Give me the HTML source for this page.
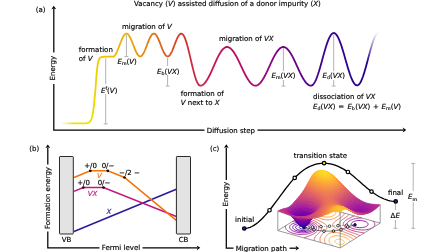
<!DOCTYPE html><html><head><meta charset="utf-8"><style>html,body{margin:0;padding:0;background:#fff}svg{display:block}text{font-family:"DejaVu Sans","Liberation Sans",sans-serif;font-size:7px;fill:#000;stroke:#000;stroke-width:0.15px}.i{font-style:italic}.sub{font-size:4.7px}.ax{stroke:#000;stroke-width:1.25;fill:none}.gb{stroke:#b2b2b2;stroke-width:1;fill:none}.ln{stroke-width:1.55;fill:none}</style></head><body>
<svg width="448" height="252" viewBox="0 0 448 252">
<rect width="448" height="252" fill="#fff"/>
<defs><linearGradient id="ga" gradientUnits="userSpaceOnUse" x1="60" y1="0" x2="380" y2="0"><stop offset="0" stop-color="#ece400"/><stop offset="0.09" stop-color="#ece200"/><stop offset="0.12" stop-color="#eecd00"/><stop offset="0.21" stop-color="#f0aa0a"/><stop offset="0.25" stop-color="#e8910c"/><stop offset="0.29" stop-color="#e17314"/><stop offset="0.34" stop-color="#dc551e"/><stop offset="0.38" stop-color="#d73728"/><stop offset="0.44" stop-color="#c8204a"/><stop offset="0.52" stop-color="#c30a5f"/><stop offset="0.61" stop-color="#a50a78"/><stop offset="0.7" stop-color="#780087"/><stop offset="0.78" stop-color="#50008c"/><stop offset="0.86" stop-color="#37008c"/><stop offset="0.93" stop-color="#280091"/><stop offset="1" stop-color="#280091"/></linearGradient>
<linearGradient id="fade" gradientUnits="userSpaceOnUse" x1="60" y1="0" x2="74" y2="0"><stop offset="0" stop-color="#fff" stop-opacity="1"/><stop offset="1" stop-color="#fff" stop-opacity="0"/></linearGradient>
<linearGradient id="fade2" gradientUnits="userSpaceOnUse" x1="0" y1="62" x2="0" y2="32"><stop offset="0" stop-color="#fff" stop-opacity="0"/><stop offset="1" stop-color="#fff" stop-opacity="1"/></linearGradient></defs>
<path d="M105.7 58.2 V123.9" class="gb"/>
<path d="M103.7 123.9 H107.7" class="gb"/>
<path d="M126.4 35 V56.6" class="gb"/>
<path d="M124.4 56.6 H128.4" class="gb"/>
<path d="M167.6 58 V86.1" class="gb"/>
<path d="M165.6 86.1 H169.6" class="gb"/>
<path d="M283.4 48 V86.1" class="gb"/>
<path d="M281.4 86.1 H285.4" class="gb"/>
<path d="M333.7 34.5 V86.1" class="gb"/>
<path d="M331.7 86.1 H335.7" class="gb"/>
<rect x="100" y="84" width="12" height="10" fill="#fff"/>
<rect x="160" y="66" width="16" height="9" fill="#fff"/>
<rect x="275" y="71" width="17" height="9" fill="#fff"/>
<rect x="326" y="71" width="16" height="9" fill="#fff"/>
<path d="M61 123.4 L61.34 123.4 L61.68 123.4 L62.01 123.4 L62.35 123.4 L62.69 123.4 L63.03 123.4 L63.37 123.4 L63.71 123.4 L64.04 123.4 L64.38 123.4 L64.72 123.4 L65.06 123.4 L65.4 123.4 L65.73 123.4 L66.07 123.4 L66.41 123.4 L66.75 123.4 L67.09 123.4 L67.42 123.4 L67.76 123.4 L68.1 123.4 L68.44 123.4 L68.78 123.4 L69.12 123.4 L69.45 123.4 L69.79 123.4 L70.13 123.4 L70.47 123.4 L70.81 123.4 L71.14 123.4 L71.48 123.4 L71.82 123.4 L72.16 123.4 L72.5 123.4 L72.83 123.4 L73.17 123.4 L73.51 123.4 L73.85 123.4 L74.19 123.4 L74.53 123.4 L74.86 123.4 L75.2 123.4 L75.54 123.4 L75.88 123.4 L76.22 123.4 L76.55 123.4 L76.89 123.4 L77.23 123.4 L77.57 123.4 L77.91 123.4 L78.24 123.4 L78.58 123.4 L78.92 123.4 L79.26 123.4 L79.6 123.4 L79.94 123.4 L80.27 123.4 L80.61 123.4 L80.95 123.4 L81.29 123.39 L81.63 123.39 L81.96 123.39 L82.3 123.39 L82.64 123.39 L82.98 123.38 L83.32 123.38 L83.65 123.37 L83.99 123.37 L84.33 123.36 L84.67 123.35 L85.01 123.33 L85.35 123.32 L85.68 123.3 L86.02 123.27 L86.36 123.24 L86.7 123.2 L87.04 123.15 L87.37 123.08 L87.71 123.01 L88.05 122.91 L88.39 122.78 L88.73 122.63 L89.06 122.44 L89.4 122.2 L89.74 121.9 L90.08 121.53 L90.42 121.08 L90.76 120.51 L91.09 119.82 L91.43 118.98 L91.77 117.95 L92.11 116.71 L92.45 115.23 L92.78 113.47 L93.12 111.41 L93.46 109.04 L93.8 106.33 L94.14 103.32 L94.47 100.02 L94.81 96.49 L95.15 92.81 L95.49 88.76 L95.83 83.92 L96.17 79.34 L96.5 75.17 L96.84 71.51 L97.18 68.4 L97.52 65.83 L97.86 63.75 L98.19 62.1 L98.53 60.81 L98.87 59.81 L99.21 59.05 L99.55 58.46 L99.88 58.02 L100.22 57.69 L100.56 57.44 L100.9 57.25 L101.24 57.11 L101.58 57.01 L101.91 56.93 L102.25 56.87 L102.59 56.83 L102.93 56.8 L103.27 56.77 L103.6 56.75 L103.94 56.74 L104.28 56.73 L104.62 56.72 L104.96 56.72 L105.29 56.71 L105.63 56.71 L105.97 56.71 L106.31 56.71 L106.65 56.7 L106.99 56.7 L107.32 56.7 L107.66 56.7 L108 56.7 L112.8 56.7 L113.39 56.59 L113.98 56.27 L114.57 55.74 L115.17 55.02 L115.76 54.11 L116.35 53.03 L116.94 51.81 L117.53 50.46 L118.12 49.02 L118.71 47.5 L119.3 45.94 L119.9 44.36 L120.49 42.8 L121.08 41.28 L121.67 39.84 L122.26 38.49 L122.85 37.27 L123.44 36.19 L124.03 35.28 L124.63 34.56 L125.22 34.03 L125.81 33.71 L126.4 33.6 L127 33.71 L127.6 34.02 L128.2 34.54 L128.8 35.26 L129.4 36.16 L130 37.22 L130.6 38.43 L131.2 39.76 L131.8 41.18 L132.4 42.68 L133 44.22 L133.6 45.78 L134.2 47.32 L134.8 48.82 L135.4 50.24 L136 51.57 L136.6 52.78 L137.2 53.84 L137.8 54.74 L138.4 55.46 L139 55.98 L139.6 56.29 L140.2 56.4 L140.79 56.29 L141.38 55.98 L141.97 55.46 L142.57 54.74 L143.16 53.84 L143.75 52.78 L144.34 51.57 L144.93 50.24 L145.52 48.82 L146.11 47.32 L146.7 45.78 L147.3 44.22 L147.89 42.68 L148.48 41.18 L149.07 39.76 L149.66 38.43 L150.25 37.22 L150.84 36.16 L151.43 35.26 L152.03 34.54 L152.62 34.02 L153.21 33.71 L153.8 33.6 L154.4 33.71 L155.01 34.02 L155.61 34.54 L156.22 35.26 L156.82 36.16 L157.43 37.22 L158.03 38.43 L158.63 39.76 L159.24 41.18 L159.84 42.68 L160.45 44.22 L161.05 45.78 L161.66 47.32 L162.26 48.82 L162.87 50.24 L163.47 51.57 L164.07 52.78 L164.68 53.84 L165.28 54.74 L165.89 55.46 L166.49 55.98 L167.1 56.29 L167.7 56.4 L168.29 56.29 L168.88 55.98 L169.47 55.46 L170.07 54.74 L170.66 53.84 L171.25 52.78 L171.84 51.57 L172.43 50.24 L173.02 48.82 L173.61 47.32 L174.2 45.78 L174.8 44.22 L175.39 42.68 L175.98 41.18 L176.57 39.76 L177.16 38.43 L177.75 37.22 L178.34 36.16 L178.93 35.26 L179.53 34.54 L180.12 34.02 L180.71 33.71 L181.3 33.6 L182.13 33.84 L182.95 34.57 L183.78 35.76 L184.6 37.39 L185.43 39.44 L186.26 41.87 L187.08 44.63 L187.91 47.67 L188.73 50.93 L189.56 54.35 L190.39 57.87 L191.21 61.43 L192.04 64.95 L192.87 68.37 L193.69 71.63 L194.52 74.67 L195.34 77.43 L196.17 79.86 L197 81.91 L197.82 83.54 L198.65 84.73 L199.47 85.46 L200.3 85.7 L201.46 85.52 L202.62 84.98 L203.78 84.1 L204.94 82.88 L206.1 81.36 L207.27 79.56 L208.43 77.51 L209.59 75.25 L210.75 72.83 L211.91 70.29 L213.07 67.67 L214.23 65.03 L215.39 62.41 L216.55 59.87 L217.71 57.45 L218.87 55.19 L220.03 53.14 L221.2 51.34 L222.36 49.82 L223.52 48.6 L224.68 47.72 L225.84 47.18 L227 47 L228.24 47.18 L229.48 47.72 L230.72 48.6 L231.96 49.82 L233.2 51.34 L234.43 53.14 L235.67 55.19 L236.91 57.45 L238.15 59.87 L239.39 62.41 L240.63 65.03 L241.87 67.67 L243.11 70.29 L244.35 72.83 L245.59 75.25 L246.83 77.51 L248.07 79.56 L249.3 81.36 L250.54 82.88 L251.78 84.1 L253.02 84.98 L254.26 85.52 L255.5 85.7 L256.71 85.52 L257.92 84.98 L259.13 84.1 L260.33 82.88 L261.54 81.36 L262.75 79.56 L263.96 77.51 L265.17 75.25 L266.38 72.83 L267.59 70.29 L268.8 67.67 L270 65.03 L271.21 62.41 L272.42 59.87 L273.63 57.45 L274.84 55.19 L276.05 53.14 L277.26 51.34 L278.47 49.82 L279.67 48.6 L280.88 47.72 L282.09 47.18 L283.3 47 L284.5 47.18 L285.71 47.72 L286.91 48.6 L288.12 49.82 L289.32 51.34 L290.53 53.14 L291.73 55.19 L292.93 57.45 L294.14 59.87 L295.34 62.41 L296.55 65.03 L297.75 67.67 L298.96 70.29 L300.16 72.83 L301.37 75.25 L302.57 77.51 L303.77 79.56 L304.98 81.36 L306.18 82.88 L307.39 84.1 L308.59 84.98 L309.8 85.52 L311 85.7 L311.99 85.45 L312.97 84.72 L313.96 83.52 L314.95 81.86 L315.93 79.79 L316.92 77.34 L317.91 74.55 L318.9 71.47 L319.88 68.17 L320.87 64.71 L321.86 61.15 L322.84 57.55 L323.83 53.99 L324.82 50.53 L325.8 47.23 L326.79 44.15 L327.78 41.36 L328.77 38.91 L329.75 36.84 L330.74 35.18 L331.73 33.98 L332.71 33.25 L333.7 33 L334.72 33.24 L335.73 33.97 L336.75 35.17 L337.77 36.81 L338.79 38.88 L339.8 41.32 L340.82 44.09 L341.84 47.15 L342.86 50.43 L343.87 53.87 L344.89 57.41 L345.91 60.99 L346.93 64.53 L347.94 67.97 L348.96 71.25 L349.98 74.31 L351 77.08 L352.01 79.52 L353.03 81.59 L354.05 83.23 L355.07 84.43 L356.08 85.16 L357.1 85.4 L358.05 85.15 L359 84.42 L359.96 83.2 L360.91 81.53 L361.86 79.45 L362.81 76.97 L363.77 74.16 L364.72 71.06 L365.67 67.74 L366.62 64.25 L367.57 60.66 L368.53 57.04 L369.48 53.45 L370.43 49.96 L371.38 46.64 L372.33 43.54 L373.29 40.73 L374.24 38.25 L375.19 36.17 L376.14 34.5 L377.1 33.28 L378.05 32.55 L379 32.3" fill="none" stroke="url(#ga)" stroke-width="1.8" stroke-linejoin="round"/>
<rect x="58" y="120" width="17" height="7" fill="url(#fade)"/>
<rect x="362" y="28" width="22" height="36" fill="url(#fade2)"/>
<path d="M53.8 52.5 V8.5" class="ax"/><path d="M53.8 5.7 l-2.4 3.6 l2.4 -0.9 l2.4 0.9z" fill="#000"/>
<path d="M53.8 84 V130 H204.5" class="ax"/>
<path d="M257.5 130 H403.5" class="ax"/><path d="M406.3 130 l-3.6 -2.4 l0.9 2.4 l-0.9 2.4z" fill="#000"/>
<text x="230.9" y="132.6" text-anchor="middle">Diffusion step</text>
<text transform="translate(55.4 68.2) rotate(-90)" text-anchor="middle">Energy</text>
<text x="35.8" y="12.3">(a)</text>
<text x="227.3" text-anchor="middle" y="6.3">Vacancy (<tspan class="i">V</tspan>) assisted diffusion of a donor impurity (<tspan class="i">X</tspan>)</text>
<text x="122" y="28.5">migration of <tspan class="i">V</tspan></text>
<text x="219" y="41.3">migration of <tspan class="i">VX</tspan></text>
<text x="78.8" y="51.8">formation</text><text x="78.8" y="61">of <tspan class="i">V</tspan></text>
<text x="180.7" y="96.3">formation of</text><text x="180.7" y="105.2"><tspan class="i">V</tspan> next to <tspan class="i">X</tspan></text>
<text x="313" y="98.5">dissociation of <tspan class="i">VX</tspan></text>
<text x="313" y="108.5"><tspan class="i">E</tspan><tspan class="sub" dy="1.5">d</tspan><tspan dy="-1.5">(</tspan><tspan class="i">VX</tspan>)<tspan dx="0.5"> =</tspan><tspan dx="1.1"> </tspan><tspan class="i">E</tspan><tspan class="sub" dy="1.5">b</tspan><tspan dy="-1.5" dx="0.4">(</tspan><tspan class="i">VX</tspan>)<tspan dx="0.4"> +</tspan><tspan dx="0.5"> </tspan><tspan class="i">E</tspan><tspan class="sub" dy="1.5">m</tspan><tspan dy="-1.5" dx="0.3">(</tspan><tspan class="i">V</tspan>)</text>
<text x="117.5" y="63.5"><tspan class="i">E</tspan><tspan class="sub" dy="1.5">m</tspan><tspan dy="-1.5">(</tspan><tspan class="i">V</tspan>)</text>
<text x="157" y="73.5"><tspan class="i">E</tspan><tspan class="sub" dy="1.5">b</tspan><tspan dy="-1.5">(</tspan><tspan class="i">VX</tspan>)</text>
<text x="271.5" y="77.6"><tspan class="i">E</tspan><tspan class="sub" dy="1.5">m</tspan><tspan dy="-1.5">(</tspan><tspan class="i">VX</tspan>)</text>
<text x="322.5" y="77.6"><tspan class="i">E</tspan><tspan class="sub" dy="1.5">d</tspan><tspan dy="-1.5">(</tspan><tspan class="i">VX</tspan>)</text>
<text x="101" y="92.5"><tspan class="i">E</tspan><tspan class="sub" dy="-2.6">f</tspan><tspan dy="2.6">(</tspan><tspan class="i">V</tspan>)</text>
<text x="29.3" y="151.3">(b)</text>
<path d="M47.8 147.5 V164.5" class="ax"/><path d="M47.8 144.5 l-2.4 3.6 l2.4 -0.9 l2.4 0.9z" fill="#000"/>
<path d="M47.8 231.5 V247.8 H99.5" class="ax"/>
<path d="M142.5 247.8 H197.5" class="ax"/><path d="M200.3 247.8 l-3.6 -2.4 l0.9 2.4 l-0.9 2.4z" fill="#000"/>
<text x="121" y="250.4" text-anchor="middle">Fermi level</text>
<text transform="translate(49.6 198) rotate(-90)" text-anchor="middle">Formation energy</text>
<path d="M74 231.5 L176.3 189.3" stroke="#2c1a9a" class="ln"/>
<path d="M74 191.4 L83.3 187.5 H103.5 L176.3 216.5" stroke="#c0187f" class="ln"/>
<path d="M74 177.5 L90.3 170.8 H107.8 L124.5 177.5 L176.3 220.3" stroke="#f47206" class="ln"/>
<circle cx="90.3" cy="170.8" r="1.35" fill="#1a0a0a"/>
<circle cx="107.8" cy="170.8" r="1.35" fill="#1a0a0a"/>
<circle cx="124.5" cy="177.5" r="1.35" fill="#1a0a0a"/>
<circle cx="83.3" cy="187.5" r="1.35" fill="#1a0a0a"/>
<circle cx="103.5" cy="187.5" r="1.35" fill="#1a0a0a"/>
<rect x="59.5" y="156.5" width="13.8" height="77.5" rx="0.6" fill="#e3e3e3" stroke="#2a2a2a" stroke-width="1"/>
<rect x="176.4" y="156.5" width="14.1" height="77.5" rx="0.6" fill="#e3e3e3" stroke="#2a2a2a" stroke-width="1"/>
<text x="66.6" y="241.8" text-anchor="middle">VB</text><text x="183.6" y="242" text-anchor="middle">CB</text>
<g style="font-size:5.4px"><text x="90.5" y="167.7" text-anchor="middle">+/0</text><text x="108" y="167.7" text-anchor="middle">0/−</text><text x="129.5" y="174.5" text-anchor="middle">−/2 −</text>
<text x="83.5" y="185" text-anchor="middle">+/0</text><text x="104" y="185" text-anchor="middle">0/−</text></g>
<text x="97" y="178" class="i" style="fill:#f47206;stroke:#f47206">V</text>
<text x="87.8" y="195.5" class="i" style="fill:#c0187f;stroke:#c0187f">VX</text>
<text x="106.5" y="214" class="i" style="fill:#2c1a9a;stroke:#2c1a9a">X</text>
<text x="210" y="151.3">(c)</text>
<path d="M226.3 147.5 V180" class="ax"/><path d="M226.3 144.3 l-2.4 3.6 l2.4 -0.9 l2.4 0.9z" fill="#000"/>
<path d="M226.3 209 V248.2 H233.5" class="ax"/>
<path d="M289.5 248.2 H296.5" class="ax"/><path d="M299.2 248.2 l-3.6 -2.4 l0.9 2.4 l-0.9 2.4z" fill="#000"/>
<text x="261.3" y="250.8" text-anchor="middle">Migration path</text>
<text transform="translate(228.1 194.2) rotate(-90)" text-anchor="middle">Energy</text>
<g stroke="#808080" stroke-width="0.8" fill="none">
<path d="M277.8 230.6 L317.8 205.8 L380.2 223.1"/>
</g>
<g fill="none" stroke-width="0.95">
<path d="M300.53 228.64 L299.95 228.37 L299.69 228.23 L299.16 227.62 L299.13 227.54 L299.24 226.97 L299.71 226.51 L300.54 226.14 L301.77 225.88 L302 225.86 L303.49 225.87 L304.34 225.99 L304.69 226.06 L305.26 226.25 L305.66 226.39 L306.36 226.89 L306.6 227.22 L306.66 227.64 L306.62 227.82 L306.18 228.3 L305.42 228.69 L304.61 228.91 L304.27 228.97 L302.89 229.04 L302.2 228.99 L301.58 228.92 L300.53 228.64" stroke="#2f0596"/>
<path d="M298.63 229.82 L298.39 229.73 L297.7 229.46 L296.89 229.03 L296.26 228.54 L296.22 228.51 L295.76 227.86 L295.73 227.8 L295.64 227.17 L295.69 226.97 L295.82 226.62 L296.2 226.13 L296.76 225.69 L297.5 225.3 L298.43 224.95 L299.3 224.74 L299.58 224.68 L301.04 224.48 L301.23 224.47 L302.78 224.44 L303.11 224.46 L304.13 224.54 L305.34 224.72 L306.43 224.98 L307.4 225.31 L308.25 225.72 L308.7 226.01 L308.97 226.2 L309.52 226.8 L309.55 226.84 L309.78 227.5 L309.78 227.57 L309.68 228.07 L309.39 228.59 L308.91 229.04 L308.9 229.05 L308.28 229.43 L308.23 229.46 L307.36 229.82 L306.3 230.13 L305.37 230.3 L304.97 230.36 L303.61 230.46 L303.2 230.46 L302.14 230.44 L300.84 230.31 L299.88 230.14 L299.67 230.1 L298.63 229.82" stroke="#5302a3"/>
<path d="M295.21 230.07 L295.11 230.01 L294.42 229.63 L293.74 229.11 L293.63 229.01 L293.19 228.52 L293.01 228.24 L292.82 227.82 L292.75 227.57 L292.74 226.97 L292.75 226.93 L292.91 226.42 L293.24 225.91 L293.7 225.44 L293.97 225.24 L294.29 225 L294.86 224.69 L295.01 224.6 L295.86 224.24 L296.86 223.92 L298.03 223.65 L298.05 223.64 L299.42 223.43 L299.98 223.38 L301.14 223.31 L301.61 223.3 L303.06 223.34 L303.5 223.37 L304.38 223.45 L305.6 223.63 L306.73 223.86 L307.77 224.15 L308.74 224.48 L309.62 224.87 L310.31 225.26 L310.41 225.31 L311.09 225.83 L311.43 226.17 L311.64 226.41 L311.93 226.9 L312.01 227.12 L312.1 227.55 L312.08 228.01 L312.06 228.13 L311.83 228.67 L311.46 229.17 L310.96 229.62 L310.73 229.78 L310.33 230.05 L310.13 230.15 L309.57 230.44 L308.68 230.79 L307.63 231.1 L306.8 231.28 L306.41 231.35 L304.95 231.55 L304.85 231.56 L303.22 231.64 L303.12 231.64 L301.76 231.61 L300.45 231.5 L300.44 231.49 L299.22 231.32 L298.09 231.09 L297.04 230.8 L296.08 230.46 L295.21 230.07" stroke="#7401a8"/>
<path d="M292.61 230.75 L291.86 230.31 L291.84 230.3 L291.13 229.8 L290.68 229.39 L290.53 229.24 L290.05 228.61 L290.04 228.61 L289.72 227.92 L289.71 227.88 L289.6 227.29 L289.61 227.01 L289.64 226.71 L289.83 226.16 L290.03 225.82 L290.13 225.64 L290.53 225.16 L291.04 224.7 L291.65 224.27 L292.36 223.87 L293.17 223.5 L294.09 223.15 L294.54 223.02 L295.13 222.84 L296.31 222.57 L296.94 222.47 L297.67 222.35 L298.82 222.23 L299.27 222.2 L300.46 222.15 L301.23 222.14 L301.95 222.16 L303.33 222.24 L303.96 222.3 L304.61 222.37 L305.82 222.56 L306.96 222.79 L308.03 223.05 L309.04 223.36 L309.99 223.71 L310.88 224.09 L311.4 224.36 L311.69 224.52 L312.44 224.99 L312.94 225.39 L313.09 225.52 L313.64 226.11 L313.71 226.2 L314.05 226.79 L314.1 226.91 L314.26 227.55 L314.26 227.59 L314.24 228.14 L314.1 228.62 L314.08 228.69 L313.79 229.21 L313.39 229.7 L312.9 230.16 L312.3 230.59 L311.61 231 L310.83 231.38 L309.94 231.73 L308.93 232.05 L308.3 232.22 L307.8 232.34 L306.51 232.58 L306.13 232.63 L305 232.76 L304.33 232.81 L303.2 232.86 L302.74 232.87 L301.29 232.83 L300.84 232.8 L299.94 232.73 L298.69 232.58 L297.51 232.38 L296.4 232.13 L295.36 231.85 L294.37 231.52 L293.46 231.16 L292.61 230.75" stroke="#9410a2"/>
<path d="M354.65 226.81 L354.34 226.7 L353.72 226.46 L352.89 226.03 L352.18 225.54 L352.1 225.48 L351.63 224.95 L351.48 224.71 L351.31 224.22 L351.28 224.06 L351.37 223.48 L351.53 223.14 L351.64 222.96 L352.1 222.49 L352.69 222.05 L353.43 221.66 L354.3 221.3 L354.72 221.17 L355.34 220.99 L356.56 220.73 L357.05 220.66 L358.06 220.55 L358.81 220.5 L360.01 220.49 L360.32 220.5 L361.65 220.6 L362.87 220.78 L363.97 221.03 L364.96 221.35 L365.86 221.73 L366.64 222.17 L366.99 222.43 L367.31 222.7 L367.77 223.24 L367.81 223.31 L368.05 223.92 L368.07 224.09 L368.05 224.52 L367.86 225.06 L367.74 225.23 L367.49 225.56 L366.96 226.01 L366.29 226.42 L365.47 226.79 L364.91 226.98 L364.48 227.12 L363.29 227.38 L362.59 227.49 L361.82 227.57 L360.86 227.63 L359.9 227.64 L359.36 227.62 L358.02 227.52 L356.79 227.35 L356.4 227.27 L355.67 227.11 L354.65 226.81" stroke="#9410a2"/>
<path d="M292.45 221.52 L292.48 221.51 L293.64 221.23 L294.7 221.05 L294.98 221.01 L296.49 220.83 L296.58 220.82 L298.25 220.72 L298.26 220.72 L299.78 220.71 L300.43 220.72 L301.2 220.76 L302.54 220.86 L303.44 220.96 L303.81 221.01 L305.03 221.19 L306.19 221.4 L307.3 221.64 L308.36 221.92 L309.38 222.22 L310.36 222.54 L311.29 222.9 L312.17 223.29 L312.56 223.49 L313 223.71 L313.77 224.16 L314.39 224.59 L314.48 224.66 L315.12 225.19 L315.38 225.47 L315.66 225.79 L315.97 226.23 L316.1 226.45 L316.3 226.92 L316.38 227.21 L316.45 227.56 L316.45 228.1 L316.45 228.15 L316.33 228.72 L316.09 229.25 L316.09 229.25 L315.78 229.76 L315.38 230.25 L314.9 230.72 L314.34 231.16 L313.72 231.58 L313.02 231.99 L312.26 232.38 L311.42 232.74 L310.5 233.09 L309.5 233.41 L309.31 233.46 L308.4 233.7 L307.18 233.96 L306.92 234.01 L305.82 234.18 L304.96 234.29 L304.27 234.35 L303.24 234.42 L302.45 234.44 L301.67 234.46 L300.24 234.42 L300.2 234.42 L298.87 234.33 L297.59 234.19 L296.76 234.06 L296.38 234.01 L295.22 233.8 L294.12 233.55 L293.07 233.26 L292.07 232.95 L291.13 232.6 L290.48 232.32 L290.24 232.22 L289.38 231.82 L288.59 231.37 L288.14 231.08 L287.86 230.89 L287.19 230.38 L286.95 230.15 L286.6 229.81 L286.21 229.34 L286.1 229.19 L285.75 228.62 L285.7 228.5 L285.49 227.95 L285.44 227.73 L285.37 227.32 L285.4 226.82 L285.4 226.73 L285.51 226.16 L285.73 225.68" stroke="#ae2892"/>
<path d="M372.75 221.03 L372.86 221.12 L373.5 221.65 L373.75 221.91 L374.05 222.25 L374.34 222.67 L374.48 222.91 L374.68 223.37 L374.77 223.67 L374.84 224.01 L374.84 224.55 L374.84 224.61 L374.73 225.17 L374.5 225.7 L374.5 225.71 L374.18 226.22 L373.77 226.7 L373.26 227.16 L372.66 227.59 L371.98 228 L371.21 228.38 L370.33 228.74 L369.34 229.06 L368.89 229.18 L368.23 229.35 L366.97 229.6 L366.63 229.65 L365.53 229.8 L364.78 229.86 L363.83 229.93 L363.14 229.95 L361.76 229.95 L361.63 229.95 L360.23 229.88 L358.99 229.78 L358.9 229.77 L357.65 229.61 L356.46 229.42 L355.32 229.2 L354.23 228.94 L353.2 228.64 L352.21 228.32 L351.29 227.96 L350.42 227.57 L349.77 227.22 L349.61 227.14 L348.87 226.66 L348.33 226.23 L348.22 226.13 L347.67 225.54 L347.59 225.42 L347.27 224.86 L347.21 224.72 L347.07 224.08 L347.07 224.05 L347.11 223.5 L347.27 222.99 L347.29 222.95 L347.6 222.44 L348.01 221.95 L348.51 221.49 L349.09 221.06 L349.76 220.64 L350.5 220.25 L351.32 219.88 L352.2 219.53 L353.17 219.19 L353.6 219.06 L354.22 218.89 L355.37 218.61 L356.08 218.46 L356.64 218.36 L358.06 218.16 L358.07 218.16 L359.72 218.02 L359.81 218.01 L361.37 217.98 L361.77 217.99" stroke="#ae2892"/>
<path d="M298.06 218.04 L299.21 218.26 L300.35 218.48 L301.48 218.72 L302.6 218.96 L303.06 219.06 L303.7 219.21 L304.79 219.46 L305.86 219.73 L306.92 220.01 L307.95 220.31 L308.96 220.61 L309.94 220.94 L310.33 221.07 L310.9 221.28 L311.84 221.63 L312.74 222 L313.6 222.4 L314.39 222.8 L314.43 222.82 L315.23 223.26 L315.97 223.73 L316.19 223.9 L316.66 224.24 L317.28 224.78 L317.31 224.8 L317.84 225.37 L318.02 225.6 L318.31 226.01 L318.48 226.33 L318.66 226.73 L318.75 227 L318.86 227.54 L318.87 227.63 L318.87 228.23 L318.82 228.49 L318.77 228.8 L318.58 229.34 L318.39 229.7 L318.31 229.87 L317.98 230.37 L317.58 230.86 L317.12 231.33 L316.81 231.61 L316.61 231.79 L316.07 232.24 L315.47 232.67 L314.84 233.09 L314.16 233.5 L313.45 233.9 L312.71 234.3 L311.93 234.68 L311.62 234.83 L311.13 235.05 L310.3 235.42 L309.44 235.78 L308.57 236.14 L307.67 236.49 L307.02 236.75 L306.77 236.84 L305.85 237.18 L304.94 237.53 L304.05 237.88" stroke="#c5407e"/>
<path d="M364.21 233.01 L364.13 233 L363.02 232.82 L361.83 232.62 L360.66 232.42 L359.5 232.2 L358.36 231.97 L358 231.9 L357.24 231.74 L356.14 231.49 L355.05 231.23 L354 230.95 L352.96 230.66 L351.95 230.35 L350.97 230.02 L350.12 229.71 L350.02 229.68 L349.11 229.31 L348.23 228.93 L347.39 228.51 L346.82 228.2 L346.59 228.07 L345.85 227.6 L345.27 227.17 L345.16 227.09 L344.55 226.54 L344.34 226.32 L344.02 225.94 L343.76 225.56 L343.6 225.27 L343.43 224.87 L343.33 224.5 L343.28 224.23 L343.28 223.63 L343.29 223.59 L343.41 223.07 L343.64 222.53 L343.73 222.38 L343.96 222.02 L344.36 221.54 L344.83 221.07 L345.36 220.62 L345.95 220.18 L346.58 219.76 L347.25 219.35 L347.96 218.95 L348.7 218.55 L349.47 218.17 L350.26 217.79 L351.07 217.42 L351.89 217.05 L352.73 216.68 L353.4 216.38 L353.57 216.32 L354.43 215.95" stroke="#c5407e"/>
<path d="M359.97 235.64 L359.12 235.24 L358.89 235.14 L358.23 234.85 L357.33 234.48 L356.39 234.13 L355.45 233.78 L354.49 233.44 L353.52 233.11 L352.64 232.81 L352.55 232.78 L351.59 232.44 L350.62 232.11 L349.67 231.77 L348.72 231.42 L347.79 231.06 L346.88 230.69 L346.34 230.46 L345.99 230.31 L345.12 229.92 L344.28 229.51 L343.48 229.07 L343.47 229.07 L342.7 228.62 L341.98 228.14 L341.8 228 L341.29 227.63 L340.7 227.1 L340.67 227.08 L340.12 226.49 L339.97 226.3 L339.65 225.84 L339.5 225.57 L339.31 225.13 L339.23 224.9 L339.13 224.3 L339.12 224.27 L339.14 223.68 L339.22 223.31 L339.27 223.12 L339.5 222.58 L339.81 222.07 L339.9 221.96 L340.19 221.58 L340.63 221.1 L341.13 220.64 L341.67 220.19 L342.24 219.75 L342.84 219.32 L343.46 218.9 L344.1 218.47 L344.74 218.05 L345.38 217.63 L345.41 217.61 L346.01 217.21 L346.62 216.78 L347.21 216.35 L347.76 215.9 L348.26 215.44 L348.71 214.97 L349.08 214.47" stroke="#d9586a"/>
<path d="M302.82 215.09 L303.5 215.59 L303.5 215.6 L304.22 216.09 L304.97 216.55 L305.12 216.64 L305.76 217 L306.57 217.43 L307.42 217.84 L307.63 217.93 L308.28 218.23 L309.16 218.62 L310.05 219 L310.95 219.38 L311.4 219.58 L311.84 219.76 L312.73 220.14 L313.61 220.53 L314.47 220.93 L314.96 221.16 L315.32 221.33 L316.15 221.75 L316.96 222.19 L317.36 222.43 L317.73 222.64 L318.47 223.11 L318.96 223.47 L319.17 223.62 L319.82 224.15 L320.05 224.37 L320.41 224.71 L320.81 225.18 L320.92 225.32 L321.31 225.91 L321.35 225.99 L321.64 226.6 L321.68 226.73 L321.81 227.25 L321.85 227.55 L321.87 227.86 L321.82 228.45 L321.81 228.51 L321.71 229.02 L321.51 229.56 L321.46 229.66 L321.27 230.09 L320.96 230.6 L320.6 231.1 L320.57 231.14 L320.23 231.6 L319.81 232.08 L319.36 232.55 L318.89 233.02 L318.59 233.3 L318.41 233.48 L317.92 233.95 L317.43 234.41 L316.95 234.87 L316.47 235.34 L316.02 235.81 L315.99 235.85 L315.61 236.3 L315.24 236.79 L314.91 237.3 L314.8 237.52 L314.65 237.83 L314.45 238.37 L314.37 238.72 L314.32 238.93 L314.26 239.51 L314.26 239.72 L314.26 240.11 L314.32 240.62 L314.33 240.73" stroke="#d9586a"/>
<path d="M356.64 237.71 L356.17 237.37 L355.94 237.21 L355.19 236.74 L354.41 236.29 L354.39 236.28 L353.6 235.86 L352.75 235.45 L351.88 235.06 L351.44 234.86 L350.99 234.68 L350.09 234.3 L349.17 233.94 L348.24 233.58 L347.31 233.23 L346.37 232.88 L346.22 232.82 L345.43 232.53 L344.49 232.17 L343.56 231.82 L342.64 231.46 L341.73 231.09 L340.9 230.75 L340.83 230.72 L339.93 230.34 L339.06 229.94 L338.21 229.54 L337.61 229.24 L337.38 229.12 L336.57 228.69 L335.8 228.24 L335.5 228.05 L335.05 227.76 L334.36 227.26 L334.12 227.07 L333.72 226.72 L333.3 226.25 L333.2 226.11 L332.89 225.54 L332.85 225.4 L332.76 224.9 L332.82 224.48 L332.85 224.33 L333.06 223.79 L333.37 223.28 L333.47 223.15 L333.75 222.78 L334.19 222.31 L334.68 221.84 L335.21 221.39 L335.78 220.95 L336.38 220.52 L337 220.1 L337.64 219.67 L338.28 219.26 L338.94 218.84 L339.59 218.42 L339.61 218.41 L340.23 218 L340.86 217.58 L341.46 217.14 L342.03 216.71 L342.57 216.25 L343.05 215.79 L343.47 215.31 L343.76 214.9 L343.82 214.81 L344.08 214.28 L344.24 213.73 L344.24 213.67 L344.27 213.14" stroke="#e97158"/>
<path d="M306.17 213.01 L306.65 213.48 L306.76 213.58 L307.37 214.13 L307.62 214.34 L308.01 214.67 L308.69 215.18 L308.82 215.27 L309.39 215.68 L310.12 216.16 L310.34 216.29 L310.88 216.62 L311.65 217.08 L312.32 217.44 L312.45 217.51 L313.27 217.94 L314.1 218.36 L314.9 218.75 L314.94 218.77 L315.79 219.18 L316.64 219.58 L317.5 219.98 L317.94 220.19 L318.35 220.39 L319.2 220.79 L320.05 221.2 L320.8 221.59 L320.87 221.62 L321.7 222.04 L322.5 222.48 L323.11 222.82 L323.29 222.93 L324.05 223.39 L324.77 223.87 L324.79 223.89 L325.46 224.38 L325.96 224.81 L326.08 224.93 L326.59 225.55 L326.62 225.59 L326.93 226.26 L326.94 226.28 L327.05 226.91 L327.03 227.14 L326.99 227.49 L326.82 228.04 L326.74 228.25 L326.6 228.58 L326.34 229.1 L326.01 229.61 L325.98 229.65 L325.68 230.12 L325.32 230.62 L324.93 231.11 L324.71 231.38 L324.53 231.59 L324.13 232.08 L323.71 232.56 L323.29 233.04 L323.01 233.36 L322.87 233.53 L322.47 234.01 L322.07 234.5 L321.69 234.99 L321.54 235.21 L321.34 235.49 L321.02 236 L320.73 236.52 L320.65 236.69 L320.49 237.05 L320.28 237.59 L320.19 237.91 L320.13 238.15 L320.02 238.72 L319.99 238.97 L319.96 239.3 L319.96 239.9 L319.97 239.92 L320.02 240.51 L320.06 240.79 L320.13 241.14 L320.25 241.6 L320.31 241.79 L320.52 242.37 L320.56 242.45" stroke="#e97158"/>
<path d="M353.62 239.58 L353.05 239 L352.88 238.85 L352.41 238.46 L351.72 237.96 L351.65 237.92 L350.98 237.48 L350.2 237.04 L349.69 236.77 L349.38 236.61 L348.52 236.21 L347.64 235.82 L346.73 235.45 L345.8 235.1 L345.78 235.09 L344.84 234.76 L343.87 234.43 L342.87 234.11 L341.85 233.81 L340.82 233.52 L339.76 233.24 L338.67 232.98 L337.55 232.75 L336.95 232.64 L336.36 232.55 L335.09 232.41 L333.73 232.35 L333.67 232.35 L332.09 232.49 L331.87 232.53 L330.93 232.77 L330 233.11 L329.21 233.49 L328.52 233.9 L327.91 234.32 L327.35 234.77 L326.85 235.23 L326.39 235.7 L325.98 236.18 L325.98 236.19 L325.62 236.68 L325.31 237.19 L325.06 237.69 L325.05 237.72 L324.83 238.26 L324.67 238.81 L324.66 238.87 L324.57 239.38 L324.53 239.88 L324.53 239.97 L324.55 240.57 L324.58 240.79 L324.65 241.2 L324.76 241.61 L324.83 241.84 L325.03 242.37 L325.09 242.52 L325.39 243.09 L325.46 243.22 L325.82 243.75 L325.96 243.95" stroke="#f58c46"/>
<path d="M309.01 211.25 L309.46 211.86 L309.48 211.89 L310.01 212.49 L310.17 212.66 L310.59 213.07 L311.09 213.51 L311.22 213.62 L311.88 214.14 L312.3 214.44 L312.57 214.64 L313.3 215.12 L313.9 215.49 L314.06 215.58 L314.85 216.03 L315.66 216.46 L316.2 216.72 L316.5 216.87 L317.36 217.27 L318.25 217.65 L319.16 218.02 L320.1 218.37 L320.63 218.55 L321.07 218.7 L322.08 219.01 L323.13 219.29 L324.16 219.53 L324.23 219.54 L325.42 219.74 L326.74 219.85 L327.51 219.86 L328.28 219.83 L329.21 219.73 L330.21 219.57 L330.53 219.5 L331.64 219.21 L332.66 218.89 L333 218.77 L333.59 218.55 L334.45 218.19 L335.27 217.82 L336.04 217.44 L336.76 217.04 L337.42 216.62 L338.03 216.19 L338.58 215.75 L339.05 215.28 L339.44 214.79 L339.45 214.77 L339.73 214.27 L339.91 213.73 L339.94 213.54 L339.97 213.14 L339.89 212.63 L339.87 212.52 L339.61 211.87 L339.59 211.84" stroke="#f58c46"/>
<path d="M350.25 241.67 L349.98 241.04 L349.92 240.94 L349.48 240.3 L349.46 240.29 L348.9 239.71 L348.61 239.47 L348.25 239.18 L347.53 238.69 L347.16 238.46 L346.76 238.24 L345.92 237.82 L345.04 237.43 L344.11 237.08 L343.13 236.75 L342.78 236.65 L342.1 236.46 L341.94 236.42 L341.01 236.2 L339.86 235.98 L338.63 235.81 L337.29 235.71 L337.2 235.7 L335.75 235.73 L335.26 235.76 L333.89 235.98 L333.8 236 L332.84 236.29 L331.98 236.65 L331.26 237.05 L330.66 237.48 L330.17 237.94 L329.76 238.43 L329.67 238.56 L329.44 238.94 L329.21 239.47 L329.11 239.85 L329.06 240.03 L329.01 240.61 L329.02 240.83 L329.06 241.22 L329.16 241.68 L329.22 241.86 L329.45 242.43 L329.51 242.54 L329.86 243.11 L329.97 243.27 L330.35 243.74 L330.65 244.06 L330.92 244.32 L331.55 244.86 L331.64 244.93 L332.25 245.37 L332.99 245.84 L333.23 245.97" stroke="#fdab33"/>
<path d="M312.39 209.16 L312.41 209.69 L312.49 210.03 L312.58 210.33 L312.78 210.78 L312.91 211.02 L313.2 211.45 L313.44 211.77 L313.71 212.07 L314.23 212.59 L314.29 212.64 L314.94 213.17 L315.4 213.51 L315.64 213.67 L316.38 214.14 L317.17 214.59 L317.23 214.62 L318.01 215 L318.89 215.39 L319.81 215.75 L320.79 216.08 L321.81 216.38 L322.9 216.64 L324.06 216.85 L325.32 217 L326 217.05 L326.71 217.07 L328.11 217.03 L328.3 217.02 L329.62 216.85 L330.27 216.73 L330.86 216.6 L331.9 216.29 L332.82 215.94 L333.6 215.56 L334.27 215.15 L334.83 214.71 L335.26 214.23 L335.57 213.72 L335.68 213.38 L335.74 213.17 L335.73 212.57 L335.7 212.43 L335.52 211.91 L335.4 211.69 L335.05 211.18 L334.93 211.04 L334.36 210.46 L334.25 210.36" stroke="#fdab33"/>
<path d="M335.98 243.14 L336.66 243.57 L337.52 243.96 L338.54 244.26 L339.76 244.44 L340.71 244.45 L341.33 244.4 L342.12 244.25 L343.05 243.91 L343.71 243.49 L344.16 243.02 L344.42 242.49 L344.42 242.49 L344.38 241.88 L344.3 241.63 L344.04 241.19 L343.85 240.97 L343.21 240.43 L342.99 240.3 L342.42 239.99 L341.49 239.64 L340.42 239.37 L339.18 239.2 L339.01 239.2 L337.55 239.28 L337.3 239.32 L336.29 239.64 L335.6 240.05 L335.15 240.52 L334.98 240.87 L334.92 241.05 L334.92 241.65 L334.97 241.81 L335.22 242.33 L335.35 242.51 L335.91 243.09 L335.98 243.14" stroke="#fdcb26"/>
<path d="M319.93 212.97 L320.7 213.34 L321.63 213.69 L322.64 214 L323.76 214.24 L325 214.4 L325.11 214.41 L326.47 214.42 L327.15 214.37 L328.39 214.17 L328.48 214.14 L329.41 213.8 L330.08 213.39 L330.51 212.91 L330.54 212.83 L330.67 212.36 L330.6 211.86 L330.55 211.73 L330.19 211.18 L330.01 210.98 L329.59 210.62 L328.89 210.12 L328.7 210.02 L328.07 209.69 L327.19 209.31 L326.23 208.97 L325.19 208.68 L324.07 208.45 L322.84 208.28 L322.26 208.23 L321.41 208.23 L320.34 208.3 L319.52 208.47 L319.14 208.57 L318.35 208.94 L317.83 209.4 L317.73 209.58 L317.56 209.92 L317.54 210.51 L317.57 210.61 L317.81 211.19 L317.91 211.33 L318.44 211.94 L318.47 211.97 L319.11 212.46 L319.85 212.93 L319.93 212.97" stroke="#fdcb26"/>
</g>
<g stroke="#808080" stroke-width="0.8" fill="none">
<path d="M277.8 230.6 L340.2 247.9 L380.2 223.1"/>
<path d="M277.8 230.6 V211.05 M340.2 247.9 V212.32 M380.2 223.1 V204.84"/>
</g>
<path d="M303.9 227.5 L312.4 227.1 L320.9 226.6 L329.5 226.2 L338 225.7 L346.5 225.3 L355 224.8" fill="none" stroke="#444" stroke-width="0.5" stroke-dasharray="1.2 0.8"/>
<path d="M303.9 227.5 L314 229.8 L324 231.2 L333.5 231 L341 229.8 L347.7 226.9 L355 224.8" fill="none" stroke="#222" stroke-width="0.6"/>
<circle cx="312.4" cy="227.1" r="1.3" fill="#fff" stroke="#111" stroke-width="0.75"/>
<circle cx="320.9" cy="226.6" r="1.3" fill="#fff" stroke="#111" stroke-width="0.75"/>
<circle cx="329.5" cy="226.2" r="1.3" fill="#fff" stroke="#111" stroke-width="0.75"/>
<circle cx="338" cy="225.7" r="1.3" fill="#fff" stroke="#111" stroke-width="0.75"/>
<circle cx="346.5" cy="225.3" r="1.3" fill="#fff" stroke="#111" stroke-width="0.75"/>
<circle cx="303.9" cy="227.5" r="1.3" fill="#2a0a9a" stroke="#000" stroke-width="0.75"/>
<circle cx="314" cy="229.8" r="1.3" fill="#fff" stroke="#000" stroke-width="0.75"/>
<circle cx="324" cy="231.2" r="1.3" fill="#fff" stroke="#000" stroke-width="0.75"/>
<circle cx="333.5" cy="231" r="1.3" fill="#f0e020" stroke="#000" stroke-width="0.75"/>
<circle cx="341" cy="229.8" r="1.3" fill="#fff" stroke="#000" stroke-width="0.75"/>
<circle cx="347.7" cy="226.9" r="1.3" fill="#fff" stroke="#000" stroke-width="0.75"/>
<circle cx="355" cy="224.8" r="1.3" fill="#2a0a9a" stroke="#000" stroke-width="0.75"/>
<g stroke-width="0.7" stroke-linejoin="round">
<path d="M316.69 171.63 L318.42 171.18 L319.53 171.2 L317.8 171.47 Z" fill="#fdb42f" stroke="#fdb42f"/>
<path d="M315.58 172.07 L317.31 171.47 L318.42 171.18 L316.69 171.63 Z" fill="#feb82c" stroke="#feb82c"/>
<path d="M318.42 171.18 L320.16 170.88 L321.27 171.07 L319.53 171.2 Z" fill="#febb2b" stroke="#febb2b"/>
<path d="M314.47 172.84 L316.2 172.12 L317.31 171.47 L315.58 172.07 Z" fill="#feba2c" stroke="#feba2c"/>
<path d="M317.31 171.47 L319.04 171.02 L320.16 170.88 L318.42 171.18 Z" fill="#fec029" stroke="#fec029"/>
<path d="M320.16 170.88 L321.89 170.76 L323 171.11 L321.27 171.07 Z" fill="#fec029" stroke="#fec029"/>
<path d="M313.36 173.94 L315.09 173.14 L316.2 172.12 L314.47 172.84 Z" fill="#feb82c" stroke="#feb82c"/>
<path d="M316.2 172.12 L317.93 171.55 L319.04 171.02 L317.31 171.47 Z" fill="#fdc328" stroke="#fdc328"/>
<path d="M319.04 171.02 L320.78 170.76 L321.89 170.76 L320.16 170.88 Z" fill="#fdc827" stroke="#fdc827"/>
<path d="M321.89 170.76 L323.62 170.85 L324.73 171.35 L323 171.11 Z" fill="#fdc527" stroke="#fdc527"/>
<path d="M323.62 170.85 L325.36 171.18 L326.47 171.79 L324.73 171.35 Z" fill="#fdc627" stroke="#fdc627"/>
<path d="M312.24 175.35 L313.98 174.52 L315.09 173.14 L313.36 173.94 Z" fill="#fdb22f" stroke="#fdb22f"/>
<path d="M315.09 173.14 L316.82 172.48 L317.93 171.55 L316.2 172.12 Z" fill="#fdc328" stroke="#fdc328"/>
<path d="M317.93 171.55 L319.67 171.16 L320.78 170.76 L319.04 171.02 Z" fill="#fccd25" stroke="#fccd25"/>
<path d="M320.78 170.76 L322.51 170.72 L323.62 170.85 L321.89 170.76 Z" fill="#fcce25" stroke="#fcce25"/>
<path d="M311.13 177.03 L312.87 176.2 L313.98 174.52 L312.24 175.35 Z" fill="#fdab33" stroke="#fdab33"/>
<path d="M313.98 174.52 L315.71 173.8 L316.82 172.48 L315.09 173.14 Z" fill="#febe2a" stroke="#febe2a"/>
<path d="M316.82 172.48 L318.56 172 L319.67 171.16 L317.93 171.55 Z" fill="#fccd25" stroke="#fccd25"/>
<path d="M319.67 171.16 L321.4 171.01 L322.51 170.72 L320.78 170.76 Z" fill="#fbd324" stroke="#fbd324"/>
<path d="M322.51 170.72 L324.24 170.93 L325.36 171.18 L323.62 170.85 Z" fill="#fcd225" stroke="#fcd225"/>
<path d="M325.36 171.18 L327.09 171.76 L328.2 172.45 L326.47 171.79 Z" fill="#fdc627" stroke="#fdc627"/>
<path d="M321.4 171.01 L323.13 171.11 L324.24 170.93 L322.51 170.72 Z" fill="#fad824" stroke="#fad824"/>
<path d="M324.24 170.93 L325.98 171.42 L327.09 171.76 L325.36 171.18 Z" fill="#fcd225" stroke="#fcd225"/>
<path d="M327.09 171.76 L328.82 172.58 L329.93 173.33 L328.2 172.45 Z" fill="#fdc328" stroke="#fdc328"/>
<path d="M310.02 178.91 L311.76 178.12 L312.87 176.2 L311.13 177.03 Z" fill="#fba139" stroke="#fba139"/>
<path d="M312.87 176.2 L314.6 175.47 L315.71 173.8 L313.98 174.52 Z" fill="#feb72d" stroke="#feb72d"/>
<path d="M315.71 173.8 L317.44 173.26 L318.56 172 L316.82 172.48 Z" fill="#fdc827" stroke="#fdc827"/>
<path d="M318.56 172 L320.29 171.75 L321.4 171.01 L319.67 171.16 Z" fill="#fbd524" stroke="#fbd524"/>
<path d="M325.98 171.42 L327.71 172.17 L328.82 172.58 L327.09 171.76 Z" fill="#fcd025" stroke="#fcd025"/>
<path d="M328.82 172.58 L330.56 173.64 L331.67 174.42 L329.93 173.33 Z" fill="#febe2a" stroke="#febe2a"/>
<path d="M308.91 180.93 L310.64 180.2 L311.76 178.12 L310.02 178.91 Z" fill="#f9973f" stroke="#f9973f"/>
<path d="M311.76 178.12 L313.49 177.41 L314.6 175.47 L312.87 176.2 Z" fill="#fdac33" stroke="#fdac33"/>
<path d="M314.6 175.47 L316.33 174.9 L317.44 173.26 L315.71 173.8 Z" fill="#fdc229" stroke="#fdc229"/>
<path d="M317.44 173.26 L319.18 172.94 L320.29 171.75 L318.56 172 Z" fill="#fcd225" stroke="#fcd225"/>
<path d="M320.29 171.75 L322.02 171.76 L323.13 171.11 L321.4 171.01 Z" fill="#fada24" stroke="#fada24"/>
<path d="M323.13 171.11 L324.87 171.5 L325.98 171.42 L324.24 170.93 Z" fill="#fada24" stroke="#fada24"/>
<path d="M307.8 183 L309.53 182.37 L310.64 180.2 L308.91 180.93 Z" fill="#f58b47" stroke="#f58b47"/>
<path d="M319.18 172.94 L320.91 172.86 L322.02 171.76 L320.29 171.75 Z" fill="#fad824" stroke="#fad824"/>
<path d="M322.02 171.76 L323.76 172.05 L324.87 171.5 L323.13 171.11 Z" fill="#f9dd25" stroke="#f9dd25"/>
<path d="M324.87 171.5 L326.6 172.18 L327.71 172.17 L325.98 171.42 Z" fill="#fad824" stroke="#fad824"/>
<path d="M327.71 172.17 L329.44 173.2 L330.56 173.64 L328.82 172.58 Z" fill="#fdcb26" stroke="#fdcb26"/>
<path d="M330.56 173.64 L332.29 174.94 L333.4 175.7 L331.67 174.42 Z" fill="#feb82c" stroke="#feb82c"/>
<path d="M310.64 180.2 L312.38 179.55 L313.49 177.41 L311.76 178.12 Z" fill="#fba139" stroke="#fba139"/>
<path d="M313.49 177.41 L315.22 176.84 L316.33 174.9 L314.6 175.47 Z" fill="#feb72d" stroke="#feb72d"/>
<path d="M316.33 174.9 L318.07 174.52 L319.18 172.94 L317.44 173.26 Z" fill="#fdca26" stroke="#fdca26"/>
<path d="M306.69 185.06 L308.42 184.54 L309.53 182.37 L307.8 183 Z" fill="#f07f4f" stroke="#f07f4f"/>
<path d="M309.53 182.37 L311.27 181.78 L312.38 179.55 L310.64 180.2 Z" fill="#f89441" stroke="#f89441"/>
<path d="M323.76 172.05 L325.49 172.65 L326.6 172.18 L324.87 171.5 Z" fill="#f9dd25" stroke="#f9dd25"/>
<path d="M326.6 172.18 L328.33 173.15 L329.44 173.2 L327.71 172.17 Z" fill="#fbd524" stroke="#fbd524"/>
<path d="M329.44 173.2 L331.18 174.48 L332.29 174.94 L330.56 173.64 Z" fill="#fdc527" stroke="#fdc527"/>
<path d="M332.29 174.94 L334.02 176.43 L335.13 177.15 L333.4 175.7 Z" fill="#fdb130" stroke="#fdb130"/>
<path d="M312.38 179.55 L314.11 178.99 L315.22 176.84 L313.49 177.41 Z" fill="#fdab33" stroke="#fdab33"/>
<path d="M315.22 176.84 L316.96 176.44 L318.07 174.52 L316.33 174.9 Z" fill="#fec029" stroke="#fec029"/>
<path d="M318.07 174.52 L319.8 174.38 L320.91 172.86 L319.18 172.94 Z" fill="#fcd225" stroke="#fcd225"/>
<path d="M320.91 172.86 L322.64 173.07 L323.76 172.05 L322.02 171.76 Z" fill="#f9dc24" stroke="#f9dc24"/>
<path d="M305.58 187.06 L307.31 186.65 L308.42 184.54 L306.69 185.06 Z" fill="#eb7556" stroke="#eb7556"/>
<path d="M308.42 184.54 L310.16 184.03 L311.27 181.78 L309.53 182.37 Z" fill="#f48849" stroke="#f48849"/>
<path d="M311.27 181.78 L313 181.27 L314.11 178.99 L312.38 179.55 Z" fill="#fa9c3c" stroke="#fa9c3c"/>
<path d="M316.96 176.44 L318.69 176.25 L319.8 174.38 L318.07 174.52 Z" fill="#fdc627" stroke="#fdc627"/>
<path d="M319.8 174.38 L321.53 174.51 L322.64 173.07 L320.91 172.86 Z" fill="#fbd524" stroke="#fbd524"/>
<path d="M322.64 173.07 L324.38 173.58 L325.49 172.65 L323.76 172.05 Z" fill="#f9dc24" stroke="#f9dc24"/>
<path d="M325.49 172.65 L327.22 173.55 L328.33 173.15 L326.6 172.18 Z" fill="#fada24" stroke="#fada24"/>
<path d="M328.33 173.15 L330.07 174.4 L331.18 174.48 L329.44 173.2 Z" fill="#fcce25" stroke="#fcce25"/>
<path d="M331.18 174.48 L332.91 175.98 L334.02 176.43 L332.29 174.94 Z" fill="#febd2a" stroke="#febd2a"/>
<path d="M334.02 176.43 L335.76 178.08 L336.87 178.73 L335.13 177.15 Z" fill="#fca636" stroke="#fca636"/>
<path d="M314.11 178.99 L315.84 178.59 L316.96 176.44 L315.22 176.84 Z" fill="#fdb22f" stroke="#fdb22f"/>
<path d="M335.76 178.08 L337.49 179.87 L338.6 180.42 L336.87 178.73 Z" fill="#fa9c3c" stroke="#fa9c3c"/>
<path d="M304.47 188.94 L306.2 188.65 L307.31 186.65 L305.58 187.06 Z" fill="#e56b5d" stroke="#e56b5d"/>
<path d="M307.31 186.65 L309.04 186.24 L310.16 184.03 L308.42 184.54 Z" fill="#ef7c51" stroke="#ef7c51"/>
<path d="M310.16 184.03 L311.89 183.59 L313 181.27 L311.27 181.78 Z" fill="#f79044" stroke="#f79044"/>
<path d="M313 181.27 L314.73 180.88 L315.84 178.59 L314.11 178.99 Z" fill="#fca537" stroke="#fca537"/>
<path d="M321.53 174.51 L323.27 174.92 L324.38 173.58 L322.64 173.07 Z" fill="#fbd724" stroke="#fbd724"/>
<path d="M324.38 173.58 L326.11 174.38 L327.22 173.55 L325.49 172.65 Z" fill="#fada24" stroke="#fada24"/>
<path d="M327.22 173.55 L328.96 174.73 L330.07 174.4 L328.33 173.15 Z" fill="#fbd324" stroke="#fbd324"/>
<path d="M330.07 174.4 L331.8 175.89 L332.91 175.98 L331.18 174.48 Z" fill="#fdc527" stroke="#fdc527"/>
<path d="M332.91 175.98 L334.64 177.68 L335.76 178.08 L334.02 176.43 Z" fill="#fdb22f" stroke="#fdb22f"/>
<path d="M315.84 178.59 L317.58 178.37 L318.69 176.25 L316.96 176.44 Z" fill="#feba2c" stroke="#feba2c"/>
<path d="M318.69 176.25 L320.42 176.3 L321.53 174.51 L319.8 174.38 Z" fill="#fdcb26" stroke="#fdcb26"/>
<path d="M303.36 190.7 L305.09 190.53 L306.2 188.65 L304.47 188.94 Z" fill="#e06363" stroke="#e06363"/>
<path d="M306.2 188.65 L307.93 188.35 L309.04 186.24 L307.31 186.65 Z" fill="#e97158" stroke="#e97158"/>
<path d="M309.04 186.24 L310.78 185.86 L311.89 183.59 L310.16 184.03 Z" fill="#f1834c" stroke="#f1834c"/>
<path d="M311.89 183.59 L313.62 183.23 L314.73 180.88 L313 181.27 Z" fill="#f9973f" stroke="#f9973f"/>
<path d="M314.73 180.88 L316.47 180.65 L317.58 178.37 L315.84 178.59 Z" fill="#fdac33" stroke="#fdac33"/>
<path d="M317.58 178.37 L319.31 178.36 L320.42 176.3 L318.69 176.25 Z" fill="#fec029" stroke="#fec029"/>
<path d="M320.42 176.3 L322.16 176.63 L323.27 174.92 L321.53 174.51 Z" fill="#fcce25" stroke="#fcce25"/>
<path d="M323.27 174.92 L325 175.63 L326.11 174.38 L324.38 173.58 Z" fill="#fbd724" stroke="#fbd724"/>
<path d="M326.11 174.38 L327.84 175.48 L328.96 174.73 L327.22 173.55 Z" fill="#fbd524" stroke="#fbd524"/>
<path d="M328.96 174.73 L330.69 176.17 L331.8 175.89 L330.07 174.4 Z" fill="#fdcb26" stroke="#fdcb26"/>
<path d="M331.8 175.89 L333.53 177.59 L334.64 177.68 L332.91 175.98 Z" fill="#febb2b" stroke="#febb2b"/>
<path d="M334.64 177.68 L336.38 179.54 L337.49 179.87 L335.76 178.08 Z" fill="#fca636" stroke="#fca636"/>
<path d="M337.49 179.87 L339.22 181.75 L340.33 182.19 L338.6 180.42 Z" fill="#f79143" stroke="#f79143"/>
<path d="M313.62 183.23 L315.36 182.99 L316.47 180.65 L314.73 180.88 Z" fill="#fa9e3b" stroke="#fa9e3b"/>
<path d="M316.47 180.65 L318.2 180.59 L319.31 178.36 L317.58 178.37 Z" fill="#fdb22f" stroke="#fdb22f"/>
<path d="M333.53 177.59 L335.27 179.47 L336.38 179.54 L334.64 177.68 Z" fill="#fdaf31" stroke="#fdaf31"/>
<path d="M336.38 179.54 L338.11 181.5 L339.22 181.75 L337.49 179.87 Z" fill="#fa9b3d" stroke="#fa9b3d"/>
<path d="M339.22 181.75 L340.96 183.69 L342.07 183.99 L340.33 182.19 Z" fill="#f3874a" stroke="#f3874a"/>
<path d="M302.24 192.33 L303.98 192.28 L305.09 190.53 L303.36 190.7 Z" fill="#da5b69" stroke="#da5b69"/>
<path d="M305.09 190.53 L306.82 190.33 L307.93 188.35 L306.2 188.65 Z" fill="#e3685f" stroke="#e3685f"/>
<path d="M307.93 188.35 L309.67 188.06 L310.78 185.86 L309.04 186.24 Z" fill="#ec7754" stroke="#ec7754"/>
<path d="M310.78 185.86 L312.51 185.55 L313.62 183.23 L311.89 183.59 Z" fill="#f48948" stroke="#f48948"/>
<path d="M319.31 178.36 L321.04 178.6 L322.16 176.63 L320.42 176.3 Z" fill="#fdc328" stroke="#fdc328"/>
<path d="M322.16 176.63 L323.89 177.23 L325 175.63 L323.27 174.92 Z" fill="#fcce25" stroke="#fcce25"/>
<path d="M325 175.63 L326.73 176.63 L327.84 175.48 L326.11 174.38 Z" fill="#fcd225" stroke="#fcd225"/>
<path d="M327.84 175.48 L329.58 176.85 L330.69 176.17 L328.96 174.73 Z" fill="#fccd25" stroke="#fccd25"/>
<path d="M330.69 176.17 L332.42 177.85 L333.53 177.59 L331.8 175.89 Z" fill="#fec029" stroke="#fec029"/>
<path d="M318.2 180.59 L319.93 180.75 L321.04 178.6 L319.31 178.36 Z" fill="#fdb52e" stroke="#fdb52e"/>
<path d="M340.96 183.69 L342.69 185.65 L343.8 185.81 L342.07 183.99 Z" fill="#ee7b51" stroke="#ee7b51"/>
<path d="M301.13 193.84 L302.87 193.91 L303.98 192.28 L302.24 192.33 Z" fill="#d5546e" stroke="#d5546e"/>
<path d="M303.98 192.28 L305.71 192.2 L306.82 190.33 L305.09 190.53 Z" fill="#de5f65" stroke="#de5f65"/>
<path d="M306.82 190.33 L308.56 190.14 L309.67 188.06 L307.93 188.35 Z" fill="#e66c5c" stroke="#e66c5c"/>
<path d="M309.67 188.06 L311.4 187.8 L312.51 185.55 L310.78 185.86 Z" fill="#ef7e50" stroke="#ef7e50"/>
<path d="M312.51 185.55 L314.24 185.33 L315.36 182.99 L313.62 183.23 Z" fill="#f79044" stroke="#f79044"/>
<path d="M315.36 182.99 L317.09 182.9 L318.2 180.59 L316.47 180.65 Z" fill="#fca338" stroke="#fca338"/>
<path d="M321.04 178.6 L322.78 179.09 L323.89 177.23 L322.16 176.63 Z" fill="#fdc328" stroke="#fdc328"/>
<path d="M323.89 177.23 L325.62 178.1 L326.73 176.63 L325 175.63 Z" fill="#fdcb26" stroke="#fdcb26"/>
<path d="M326.73 176.63 L328.47 177.89 L329.58 176.85 L327.84 175.48 Z" fill="#fdcb26" stroke="#fdcb26"/>
<path d="M329.58 176.85 L331.31 178.46 L332.42 177.85 L330.69 176.17 Z" fill="#fdc328" stroke="#fdc328"/>
<path d="M332.42 177.85 L334.16 179.72 L335.27 179.47 L333.53 177.59 Z" fill="#fdb42f" stroke="#fdb42f"/>
<path d="M335.27 179.47 L337 181.49 L338.11 181.5 L336.38 179.54 Z" fill="#fba238" stroke="#fba238"/>
<path d="M338.11 181.5 L339.84 183.54 L340.96 183.69 L339.22 181.75 Z" fill="#f68f44" stroke="#f68f44"/>
<path d="M300.02 195.26 L301.76 195.47 L302.87 193.91 L301.13 193.84 Z" fill="#d14e72" stroke="#d14e72"/>
<path d="M311.4 187.8 L313.13 187.61 L314.24 185.33 L312.51 185.55 Z" fill="#f1834c" stroke="#f1834c"/>
<path d="M314.24 185.33 L315.98 185.22 L317.09 182.9 L315.36 182.99 Z" fill="#f89540" stroke="#f89540"/>
<path d="M317.09 182.9 L318.82 182.99 L319.93 180.75 L318.2 180.59 Z" fill="#fca835" stroke="#fca835"/>
<path d="M319.93 180.75 L321.67 181.13 L322.78 179.09 L321.04 178.6 Z" fill="#feb72d" stroke="#feb72d"/>
<path d="M331.31 178.46 L333.04 180.28 L334.16 179.72 L332.42 177.85 Z" fill="#feb72d" stroke="#feb72d"/>
<path d="M334.16 179.72 L335.89 181.74 L337 181.49 L335.27 179.47 Z" fill="#fca636" stroke="#fca636"/>
<path d="M337 181.49 L338.73 183.59 L339.84 183.54 L338.11 181.5 Z" fill="#f89441" stroke="#f89441"/>
<path d="M339.84 183.54 L341.58 185.61 L342.69 185.65 L340.96 183.69 Z" fill="#f1814d" stroke="#f1814d"/>
<path d="M342.69 185.65 L344.42 187.6 L345.53 187.61 L343.8 185.81 Z" fill="#e97158" stroke="#e97158"/>
<path d="M302.87 193.91 L304.6 193.97 L305.71 192.2 L303.98 192.28 Z" fill="#d8576b" stroke="#d8576b"/>
<path d="M305.71 192.2 L307.44 192.11 L308.56 190.14 L306.82 190.33 Z" fill="#e16462" stroke="#e16462"/>
<path d="M308.56 190.14 L310.29 189.96 L311.4 187.8 L309.67 188.06 Z" fill="#e97257" stroke="#e97257"/>
<path d="M322.78 179.09 L324.51 179.83 L325.62 178.1 L323.89 177.23 Z" fill="#fdc229" stroke="#fdc229"/>
<path d="M325.62 178.1 L327.36 179.24 L328.47 177.89 L326.73 176.63 Z" fill="#fdc527" stroke="#fdc527"/>
<path d="M328.47 177.89 L330.2 179.4 L331.31 178.46 L329.58 176.85 Z" fill="#fdc229" stroke="#fdc229"/>
<path d="M298.91 196.61 L300.64 196.98 L301.76 195.47 L300.02 195.26 Z" fill="#cc4977" stroke="#cc4977"/>
<path d="M301.76 195.47 L303.49 195.68 L304.6 193.97 L302.87 193.91 Z" fill="#d35171" stroke="#d35171"/>
<path d="M315.98 185.22 L317.71 185.24 L318.82 182.99 L317.09 182.9 Z" fill="#f99a3e" stroke="#f99a3e"/>
<path d="M318.82 182.99 L320.56 183.26 L321.67 181.13 L319.93 180.75 Z" fill="#fca934" stroke="#fca934"/>
<path d="M321.67 181.13 L323.4 181.74 L324.51 179.83 L322.78 179.09 Z" fill="#feb72d" stroke="#feb72d"/>
<path d="M338.73 183.59 L340.47 185.75 L341.58 185.61 L339.84 183.54 Z" fill="#f48849" stroke="#f48849"/>
<path d="M341.58 185.61 L343.31 187.69 L344.42 187.6 L342.69 185.65 Z" fill="#eb7655" stroke="#eb7655"/>
<path d="M344.42 187.6 L346.16 189.52 L347.27 189.37 L345.53 187.61 Z" fill="#e26660" stroke="#e26660"/>
<path d="M304.6 193.97 L306.33 194.01 L307.44 192.11 L305.71 192.2 Z" fill="#da5b69" stroke="#da5b69"/>
<path d="M307.44 192.11 L309.18 192.03 L310.29 189.96 L308.56 190.14 Z" fill="#e3685f" stroke="#e3685f"/>
<path d="M310.29 189.96 L312.02 189.81 L313.13 187.61 L311.4 187.8 Z" fill="#ec7754" stroke="#ec7754"/>
<path d="M313.13 187.61 L314.87 187.49 L315.98 185.22 L314.24 185.33 Z" fill="#f48849" stroke="#f48849"/>
<path d="M324.51 179.83 L326.24 180.83 L327.36 179.24 L325.62 178.1 Z" fill="#febd2a" stroke="#febd2a"/>
<path d="M327.36 179.24 L329.09 180.62 L330.2 179.4 L328.47 177.89 Z" fill="#febd2a" stroke="#febd2a"/>
<path d="M330.2 179.4 L331.93 181.13 L333.04 180.28 L331.31 178.46 Z" fill="#feb72d" stroke="#feb72d"/>
<path d="M333.04 180.28 L334.78 182.26 L335.89 181.74 L334.16 179.72 Z" fill="#fca934" stroke="#fca934"/>
<path d="M335.89 181.74 L337.62 183.87 L338.73 183.59 L337 181.49 Z" fill="#f99a3e" stroke="#f99a3e"/>
<path d="M297.8 197.93 L299.53 198.48 L300.64 196.98 L298.91 196.61 Z" fill="#c9447a" stroke="#c9447a"/>
<path d="M300.64 196.98 L302.38 197.37 L303.49 195.68 L301.76 195.47 Z" fill="#ce4b75" stroke="#ce4b75"/>
<path d="M303.49 195.68 L305.22 195.88 L306.33 194.01 L304.6 193.97 Z" fill="#d5536f" stroke="#d5536f"/>
<path d="M314.87 187.49 L316.6 187.48 L317.71 185.24 L315.98 185.22 Z" fill="#f58c46" stroke="#f58c46"/>
<path d="M317.71 185.24 L319.44 185.43 L320.56 183.26 L318.82 182.99 Z" fill="#fa9c3c" stroke="#fa9c3c"/>
<path d="M320.56 183.26 L322.29 183.74 L323.4 181.74 L321.67 181.13 Z" fill="#fca934" stroke="#fca934"/>
<path d="M323.4 181.74 L325.13 182.58 L326.24 180.83 L324.51 179.83 Z" fill="#fdb42f" stroke="#fdb42f"/>
<path d="M337.62 183.87 L339.36 186.06 L340.47 185.75 L338.73 183.59 Z" fill="#f58c46" stroke="#f58c46"/>
<path d="M340.47 185.75 L342.2 187.92 L343.31 187.69 L341.58 185.61 Z" fill="#ee7b51" stroke="#ee7b51"/>
<path d="M343.31 187.69 L345.04 189.75 L346.16 189.52 L344.42 187.6 Z" fill="#e56b5d" stroke="#e56b5d"/>
<path d="M346.16 189.52 L347.89 191.39 L349 191.08 L347.27 189.37 Z" fill="#dc5d67" stroke="#dc5d67"/>
<path d="M306.33 194.01 L308.07 194.04 L309.18 192.03 L307.44 192.11 Z" fill="#dd5e66" stroke="#dd5e66"/>
<path d="M309.18 192.03 L310.91 191.95 L312.02 189.81 L310.29 189.96 Z" fill="#e66c5c" stroke="#e66c5c"/>
<path d="M312.02 189.81 L313.76 189.71 L314.87 187.49 L313.13 187.61 Z" fill="#ef7c51" stroke="#ef7c51"/>
<path d="M329.09 180.62 L330.82 182.22 L331.93 181.13 L330.2 179.4 Z" fill="#fdb42f" stroke="#fdb42f"/>
<path d="M331.93 181.13 L333.67 183.03 L334.78 182.26 L333.04 180.28 Z" fill="#fca934" stroke="#fca934"/>
<path d="M334.78 182.26 L336.51 184.36 L337.62 183.87 L335.89 181.74 Z" fill="#fa9c3c" stroke="#fa9c3c"/>
<path d="M326.24 180.83 L327.98 182.06 L329.09 180.62 L327.36 179.24 Z" fill="#feb72d" stroke="#feb72d"/>
<path d="M305.22 195.88 L306.96 196.07 L308.07 194.04 L306.33 194.01 Z" fill="#d7566c" stroke="#d7566c"/>
<path d="M296.69 199.24 L298.42 200.01 L299.53 198.48 L297.8 197.93 Z" fill="#c5407e" stroke="#c5407e"/>
<path d="M299.53 198.48 L301.27 199.1 L302.38 197.37 L300.64 196.98 Z" fill="#c9447a" stroke="#c9447a"/>
<path d="M302.38 197.37 L304.11 197.77 L305.22 195.88 L303.49 195.68 Z" fill="#cf4c74" stroke="#cf4c74"/>
<path d="M313.76 189.71 L315.49 189.67 L316.6 187.48 L314.87 187.49 Z" fill="#f0804e" stroke="#f0804e"/>
<path d="M316.6 187.48 L318.33 187.58 L319.44 185.43 L317.71 185.24 Z" fill="#f79044" stroke="#f79044"/>
<path d="M319.44 185.43 L321.18 185.78 L322.29 183.74 L320.56 183.26 Z" fill="#fa9e3b" stroke="#fa9e3b"/>
<path d="M322.29 183.74 L324.02 184.43 L325.13 182.58 L323.4 181.74 Z" fill="#fca835" stroke="#fca835"/>
<path d="M325.13 182.58 L326.87 183.65 L327.98 182.06 L326.24 180.83 Z" fill="#fdae32" stroke="#fdae32"/>
<path d="M336.51 184.36 L338.24 186.55 L339.36 186.06 L337.62 183.87 Z" fill="#f68d45" stroke="#f68d45"/>
<path d="M339.36 186.06 L341.09 188.28 L342.2 187.92 L340.47 185.75 Z" fill="#ef7e50" stroke="#ef7e50"/>
<path d="M342.2 187.92 L343.93 190.07 L345.04 189.75 L343.31 187.69 Z" fill="#e76f5a" stroke="#e76f5a"/>
<path d="M345.04 189.75 L346.78 191.76 L347.89 191.39 L346.16 189.52 Z" fill="#de6164" stroke="#de6164"/>
<path d="M347.89 191.39 L349.62 193.19 L350.73 192.73 L349 191.08 Z" fill="#d5546e" stroke="#d5546e"/>
<path d="M308.07 194.04 L309.8 194.07 L310.91 191.95 L309.18 192.03 Z" fill="#df6263" stroke="#df6263"/>
<path d="M310.91 191.95 L312.64 191.89 L313.76 189.71 L312.02 189.81 Z" fill="#e87059" stroke="#e87059"/>
<path d="M327.98 182.06 L329.71 183.5 L330.82 182.22 L329.09 180.62 Z" fill="#fdae32" stroke="#fdae32"/>
<path d="M330.82 182.22 L332.56 184 L333.67 183.03 L331.93 181.13 Z" fill="#fca835" stroke="#fca835"/>
<path d="M333.67 183.03 L335.4 185.06 L336.51 184.36 L334.78 182.26 Z" fill="#fa9c3c" stroke="#fa9c3c"/>
<path d="M304.11 197.77 L305.84 198.17 L306.96 196.07 L305.22 195.88 Z" fill="#d04d73" stroke="#d04d73"/>
<path d="M306.96 196.07 L308.69 196.24 L309.8 194.07 L308.07 194.04 Z" fill="#d9586a" stroke="#d9586a"/>
<path d="M326.87 183.65 L328.6 184.91 L329.71 183.5 L327.98 182.06 Z" fill="#fca835" stroke="#fca835"/>
<path d="M295.58 200.55 L297.31 201.56 L298.42 200.01 L296.69 199.24 Z" fill="#c03a83" stroke="#c03a83"/>
<path d="M298.42 200.01 L300.16 200.89 L301.27 199.1 L299.53 198.48 Z" fill="#c33d80" stroke="#c33d80"/>
<path d="M301.27 199.1 L303 199.75 L304.11 197.77 L302.38 197.37 Z" fill="#c9447a" stroke="#c9447a"/>
<path d="M312.64 191.89 L314.38 191.85 L315.49 189.67 L313.76 189.71 Z" fill="#eb7556" stroke="#eb7556"/>
<path d="M315.49 189.67 L317.22 189.72 L318.33 187.58 L316.6 187.48 Z" fill="#f2844b" stroke="#f2844b"/>
<path d="M318.33 187.58 L320.07 187.82 L321.18 185.78 L319.44 185.43 Z" fill="#f79143" stroke="#f79143"/>
<path d="M321.18 185.78 L322.91 186.31 L324.02 184.43 L322.29 183.74 Z" fill="#fa9e3b" stroke="#fa9e3b"/>
<path d="M324.02 184.43 L325.76 185.32 L326.87 183.65 L325.13 182.58 Z" fill="#fca537" stroke="#fca537"/>
<path d="M335.4 185.06 L337.13 187.2 L338.24 186.55 L336.51 184.36 Z" fill="#f68f44" stroke="#f68f44"/>
<path d="M338.24 186.55 L339.98 188.78 L341.09 188.28 L339.36 186.06 Z" fill="#f0804e" stroke="#f0804e"/>
<path d="M341.09 188.28 L342.82 190.51 L343.93 190.07 L342.2 187.92 Z" fill="#e97158" stroke="#e97158"/>
<path d="M343.93 190.07 L345.67 192.2 L346.78 191.76 L345.04 189.75 Z" fill="#e06363" stroke="#e06363"/>
<path d="M346.78 191.76 L348.51 193.7 L349.62 193.19 L347.89 191.39 Z" fill="#d7566c" stroke="#d7566c"/>
<path d="M349.62 193.19 L351.36 194.91 L352.47 194.3 L350.73 192.73 Z" fill="#cf4c74" stroke="#cf4c74"/>
<path d="M309.8 194.07 L311.53 194.08 L312.64 191.89 L310.91 191.95 Z" fill="#e26660" stroke="#e26660"/>
<path d="M329.71 183.5 L331.44 185.13 L332.56 184 L330.82 182.22 Z" fill="#fca338" stroke="#fca338"/>
<path d="M332.56 184 L334.29 185.93 L335.4 185.06 L333.67 183.03 Z" fill="#fa9b3d" stroke="#fa9b3d"/>
<path d="M303 199.75 L304.73 200.42 L305.84 198.17 L304.11 197.77 Z" fill="#c8437b" stroke="#c8437b"/>
<path d="M305.84 198.17 L307.58 198.54 L308.69 196.24 L306.96 196.07 Z" fill="#d14e72" stroke="#d14e72"/>
<path d="M308.69 196.24 L310.42 196.37 L311.53 194.08 L309.8 194.07 Z" fill="#da5b69" stroke="#da5b69"/>
<path d="M325.76 185.32 L327.49 186.4 L328.6 184.91 L326.87 183.65 Z" fill="#fb9f3a" stroke="#fb9f3a"/>
<path d="M328.6 184.91 L330.33 186.37 L331.44 185.13 L329.71 183.5 Z" fill="#fb9f3a" stroke="#fb9f3a"/>
<path d="M294.47 201.85 L296.2 203.12 L297.31 201.56 L295.58 200.55 Z" fill="#bc3587" stroke="#bc3587"/>
<path d="M297.31 201.56 L299.04 202.74 L300.16 200.89 L298.42 200.01 Z" fill="#bd3786" stroke="#bd3786"/>
<path d="M300.16 200.89 L301.89 201.85 L303 199.75 L301.27 199.1 Z" fill="#c13b82" stroke="#c13b82"/>
<path d="M311.53 194.08 L313.27 194.08 L314.38 191.85 L312.64 191.89 Z" fill="#e56a5d" stroke="#e56a5d"/>
<path d="M314.38 191.85 L316.11 191.86 L317.22 189.72 L315.49 189.67 Z" fill="#ed7953" stroke="#ed7953"/>
<path d="M317.22 189.72 L318.96 189.86 L320.07 187.82 L318.33 187.58 Z" fill="#f3874a" stroke="#f3874a"/>
<path d="M320.07 187.82 L321.8 188.21 L322.91 186.31 L321.18 185.78 Z" fill="#f79342" stroke="#f79342"/>
<path d="M322.91 186.31 L324.64 187.03 L325.76 185.32 L324.02 184.43 Z" fill="#fa9b3d" stroke="#fa9b3d"/>
<path d="M334.29 185.93 L336.02 187.97 L337.13 187.2 L335.4 185.06 Z" fill="#f68f44" stroke="#f68f44"/>
<path d="M337.13 187.2 L338.87 189.39 L339.98 188.78 L338.24 186.55 Z" fill="#f1814d" stroke="#f1814d"/>
<path d="M339.98 188.78 L341.71 191.03 L342.82 190.51 L341.09 188.28 Z" fill="#e97257" stroke="#e97257"/>
<path d="M342.82 190.51 L344.56 192.7 L345.67 192.2 L343.93 190.07 Z" fill="#e16462" stroke="#e16462"/>
<path d="M345.67 192.2 L347.4 194.26 L348.51 193.7 L346.78 191.76 Z" fill="#d8576b" stroke="#d8576b"/>
<path d="M348.51 193.7 L350.24 195.56 L351.36 194.91 L349.62 193.19 Z" fill="#d04d73" stroke="#d04d73"/>
<path d="M351.36 194.91 L353.09 196.54 L354.2 195.78 L352.47 194.3 Z" fill="#c9447a" stroke="#c9447a"/>
<path d="M331.44 185.13 L333.18 186.92 L334.29 185.93 L332.56 184 Z" fill="#f9983e" stroke="#f9983e"/>
<path d="M310.42 196.37 L312.16 196.43 L313.27 194.08 L311.53 194.08 Z" fill="#dd5e66" stroke="#dd5e66"/>
<path d="M353.09 196.54 L354.82 198.07 L355.93 197.17 L354.2 195.78 Z" fill="#c33d80" stroke="#c33d80"/>
<path d="M301.89 201.85 L303.62 202.84 L304.73 200.42 L303 199.75 Z" fill="#bf3984" stroke="#bf3984"/>
<path d="M304.73 200.42 L306.47 201.04 L307.58 198.54 L305.84 198.17 Z" fill="#c8437b" stroke="#c8437b"/>
<path d="M307.58 198.54 L309.31 198.83 L310.42 196.37 L308.69 196.24 Z" fill="#d35171" stroke="#d35171"/>
<path d="M324.64 187.03 L326.38 187.92 L327.49 186.4 L325.76 185.32 Z" fill="#f9983e" stroke="#f9983e"/>
<path d="M327.49 186.4 L329.22 187.66 L330.33 186.37 L328.6 184.91 Z" fill="#f99a3e" stroke="#f99a3e"/>
<path d="M330.33 186.37 L332.07 187.98 L333.18 186.92 L331.44 185.13 Z" fill="#f89540" stroke="#f89540"/>
<path d="M293.36 203.12 L295.09 204.65 L296.2 203.12 L294.47 201.85 Z" fill="#b6308b" stroke="#b6308b"/>
<path d="M296.2 203.12 L297.93 204.63 L299.04 202.74 L297.31 201.56 Z" fill="#b6308b" stroke="#b6308b"/>
<path d="M299.04 202.74 L300.78 204.06 L301.89 201.85 L300.16 200.89 Z" fill="#ba3388" stroke="#ba3388"/>
<path d="M313.27 194.08 L315 194.07 L316.11 191.86 L314.38 191.85 Z" fill="#e76e5b" stroke="#e76e5b"/>
<path d="M316.11 191.86 L317.84 191.92 L318.96 189.86 L317.22 189.72 Z" fill="#ee7b51" stroke="#ee7b51"/>
<path d="M318.96 189.86 L320.69 190.11 L321.8 188.21 L320.07 187.82 Z" fill="#f48849" stroke="#f48849"/>
<path d="M321.8 188.21 L323.53 188.75 L324.64 187.03 L322.91 186.31 Z" fill="#f79342" stroke="#f79342"/>
<path d="M333.18 186.92 L334.91 188.83 L336.02 187.97 L334.29 185.93 Z" fill="#f68d45" stroke="#f68d45"/>
<path d="M336.02 187.97 L337.76 190.09 L338.87 189.39 L337.13 187.2 Z" fill="#f1814d" stroke="#f1814d"/>
<path d="M338.87 189.39 L340.6 191.62 L341.71 191.03 L339.98 188.78 Z" fill="#ea7457" stroke="#ea7457"/>
<path d="M341.71 191.03 L343.44 193.27 L344.56 192.7 L342.82 190.51 Z" fill="#e26660" stroke="#e26660"/>
<path d="M344.56 192.7 L346.29 194.85 L347.4 194.26 L345.67 192.2 Z" fill="#d9586a" stroke="#d9586a"/>
<path d="M347.4 194.26 L349.13 196.24 L350.24 195.56 L348.51 193.7 Z" fill="#d04d73" stroke="#d04d73"/>
<path d="M350.24 195.56 L351.98 197.33 L353.09 196.54 L351.36 194.91 Z" fill="#c9447a" stroke="#c9447a"/>
<path d="M309.31 198.83 L311.04 199.01 L312.16 196.43 L310.42 196.37 Z" fill="#d45270" stroke="#d45270"/>
<path d="M312.16 196.43 L313.89 196.44 L315 194.07 L313.27 194.08 Z" fill="#df6263" stroke="#df6263"/>
<path d="M332.07 187.98 L333.8 189.74 L334.91 188.83 L333.18 186.92 Z" fill="#f58b47" stroke="#f58b47"/>
<path d="M351.98 197.33 L353.71 198.99 L354.82 198.07 L353.09 196.54 Z" fill="#c23c81" stroke="#c23c81"/>
<path d="M354.82 198.07 L356.56 199.47 L357.67 198.44 L355.93 197.17 Z" fill="#bd3786" stroke="#bd3786"/>
<path d="M292.24 204.31 L293.98 206.08 L295.09 204.65 L293.36 203.12 Z" fill="#b22b8f" stroke="#b22b8f"/>
<path d="M300.78 204.06 L302.51 205.44 L303.62 202.84 L301.89 201.85 Z" fill="#b42e8d" stroke="#b42e8d"/>
<path d="M303.62 202.84 L305.36 203.79 L306.47 201.04 L304.73 200.42 Z" fill="#bd3786" stroke="#bd3786"/>
<path d="M306.47 201.04 L308.2 201.56 L309.31 198.83 L307.58 198.54 Z" fill="#c8437b" stroke="#c8437b"/>
<path d="M323.53 188.75 L325.27 189.45 L326.38 187.92 L324.64 187.03 Z" fill="#f79044" stroke="#f79044"/>
<path d="M326.38 187.92 L328.11 188.98 L329.22 187.66 L327.49 186.4 Z" fill="#f79342" stroke="#f79342"/>
<path d="M329.22 187.66 L330.96 189.09 L332.07 187.98 L330.33 186.37 Z" fill="#f79143" stroke="#f79143"/>
<path d="M295.09 204.65 L296.82 206.49 L297.93 204.63 L296.2 203.12 Z" fill="#b02991" stroke="#b02991"/>
<path d="M297.93 204.63 L299.67 206.34 L300.78 204.06 L299.04 202.74 Z" fill="#b02991" stroke="#b02991"/>
<path d="M315 194.07 L316.73 194.06 L317.84 191.92 L316.11 191.86 Z" fill="#e87059" stroke="#e87059"/>
<path d="M317.84 191.92 L319.58 192.05 L320.69 190.11 L318.96 189.86 Z" fill="#ef7e50" stroke="#ef7e50"/>
<path d="M320.69 190.11 L322.42 190.48 L323.53 188.75 L321.8 188.21 Z" fill="#f48948" stroke="#f48948"/>
<path d="M334.91 188.83 L336.64 190.84 L337.76 190.09 L336.02 187.97 Z" fill="#f0804e" stroke="#f0804e"/>
<path d="M337.76 190.09 L339.49 192.26 L340.6 191.62 L338.87 189.39 Z" fill="#ea7457" stroke="#ea7457"/>
<path d="M340.6 191.62 L342.33 193.86 L343.44 193.27 L341.71 191.03 Z" fill="#e26660" stroke="#e26660"/>
<path d="M343.44 193.27 L345.18 195.47 L346.29 194.85 L344.56 192.7 Z" fill="#da5a6a" stroke="#da5a6a"/>
<path d="M346.29 194.85 L348.02 196.93 L349.13 196.24 L347.4 194.26 Z" fill="#d14e72" stroke="#d14e72"/>
<path d="M349.13 196.24 L350.87 198.13 L351.98 197.33 L350.24 195.56 Z" fill="#c9447a" stroke="#c9447a"/>
<path d="M308.2 201.56 L309.93 201.9 L311.04 199.01 L309.31 198.83 Z" fill="#c9447a" stroke="#c9447a"/>
<path d="M311.04 199.01 L312.78 199.06 L313.89 196.44 L312.16 196.43 Z" fill="#d6556d" stroke="#d6556d"/>
<path d="M313.89 196.44 L315.62 196.38 L316.73 194.06 L315 194.07 Z" fill="#e26561" stroke="#e26561"/>
<path d="M330.96 189.09 L332.69 190.67 L333.8 189.74 L332.07 187.98 Z" fill="#f48849" stroke="#f48849"/>
<path d="M333.8 189.74 L335.53 191.6 L336.64 190.84 L334.91 188.83 Z" fill="#f07f4f" stroke="#f07f4f"/>
<path d="M350.87 198.13 L352.6 199.9 L353.71 198.99 L351.98 197.33 Z" fill="#c13b82" stroke="#c13b82"/>
<path d="M353.71 198.99 L355.44 200.51 L356.56 199.47 L354.82 198.07 Z" fill="#bc3587" stroke="#bc3587"/>
<path d="M356.56 199.47 L358.29 200.74 L359.4 199.61 L357.67 198.44 Z" fill="#b7318a" stroke="#b7318a"/>
<path d="M291.13 205.39 L292.87 207.34 L293.98 206.08 L292.24 204.31 Z" fill="#ae2892" stroke="#ae2892"/>
<path d="M293.98 206.08 L295.71 208.22 L296.82 206.49 L295.09 204.65 Z" fill="#a82296" stroke="#a82296"/>
<path d="M299.67 206.34 L301.4 208.15 L302.51 205.44 L300.78 204.06 Z" fill="#a82296" stroke="#a82296"/>
<path d="M302.51 205.44 L304.24 206.77 L305.36 203.79 L303.62 202.84 Z" fill="#b02991" stroke="#b02991"/>
<path d="M305.36 203.79 L307.09 204.59 L308.2 201.56 L306.47 201.04 Z" fill="#bc3587" stroke="#bc3587"/>
<path d="M322.42 190.48 L324.16 191 L325.27 189.45 L323.53 188.75 Z" fill="#f48849" stroke="#f48849"/>
<path d="M325.27 189.45 L327 190.31 L328.11 188.98 L326.38 187.92 Z" fill="#f68d45" stroke="#f68d45"/>
<path d="M328.11 188.98 L329.84 190.21 L330.96 189.09 L329.22 187.66 Z" fill="#f68d45" stroke="#f68d45"/>
<path d="M296.82 206.49 L298.56 208.59 L299.67 206.34 L297.93 204.63 Z" fill="#a62098" stroke="#a62098"/>
<path d="M316.73 194.06 L318.47 194.08 L319.58 192.05 L317.84 191.92 Z" fill="#ea7457" stroke="#ea7457"/>
<path d="M319.58 192.05 L321.31 192.26 L322.42 190.48 L320.69 190.11 Z" fill="#f0804e" stroke="#f0804e"/>
<path d="M336.64 190.84 L338.38 192.92 L339.49 192.26 L337.76 190.09 Z" fill="#ea7457" stroke="#ea7457"/>
<path d="M339.49 192.26 L341.22 194.46 L342.33 193.86 L340.6 191.62 Z" fill="#e3685f" stroke="#e3685f"/>
<path d="M342.33 193.86 L344.07 196.07 L345.18 195.47 L343.44 193.27 Z" fill="#da5b69" stroke="#da5b69"/>
<path d="M345.18 195.47 L346.91 197.61 L348.02 196.93 L346.29 194.85 Z" fill="#d14e72" stroke="#d14e72"/>
<path d="M348.02 196.93 L349.76 198.92 L350.87 198.13 L349.13 196.24 Z" fill="#c8437b" stroke="#c8437b"/>
<path d="M295.71 208.22 L297.44 210.68 L298.56 208.59 L296.82 206.49 Z" fill="#9c179e" stroke="#9c179e"/>
<path d="M307.09 204.59 L308.82 205.14 L309.93 201.9 L308.2 201.56 Z" fill="#bb3488" stroke="#bb3488"/>
<path d="M309.93 201.9 L311.67 202.02 L312.78 199.06 L311.04 199.01 Z" fill="#cb4679" stroke="#cb4679"/>
<path d="M312.78 199.06 L314.51 198.97 L315.62 196.38 L313.89 196.44 Z" fill="#d9586a" stroke="#d9586a"/>
<path d="M315.62 196.38 L317.36 196.29 L318.47 194.08 L316.73 194.06 Z" fill="#e4695e" stroke="#e4695e"/>
<path d="M329.84 190.21 L331.58 191.59 L332.69 190.67 L330.96 189.09 Z" fill="#f3854b" stroke="#f3854b"/>
<path d="M332.69 190.67 L334.42 192.36 L335.53 191.6 L333.8 189.74 Z" fill="#ef7e50" stroke="#ef7e50"/>
<path d="M335.53 191.6 L337.27 193.56 L338.38 192.92 L336.64 190.84 Z" fill="#ea7457" stroke="#ea7457"/>
<path d="M349.76 198.92 L351.49 200.78 L352.6 199.9 L350.87 198.13 Z" fill="#c03a83" stroke="#c03a83"/>
<path d="M352.6 199.9 L354.33 201.54 L355.44 200.51 L353.71 198.99 Z" fill="#ba3388" stroke="#ba3388"/>
<path d="M355.44 200.51 L357.18 201.89 L358.29 200.74 L356.56 199.47 Z" fill="#b52f8c" stroke="#b52f8c"/>
<path d="M358.29 200.74 L360.02 201.87 L361.13 200.64 L359.4 199.61 Z" fill="#b32c8e" stroke="#b32c8e"/>
<path d="M290.02 206.31 L291.76 208.37 L292.87 207.34 L291.13 205.39 Z" fill="#ab2494" stroke="#ab2494"/>
<path d="M292.87 207.34 L294.6 209.72 L295.71 208.22 L293.98 206.08 Z" fill="#a21d9a" stroke="#a21d9a"/>
<path d="M298.56 208.59 L300.29 210.83 L301.4 208.15 L299.67 206.34 Z" fill="#9a169f" stroke="#9a169f"/>
<path d="M301.4 208.15 L303.13 209.9 L304.24 206.77 L302.51 205.44 Z" fill="#a01a9c" stroke="#a01a9c"/>
<path d="M304.24 206.77 L305.98 207.91 L307.09 204.59 L305.36 203.79 Z" fill="#ac2694" stroke="#ac2694"/>
<path d="M321.31 192.26 L323.04 192.59 L324.16 191 L322.42 190.48 Z" fill="#f1814d" stroke="#f1814d"/>
<path d="M324.16 191 L325.89 191.66 L327 190.31 L325.27 189.45 Z" fill="#f3874a" stroke="#f3874a"/>
<path d="M327 190.31 L328.73 191.34 L329.84 190.21 L328.11 188.98 Z" fill="#f48849" stroke="#f48849"/>
<path d="M318.47 194.08 L320.2 194.14 L321.31 192.26 L319.58 192.05 Z" fill="#eb7655" stroke="#eb7655"/>
<path d="M338.38 192.92 L340.11 195.04 L341.22 194.46 L339.49 192.26 Z" fill="#e3685f" stroke="#e3685f"/>
<path d="M341.22 194.46 L342.96 196.65 L344.07 196.07 L342.33 193.86 Z" fill="#da5b69" stroke="#da5b69"/>
<path d="M344.07 196.07 L345.8 198.24 L346.91 197.61 L345.18 195.47 Z" fill="#d14e72" stroke="#d14e72"/>
<path d="M346.91 197.61 L348.64 199.66 L349.76 198.92 L348.02 196.93 Z" fill="#c8437b" stroke="#c8437b"/>
<path d="M288.91 207.05 L290.64 209.13 L291.76 208.37 L290.02 206.31 Z" fill="#aa2395" stroke="#aa2395"/>
<path d="M294.6 209.72 L296.33 212.45 L297.44 210.68 L295.71 208.22 Z" fill="#920fa3" stroke="#920fa3"/>
<path d="M297.44 210.68 L299.18 213.3 L300.29 210.83 L298.56 208.59 Z" fill="#8b0aa5" stroke="#8b0aa5"/>
<path d="M305.98 207.91 L307.71 208.71 L308.82 205.14 L307.09 204.59 Z" fill="#aa2395" stroke="#aa2395"/>
<path d="M308.82 205.14 L310.56 205.37 L311.67 202.02 L309.93 201.9 Z" fill="#bd3786" stroke="#bd3786"/>
<path d="M311.67 202.02 L313.4 201.91 L314.51 198.97 L312.78 199.06 Z" fill="#cd4a76" stroke="#cd4a76"/>
<path d="M314.51 198.97 L316.24 198.76 L317.36 196.29 L315.62 196.38 Z" fill="#dc5d67" stroke="#dc5d67"/>
<path d="M317.36 196.29 L319.09 196.18 L320.2 194.14 L318.47 194.08 Z" fill="#e66c5c" stroke="#e66c5c"/>
<path d="M328.73 191.34 L330.47 192.51 L331.58 191.59 L329.84 190.21 Z" fill="#f1834c" stroke="#f1834c"/>
<path d="M331.58 191.59 L333.31 193.11 L334.42 192.36 L332.69 190.67 Z" fill="#ef7e50" stroke="#ef7e50"/>
<path d="M334.42 192.36 L336.16 194.16 L337.27 193.56 L335.53 191.6 Z" fill="#ea7457" stroke="#ea7457"/>
<path d="M337.27 193.56 L339 195.57 L340.11 195.04 L338.38 192.92 Z" fill="#e4695e" stroke="#e4695e"/>
<path d="M348.64 199.66 L350.38 201.6 L351.49 200.78 L349.76 198.92 Z" fill="#bf3984" stroke="#bf3984"/>
<path d="M351.49 200.78 L353.22 202.51 L354.33 201.54 L352.6 199.9 Z" fill="#b7318a" stroke="#b7318a"/>
<path d="M354.33 201.54 L356.07 203.01 L357.18 201.89 L355.44 200.51 Z" fill="#b32c8e" stroke="#b32c8e"/>
<path d="M357.18 201.89 L358.91 203.1 L360.02 201.87 L358.29 200.74 Z" fill="#b02991" stroke="#b02991"/>
<path d="M360.02 201.87 L361.76 202.84 L362.87 201.54 L361.13 200.64 Z" fill="#b02991" stroke="#b02991"/>
<path d="M291.76 208.37 L293.49 210.88 L294.6 209.72 L292.87 207.34 Z" fill="#9e199d" stroke="#9e199d"/>
<path d="M300.29 210.83 L302.02 213.01 L303.13 209.9 L301.4 208.15 Z" fill="#8d0ba5" stroke="#8d0ba5"/>
<path d="M303.13 209.9 L304.87 211.41 L305.98 207.91 L304.24 206.77 Z" fill="#9814a0" stroke="#9814a0"/>
<path d="M320.2 194.14 L321.93 194.27 L323.04 192.59 L321.31 192.26 Z" fill="#ed7953" stroke="#ed7953"/>
<path d="M323.04 192.59 L324.78 193.04 L325.89 191.66 L324.16 191 Z" fill="#f0804e" stroke="#f0804e"/>
<path d="M325.89 191.66 L327.62 192.47 L328.73 191.34 L327 190.31 Z" fill="#f2844b" stroke="#f2844b"/>
<path d="M340.11 195.04 L341.84 197.17 L342.96 196.65 L341.22 194.46 Z" fill="#db5c68" stroke="#db5c68"/>
<path d="M342.96 196.65 L344.69 198.81 L345.8 198.24 L344.07 196.07 Z" fill="#d24f71" stroke="#d24f71"/>
<path d="M345.8 198.24 L347.53 200.33 L348.64 199.66 L346.91 197.61 Z" fill="#c8437b" stroke="#c8437b"/>
<path d="M319.09 196.18 L320.82 196.12 L321.93 194.27 L320.2 194.14 Z" fill="#e87059" stroke="#e87059"/>
<path d="M287.8 207.62 L289.53 209.63 L290.64 209.13 L288.91 207.05 Z" fill="#ab2494" stroke="#ab2494"/>
<path d="M290.64 209.13 L292.38 211.67 L293.49 210.88 L291.76 208.37 Z" fill="#9c179e" stroke="#9c179e"/>
<path d="M296.33 212.45 L298.07 215.37 L299.18 213.3 L297.44 210.68 Z" fill="#8004a8" stroke="#8004a8"/>
<path d="M299.18 213.3 L300.91 215.87 L302.02 213.01 L300.29 210.83 Z" fill="#7b02a8" stroke="#7b02a8"/>
<path d="M307.71 208.71 L309.44 209.08 L310.56 205.37 L308.82 205.14 Z" fill="#aa2395" stroke="#aa2395"/>
<path d="M310.56 205.37 L312.29 205.25 L313.4 201.91 L311.67 202.02 Z" fill="#bf3984" stroke="#bf3984"/>
<path d="M313.4 201.91 L315.13 201.58 L316.24 198.76 L314.51 198.97 Z" fill="#d14e72" stroke="#d14e72"/>
<path d="M316.24 198.76 L317.98 198.48 L319.09 196.18 L317.36 196.29 Z" fill="#df6263" stroke="#df6263"/>
<path d="M327.62 192.47 L329.36 193.44 L330.47 192.51 L328.73 191.34 Z" fill="#f0804e" stroke="#f0804e"/>
<path d="M330.47 192.51 L332.2 193.83 L333.31 193.11 L331.58 191.59 Z" fill="#ef7c51" stroke="#ef7c51"/>
<path d="M333.31 193.11 L335.04 194.74 L336.16 194.16 L334.42 192.36 Z" fill="#ea7457" stroke="#ea7457"/>
<path d="M336.16 194.16 L337.89 196.04 L339 195.57 L337.27 193.56 Z" fill="#e4695e" stroke="#e4695e"/>
<path d="M339 195.57 L340.73 197.61 L341.84 197.17 L340.11 195.04 Z" fill="#dc5d67" stroke="#dc5d67"/>
<path d="M347.53 200.33 L349.27 202.31 L350.38 201.6 L348.64 199.66 Z" fill="#bf3984" stroke="#bf3984"/>
<path d="M350.38 201.6 L352.11 203.39 L353.22 202.51 L351.49 200.78 Z" fill="#b6308b" stroke="#b6308b"/>
<path d="M353.22 202.51 L354.96 204.07 L356.07 203.01 L354.33 201.54 Z" fill="#b02991" stroke="#b02991"/>
<path d="M356.07 203.01 L357.8 204.3 L358.91 203.1 L357.18 201.89 Z" fill="#ac2694" stroke="#ac2694"/>
<path d="M358.91 203.1 L360.64 204.14 L361.76 202.84 L360.02 201.87 Z" fill="#ac2694" stroke="#ac2694"/>
<path d="M361.76 202.84 L363.49 203.64 L364.6 202.3 L362.87 201.54 Z" fill="#ad2793" stroke="#ad2793"/>
<path d="M293.49 210.88 L295.22 213.77 L296.33 212.45 L294.6 209.72 Z" fill="#8d0ba5" stroke="#8d0ba5"/>
<path d="M304.87 211.41 L306.6 212.5 L307.71 208.71 L305.98 207.91 Z" fill="#920fa3" stroke="#920fa3"/>
<path d="M302.02 213.01 L303.76 214.9 L304.87 211.41 L303.13 209.9 Z" fill="#8104a7" stroke="#8104a7"/>
<path d="M321.93 194.27 L323.67 194.52 L324.78 193.04 L323.04 192.59 Z" fill="#ed7a52" stroke="#ed7a52"/>
<path d="M324.78 193.04 L326.51 193.64 L327.62 192.47 L325.89 191.66 Z" fill="#f0804e" stroke="#f0804e"/>
<path d="M341.84 197.17 L343.58 199.28 L344.69 198.81 L342.96 196.65 Z" fill="#d35171" stroke="#d35171"/>
<path d="M344.69 198.81 L346.42 200.9 L347.53 200.33 L345.8 198.24 Z" fill="#c9447a" stroke="#c9447a"/>
<path d="M317.98 198.48 L319.71 198.19 L320.82 196.12 L319.09 196.18 Z" fill="#e26660" stroke="#e26660"/>
<path d="M320.82 196.12 L322.56 196.13 L323.67 194.52 L321.93 194.27 Z" fill="#e97257" stroke="#e97257"/>
<path d="M292.38 211.67 L294.11 214.59 L295.22 213.77 L293.49 210.88 Z" fill="#8a09a5" stroke="#8a09a5"/>
<path d="M286.69 208.03 L288.42 209.9 L289.53 209.63 L287.8 207.62 Z" fill="#ac2694" stroke="#ac2694"/>
<path d="M289.53 209.63 L291.27 212.07 L292.38 211.67 L290.64 209.13 Z" fill="#9d189d" stroke="#9d189d"/>
<path d="M295.22 213.77 L296.96 216.88 L298.07 215.37 L296.33 212.45 Z" fill="#7701a8" stroke="#7701a8"/>
<path d="M298.07 215.37 L299.8 218.25 L300.91 215.87 L299.18 213.3 Z" fill="#6a00a8" stroke="#6a00a8"/>
<path d="M300.91 215.87 L302.64 218.12 L303.76 214.9 L302.02 213.01 Z" fill="#6a00a8" stroke="#6a00a8"/>
<path d="M306.6 212.5 L308.33 213.01 L309.44 209.08 L307.71 208.71 Z" fill="#910ea3" stroke="#910ea3"/>
<path d="M309.44 209.08 L311.18 208.95 L312.29 205.25 L310.56 205.37 Z" fill="#ac2694" stroke="#ac2694"/>
<path d="M312.29 205.25 L314.02 204.79 L315.13 201.58 L313.4 201.91 Z" fill="#c43e7f" stroke="#c43e7f"/>
<path d="M315.13 201.58 L316.87 201.1 L317.98 198.48 L316.24 198.76 Z" fill="#d5546e" stroke="#d5546e"/>
<path d="M326.51 193.64 L328.24 194.39 L329.36 193.44 L327.62 192.47 Z" fill="#ef7e50" stroke="#ef7e50"/>
<path d="M329.36 193.44 L331.09 194.55 L332.2 193.83 L330.47 192.51 Z" fill="#ee7b51" stroke="#ee7b51"/>
<path d="M332.2 193.83 L333.93 195.28 L335.04 194.74 L333.31 193.11 Z" fill="#eb7556" stroke="#eb7556"/>
<path d="M335.04 194.74 L336.78 196.46 L337.89 196.04 L336.16 194.16 Z" fill="#e56b5d" stroke="#e56b5d"/>
<path d="M337.89 196.04 L339.62 197.97 L340.73 197.61 L339 195.57 Z" fill="#dd5e66" stroke="#dd5e66"/>
<path d="M340.73 197.61 L342.47 199.66 L343.58 199.28 L341.84 197.17 Z" fill="#d45270" stroke="#d45270"/>
<path d="M346.42 200.9 L348.16 202.9 L349.27 202.31 L347.53 200.33 Z" fill="#bf3984" stroke="#bf3984"/>
<path d="M349.27 202.31 L351 204.15 L352.11 203.39 L350.38 201.6 Z" fill="#b52f8c" stroke="#b52f8c"/>
<path d="M352.11 203.39 L353.84 205.02 L354.96 204.07 L353.22 202.51 Z" fill="#ae2892" stroke="#ae2892"/>
<path d="M354.96 204.07 L356.69 205.43 L357.8 204.3 L356.07 203.01 Z" fill="#aa2395" stroke="#aa2395"/>
<path d="M357.8 204.3 L359.53 205.4 L360.64 204.14 L358.91 203.1 Z" fill="#a72197" stroke="#a72197"/>
<path d="M360.64 204.14 L362.38 204.99 L363.49 203.64 L361.76 202.84 Z" fill="#a82296" stroke="#a82296"/>
<path d="M363.49 203.64 L365.22 204.29 L366.33 202.92 L364.6 202.3 Z" fill="#ab2494" stroke="#ab2494"/>
<path d="M303.76 214.9 L305.49 216.28 L306.6 212.5 L304.87 211.41 Z" fill="#7801a8" stroke="#7801a8"/>
<path d="M323.67 194.52 L325.4 194.89 L326.51 193.64 L324.78 193.04 Z" fill="#ee7b51" stroke="#ee7b51"/>
<path d="M343.58 199.28 L345.31 201.35 L346.42 200.9 L344.69 198.81 Z" fill="#ca457a" stroke="#ca457a"/>
<path d="M365.22 204.29 L366.96 204.78 L368.07 203.42 L366.33 202.92 Z" fill="#ab2494" stroke="#ab2494"/>
<path d="M294.11 214.59 L295.84 217.73 L296.96 216.88 L295.22 213.77 Z" fill="#7201a8" stroke="#7201a8"/>
<path d="M316.87 201.1 L318.6 200.55 L319.71 198.19 L317.98 198.48 Z" fill="#da5b69" stroke="#da5b69"/>
<path d="M319.71 198.19 L321.44 197.94 L322.56 196.13 L320.82 196.12 Z" fill="#e56a5d" stroke="#e56a5d"/>
<path d="M322.56 196.13 L324.29 196.26 L325.4 194.89 L323.67 194.52 Z" fill="#eb7556" stroke="#eb7556"/>
<path d="M291.27 212.07 L293 214.89 L294.11 214.59 L292.38 211.67 Z" fill="#8a09a5" stroke="#8a09a5"/>
<path d="M302.64 218.12 L304.38 219.76 L305.49 216.28 L303.76 214.9 Z" fill="#5e01a6" stroke="#5e01a6"/>
<path d="M285.58 208.34 L287.31 210.01 L288.42 209.9 L286.69 208.03 Z" fill="#b02991" stroke="#b02991"/>
<path d="M288.42 209.9 L290.16 212.15 L291.27 212.07 L289.53 209.63 Z" fill="#a01a9c" stroke="#a01a9c"/>
<path d="M296.96 216.88 L298.69 219.95 L299.8 218.25 L298.07 215.37 Z" fill="#6001a6" stroke="#6001a6"/>
<path d="M299.8 218.25 L301.53 220.77 L302.64 218.12 L300.91 215.87 Z" fill="#5601a4" stroke="#5601a4"/>
<path d="M305.49 216.28 L307.22 216.95 L308.33 213.01 L306.6 212.5 Z" fill="#7501a8" stroke="#7501a8"/>
<path d="M308.33 213.01 L310.07 212.88 L311.18 208.95 L309.44 209.08 Z" fill="#9410a2" stroke="#9410a2"/>
<path d="M311.18 208.95 L312.91 208.35 L314.02 204.79 L312.29 205.25 Z" fill="#b22b8f" stroke="#b22b8f"/>
<path d="M314.02 204.79 L315.76 204.08 L316.87 201.1 L315.13 201.58 Z" fill="#ca457a" stroke="#ca457a"/>
<path d="M325.4 194.89 L327.13 195.41 L328.24 194.39 L326.51 193.64 Z" fill="#ed7a52" stroke="#ed7a52"/>
<path d="M328.24 194.39 L329.98 195.3 L331.09 194.55 L329.36 193.44 Z" fill="#ed7a52" stroke="#ed7a52"/>
<path d="M331.09 194.55 L332.82 195.81 L333.93 195.28 L332.2 193.83 Z" fill="#eb7556" stroke="#eb7556"/>
<path d="M333.93 195.28 L335.67 196.83 L336.78 196.46 L335.04 194.74 Z" fill="#e66c5c" stroke="#e66c5c"/>
<path d="M336.78 196.46 L338.51 198.26 L339.62 197.97 L337.89 196.04 Z" fill="#de6164" stroke="#de6164"/>
<path d="M339.62 197.97 L341.36 199.92 L342.47 199.66 L340.73 197.61 Z" fill="#d5546e" stroke="#d5546e"/>
<path d="M342.47 199.66 L344.2 201.67 L345.31 201.35 L343.58 199.28 Z" fill="#cc4778" stroke="#cc4778"/>
<path d="M345.31 201.35 L347.04 203.34 L348.16 202.9 L346.42 200.9 Z" fill="#c03a83" stroke="#c03a83"/>
<path d="M348.16 202.9 L349.89 204.76 L351 204.15 L349.27 202.31 Z" fill="#b6308b" stroke="#b6308b"/>
<path d="M351 204.15 L352.73 205.82 L353.84 205.02 L352.11 203.39 Z" fill="#ad2793" stroke="#ad2793"/>
<path d="M353.84 205.02 L355.58 206.44 L356.69 205.43 L354.96 204.07 Z" fill="#a72197" stroke="#a72197"/>
<path d="M356.69 205.43 L358.42 206.59 L359.53 205.4 L357.8 204.3 Z" fill="#a31e9a" stroke="#a31e9a"/>
<path d="M359.53 205.4 L361.27 206.3 L362.38 204.99 L360.64 204.14 Z" fill="#a31e9a" stroke="#a31e9a"/>
<path d="M362.38 204.99 L364.11 205.66 L365.22 204.29 L363.49 203.64 Z" fill="#a62098" stroke="#a62098"/>
<path d="M324.29 196.26 L326.02 196.54 L327.13 195.41 L325.4 194.89 Z" fill="#eb7655" stroke="#eb7655"/>
<path d="M344.2 201.67 L345.93 203.62 L347.04 203.34 L345.31 201.35 Z" fill="#c23c81" stroke="#c23c81"/>
<path d="M364.11 205.66 L365.84 206.14 L366.96 204.78 L365.22 204.29 Z" fill="#a62098" stroke="#a62098"/>
<path d="M366.96 204.78 L368.69 205.13 L369.8 203.79 L368.07 203.42 Z" fill="#ab2494" stroke="#ab2494"/>
<path d="M293 214.89 L294.73 217.91 L295.84 217.73 L294.11 214.59 Z" fill="#7401a8" stroke="#7401a8"/>
<path d="M295.84 217.73 L297.58 220.83 L298.69 219.95 L296.96 216.88 Z" fill="#5901a5" stroke="#5901a5"/>
<path d="M304.38 219.76 L306.11 220.58 L307.22 216.95 L305.49 216.28 Z" fill="#5801a4" stroke="#5801a4"/>
<path d="M315.76 204.08 L317.49 203.22 L318.6 200.55 L316.87 201.1 Z" fill="#d04d73" stroke="#d04d73"/>
<path d="M318.6 200.55 L320.33 200 L321.44 197.94 L319.71 198.19 Z" fill="#de6164" stroke="#de6164"/>
<path d="M321.44 197.94 L323.18 197.8 L324.29 196.26 L322.56 196.13 Z" fill="#e76f5a" stroke="#e76f5a"/>
<path d="M284.47 208.6 L286.2 210.04 L287.31 210.01 L285.58 208.34 Z" fill="#b32c8e" stroke="#b32c8e"/>
<path d="M290.16 212.15 L291.89 214.74 L293 214.89 L291.27 212.07 Z" fill="#8f0da4" stroke="#8f0da4"/>
<path d="M301.53 220.77 L303.27 222.63 L304.38 219.76 L302.64 218.12 Z" fill="#48039f" stroke="#48039f"/>
<path d="M287.31 210.01 L289.04 212.01 L290.16 212.15 L288.42 209.9 Z" fill="#a51f99" stroke="#a51f99"/>
<path d="M298.69 219.95 L300.42 222.64 L301.53 220.77 L299.8 218.25 Z" fill="#48039f" stroke="#48039f"/>
<path d="M307.22 216.95 L308.96 216.83 L310.07 212.88 L308.33 213.01 Z" fill="#7701a8" stroke="#7701a8"/>
<path d="M310.07 212.88 L311.8 212.14 L312.91 208.35 L311.18 208.95 Z" fill="#9a169f" stroke="#9a169f"/>
<path d="M312.91 208.35 L314.64 207.38 L315.76 204.08 L314.02 204.79 Z" fill="#ba3388" stroke="#ba3388"/>
<path d="M327.13 195.41 L328.87 196.09 L329.98 195.3 L328.24 194.39 Z" fill="#ed7953" stroke="#ed7953"/>
<path d="M329.98 195.3 L331.71 196.35 L332.82 195.81 L331.09 194.55 Z" fill="#eb7556" stroke="#eb7556"/>
<path d="M332.82 195.81 L334.56 197.18 L335.67 196.83 L333.93 195.28 Z" fill="#e76e5b" stroke="#e76e5b"/>
<path d="M335.67 196.83 L337.4 198.48 L338.51 198.26 L336.78 196.46 Z" fill="#e16462" stroke="#e16462"/>
<path d="M338.51 198.26 L340.24 200.09 L341.36 199.92 L339.62 197.97 Z" fill="#d8576b" stroke="#d8576b"/>
<path d="M341.36 199.92 L343.09 201.86 L344.2 201.67 L342.47 199.66 Z" fill="#cd4a76" stroke="#cd4a76"/>
<path d="M347.04 203.34 L348.78 205.2 L349.89 204.76 L348.16 202.9 Z" fill="#b7318a" stroke="#b7318a"/>
<path d="M349.89 204.76 L351.62 206.46 L352.73 205.82 L351 204.15 Z" fill="#ad2793" stroke="#ad2793"/>
<path d="M352.73 205.82 L354.47 207.29 L355.58 206.44 L353.84 205.02 Z" fill="#a51f99" stroke="#a51f99"/>
<path d="M355.58 206.44 L357.31 207.64 L358.42 206.59 L356.69 205.43 Z" fill="#a11b9b" stroke="#a11b9b"/>
<path d="M358.42 206.59 L360.16 207.52 L361.27 206.3 L359.53 205.4 Z" fill="#a01a9c" stroke="#a01a9c"/>
<path d="M361.27 206.3 L363 206.98 L364.11 205.66 L362.38 204.99 Z" fill="#a11b9b" stroke="#a11b9b"/>
<path d="M323.18 197.8 L324.91 197.81 L326.02 196.54 L324.29 196.26 Z" fill="#e97158" stroke="#e97158"/>
<path d="M326.02 196.54 L327.76 196.98 L328.87 196.09 L327.13 195.41 Z" fill="#eb7655" stroke="#eb7655"/>
<path d="M343.09 201.86 L344.82 203.75 L345.93 203.62 L344.2 201.67 Z" fill="#c5407e" stroke="#c5407e"/>
<path d="M345.93 203.62 L347.67 205.46 L348.78 205.2 L347.04 203.34 Z" fill="#ba3388" stroke="#ba3388"/>
<path d="M363 206.98 L364.73 207.47 L365.84 206.14 L364.11 205.66 Z" fill="#a11b9b" stroke="#a11b9b"/>
<path d="M365.84 206.14 L367.58 206.47 L368.69 205.13 L366.96 204.78 Z" fill="#a62098" stroke="#a62098"/>
<path d="M368.69 205.13 L370.42 205.37 L371.53 204.07 L369.8 203.79 Z" fill="#ac2694" stroke="#ac2694"/>
<path d="M283.36 208.86 L285.09 210.08 L286.2 210.04 L284.47 208.6 Z" fill="#b6308b" stroke="#b6308b"/>
<path d="M286.2 210.04 L287.93 211.76 L289.04 212.01 L287.31 210.01 Z" fill="#aa2395" stroke="#aa2395"/>
<path d="M291.89 214.74 L293.62 217.53 L294.73 217.91 L293 214.89 Z" fill="#7a02a8" stroke="#7a02a8"/>
<path d="M294.73 217.91 L296.47 220.9 L297.58 220.83 L295.84 217.73 Z" fill="#5b01a5" stroke="#5b01a5"/>
<path d="M297.58 220.83 L299.31 223.56 L300.42 222.64 L298.69 219.95 Z" fill="#43039e" stroke="#43039e"/>
<path d="M303.27 222.63 L305 223.58 L306.11 220.58 L304.38 219.76 Z" fill="#3f049c" stroke="#3f049c"/>
<path d="M306.11 220.58 L307.84 220.47 L308.96 216.83 L307.22 216.95 Z" fill="#5901a5" stroke="#5901a5"/>
<path d="M314.64 207.38 L316.38 206.19 L317.49 203.22 L315.76 204.08 Z" fill="#c33d80" stroke="#c33d80"/>
<path d="M317.49 203.22 L319.22 202.34 L320.33 200 L318.6 200.55 Z" fill="#d6556d" stroke="#d6556d"/>
<path d="M320.33 200 L322.07 199.55 L323.18 197.8 L321.44 197.94 Z" fill="#e26660" stroke="#e26660"/>
<path d="M289.04 212.01 L290.78 214.3 L291.89 214.74 L290.16 212.15 Z" fill="#9613a1" stroke="#9613a1"/>
<path d="M300.42 222.64 L302.16 224.63 L303.27 222.63 L301.53 220.77 Z" fill="#370499" stroke="#370499"/>
<path d="M308.96 216.83 L310.69 215.94 L311.8 212.14 L310.07 212.88 Z" fill="#8004a8" stroke="#8004a8"/>
<path d="M311.8 212.14 L313.53 210.9 L314.64 207.38 L312.91 208.35 Z" fill="#a62098" stroke="#a62098"/>
<path d="M328.87 196.09 L330.6 196.93 L331.71 196.35 L329.98 195.3 Z" fill="#eb7556" stroke="#eb7556"/>
<path d="M331.71 196.35 L333.44 197.53 L334.56 197.18 L332.82 195.81 Z" fill="#e87059" stroke="#e87059"/>
<path d="M334.56 197.18 L336.29 198.66 L337.4 198.48 L335.67 196.83 Z" fill="#e26660" stroke="#e26660"/>
<path d="M337.4 198.48 L339.13 200.18 L340.24 200.09 L338.51 198.26 Z" fill="#da5b69" stroke="#da5b69"/>
<path d="M340.24 200.09 L341.98 201.93 L343.09 201.86 L341.36 199.92 Z" fill="#d04d73" stroke="#d04d73"/>
<path d="M348.78 205.2 L350.51 206.9 L351.62 206.46 L349.89 204.76 Z" fill="#ae2892" stroke="#ae2892"/>
<path d="M351.62 206.46 L353.36 207.95 L354.47 207.29 L352.73 205.82 Z" fill="#a51f99" stroke="#a51f99"/>
<path d="M354.47 207.29 L356.2 208.53 L357.31 207.64 L355.58 206.44 Z" fill="#9e199d" stroke="#9e199d"/>
<path d="M357.31 207.64 L359.04 208.6 L360.16 207.52 L358.42 206.59 Z" fill="#9c179e" stroke="#9c179e"/>
<path d="M360.16 207.52 L361.89 208.22 L363 206.98 L361.27 206.3 Z" fill="#9d189d" stroke="#9d189d"/>
<path d="M322.07 199.55 L323.8 199.26 L324.91 197.81 L323.18 197.8 Z" fill="#e56b5d" stroke="#e56b5d"/>
<path d="M324.91 197.81 L326.64 198 L327.76 196.98 L326.02 196.54 Z" fill="#ea7457" stroke="#ea7457"/>
<path d="M327.76 196.98 L329.49 197.6 L330.6 196.93 L328.87 196.09 Z" fill="#eb7556" stroke="#eb7556"/>
<path d="M341.98 201.93 L343.71 203.73 L344.82 203.75 L343.09 201.86 Z" fill="#c9447a" stroke="#c9447a"/>
<path d="M344.82 203.75 L346.56 205.54 L347.67 205.46 L345.93 203.62 Z" fill="#bd3786" stroke="#bd3786"/>
<path d="M347.67 205.46 L349.4 207.15 L350.51 206.9 L348.78 205.2 Z" fill="#b12a90" stroke="#b12a90"/>
<path d="M361.89 208.22 L363.62 208.71 L364.73 207.47 L363 206.98 Z" fill="#9c179e" stroke="#9c179e"/>
<path d="M364.73 207.47 L366.47 207.78 L367.58 206.47 L365.84 206.14 Z" fill="#a11b9b" stroke="#a11b9b"/>
<path d="M367.58 206.47 L369.31 206.67 L370.42 205.37 L368.69 205.13 Z" fill="#a72197" stroke="#a72197"/>
<path d="M370.42 205.37 L372.16 205.52 L373.27 204.28 L371.53 204.07 Z" fill="#ae2892" stroke="#ae2892"/>
<path d="M299.31 223.56 L301.04 225.6 L302.16 224.63 L300.42 222.64 Z" fill="#2e0595" stroke="#2e0595"/>
<path d="M285.09 210.08 L286.82 211.51 L287.93 211.76 L286.2 210.04 Z" fill="#b02991" stroke="#b02991"/>
<path d="M282.24 209.16 L283.98 210.18 L285.09 210.08 L283.36 208.86 Z" fill="#ba3388" stroke="#ba3388"/>
<path d="M287.93 211.76 L289.67 213.7 L290.78 214.3 L289.04 212.01 Z" fill="#9e199d" stroke="#9e199d"/>
<path d="M293.62 217.53 L295.36 220.28 L296.47 220.9 L294.73 217.91 Z" fill="#6400a7" stroke="#6400a7"/>
<path d="M296.47 220.9 L298.2 223.54 L299.31 223.56 L297.58 220.83 Z" fill="#44039e" stroke="#44039e"/>
<path d="M302.16 224.63 L303.89 225.66 L305 223.58 L303.27 222.63 Z" fill="#2c0594" stroke="#2c0594"/>
<path d="M305 223.58 L306.73 223.49 L307.84 220.47 L306.11 220.58 Z" fill="#3f049c" stroke="#3f049c"/>
<path d="M307.84 220.47 L309.58 219.47 L310.69 215.94 L308.96 216.83 Z" fill="#6300a7" stroke="#6300a7"/>
<path d="M313.53 210.9 L315.27 209.35 L316.38 206.19 L314.64 207.38 Z" fill="#b22b8f" stroke="#b22b8f"/>
<path d="M316.38 206.19 L318.11 204.92 L319.22 202.34 L317.49 203.22 Z" fill="#cc4778" stroke="#cc4778"/>
<path d="M319.22 202.34 L320.96 201.54 L322.07 199.55 L320.33 200 Z" fill="#dc5d67" stroke="#dc5d67"/>
<path d="M290.78 214.3 L292.51 216.75 L293.62 217.53 L291.89 214.74 Z" fill="#8405a7" stroke="#8405a7"/>
<path d="M310.69 215.94 L312.42 214.44 L313.53 210.9 L311.8 212.14 Z" fill="#8d0ba5" stroke="#8d0ba5"/>
<path d="M330.6 196.93 L332.33 197.92 L333.44 197.53 L331.71 196.35 Z" fill="#e97158" stroke="#e97158"/>
<path d="M333.44 197.53 L335.18 198.83 L336.29 198.66 L334.56 197.18 Z" fill="#e56a5d" stroke="#e56a5d"/>
<path d="M336.29 198.66 L338.02 200.21 L339.13 200.18 L337.4 198.48 Z" fill="#dd5e66" stroke="#dd5e66"/>
<path d="M339.13 200.18 L340.87 201.9 L341.98 201.93 L340.24 200.09 Z" fill="#d45270" stroke="#d45270"/>
<path d="M350.51 206.9 L352.24 208.41 L353.36 207.95 L351.62 206.46 Z" fill="#a62098" stroke="#a62098"/>
<path d="M353.36 207.95 L355.09 209.22 L356.2 208.53 L354.47 207.29 Z" fill="#9e199d" stroke="#9e199d"/>
<path d="M356.2 208.53 L357.93 209.52 L359.04 208.6 L357.31 207.64 Z" fill="#99159f" stroke="#99159f"/>
<path d="M359.04 208.6 L360.78 209.33 L361.89 208.22 L360.16 207.52 Z" fill="#99159f" stroke="#99159f"/>
<path d="M301.04 225.6 L302.78 226.67 L303.89 225.66 L302.16 224.63 Z" fill="#220690" stroke="#220690"/>
<path d="M320.96 201.54 L322.69 200.91 L323.8 199.26 L322.07 199.55 Z" fill="#e16462" stroke="#e16462"/>
<path d="M323.8 199.26 L325.53 199.17 L326.64 198 L324.91 197.81 Z" fill="#e87059" stroke="#e87059"/>
<path d="M326.64 198 L328.38 198.37 L329.49 197.6 L327.76 196.98 Z" fill="#ea7457" stroke="#ea7457"/>
<path d="M329.49 197.6 L331.22 198.37 L332.33 197.92 L330.6 196.93 Z" fill="#e97257" stroke="#e97257"/>
<path d="M340.87 201.9 L342.6 203.61 L343.71 203.73 L341.98 201.93 Z" fill="#cc4977" stroke="#cc4977"/>
<path d="M343.71 203.73 L345.44 205.46 L346.56 205.54 L344.82 203.75 Z" fill="#c13b82" stroke="#c13b82"/>
<path d="M346.56 205.54 L348.29 207.2 L349.4 207.15 L347.67 205.46 Z" fill="#b42e8d" stroke="#b42e8d"/>
<path d="M349.4 207.15 L351.13 208.65 L352.24 208.41 L350.51 206.9 Z" fill="#a82296" stroke="#a82296"/>
<path d="M360.78 209.33 L362.51 209.82 L363.62 208.71 L361.89 208.22 Z" fill="#9814a0" stroke="#9814a0"/>
<path d="M363.62 208.71 L365.36 209 L366.47 207.78 L364.73 207.47 Z" fill="#9d189d" stroke="#9d189d"/>
<path d="M366.47 207.78 L368.2 207.93 L369.31 206.67 L367.58 206.47 Z" fill="#a31e9a" stroke="#a31e9a"/>
<path d="M369.31 206.67 L371.04 206.77 L372.16 205.52 L370.42 205.37 Z" fill="#aa2395" stroke="#aa2395"/>
<path d="M372.16 205.52 L373.89 205.61 L375 204.44 L373.27 204.28 Z" fill="#b12a90" stroke="#b12a90"/>
<path d="M286.82 211.51 L288.56 213.11 L289.67 213.7 L287.93 211.76 Z" fill="#a72197" stroke="#a72197"/>
<path d="M298.2 223.54 L299.93 225.53 L301.04 225.6 L299.31 223.56 Z" fill="#2f0596" stroke="#2f0596"/>
<path d="M281.13 209.53 L282.87 210.38 L283.98 210.18 L282.24 209.16 Z" fill="#bd3786" stroke="#bd3786"/>
<path d="M283.98 210.18 L285.71 211.35 L286.82 211.51 L285.09 210.08 Z" fill="#b52f8c" stroke="#b52f8c"/>
<path d="M289.67 213.7 L291.4 215.78 L292.51 216.75 L290.78 214.3 Z" fill="#910ea3" stroke="#910ea3"/>
<path d="M292.51 216.75 L294.24 219.18 L295.36 220.28 L293.62 217.53 Z" fill="#7100a8" stroke="#7100a8"/>
<path d="M295.36 220.28 L297.09 222.72 L298.2 223.54 L296.47 220.9 Z" fill="#4e02a2" stroke="#4e02a2"/>
<path d="M303.89 225.66 L305.62 225.61 L306.73 223.49 L305 223.58 Z" fill="#2c0594" stroke="#2c0594"/>
<path d="M306.73 223.49 L308.47 222.41 L309.58 219.47 L307.84 220.47 Z" fill="#4b03a1" stroke="#4b03a1"/>
<path d="M309.58 219.47 L311.31 217.73 L312.42 214.44 L310.69 215.94 Z" fill="#7401a8" stroke="#7401a8"/>
<path d="M312.42 214.44 L314.16 212.53 L315.27 209.35 L313.53 210.9 Z" fill="#9e199d" stroke="#9e199d"/>
<path d="M315.27 209.35 L317 207.68 L318.11 204.92 L316.38 206.19 Z" fill="#bf3984" stroke="#bf3984"/>
<path d="M318.11 204.92 L319.84 203.74 L320.96 201.54 L319.22 202.34 Z" fill="#d45270" stroke="#d45270"/>
<path d="M332.33 197.92 L334.07 199.04 L335.18 198.83 L333.44 197.53 Z" fill="#e66c5c" stroke="#e66c5c"/>
<path d="M335.18 198.83 L336.91 200.23 L338.02 200.21 L336.29 198.66 Z" fill="#e06363" stroke="#e06363"/>
<path d="M338.02 200.21 L339.76 201.8 L340.87 201.9 L339.13 200.18 Z" fill="#d7566c" stroke="#d7566c"/>
<path d="M352.24 208.41 L353.98 209.69 L355.09 209.22 L353.36 207.95 Z" fill="#9e199d" stroke="#9e199d"/>
<path d="M355.09 209.22 L356.82 210.23 L357.93 209.52 L356.2 208.53 Z" fill="#99159f" stroke="#99159f"/>
<path d="M357.93 209.52 L359.67 210.26 L360.78 209.33 L359.04 208.6 Z" fill="#9613a1" stroke="#9613a1"/>
<path d="M299.93 225.53 L301.67 226.6 L302.78 226.67 L301.04 225.6 Z" fill="#240691" stroke="#240691"/>
<path d="M302.78 226.67 L304.51 226.66 L305.62 225.61 L303.89 225.66 Z" fill="#20068f" stroke="#20068f"/>
<path d="M311.31 217.73 L313.04 215.52 L314.16 212.53 L312.42 214.44 Z" fill="#8808a6" stroke="#8808a6"/>
<path d="M319.84 203.74 L321.58 202.75 L322.69 200.91 L320.96 201.54 Z" fill="#db5c68" stroke="#db5c68"/>
<path d="M322.69 200.91 L324.42 200.51 L325.53 199.17 L323.8 199.26 Z" fill="#e56a5d" stroke="#e56a5d"/>
<path d="M325.53 199.17 L327.27 199.29 L328.38 198.37 L326.64 198 Z" fill="#e97257" stroke="#e97257"/>
<path d="M328.38 198.37 L330.11 198.93 L331.22 198.37 L329.49 197.6 Z" fill="#ea7457" stroke="#ea7457"/>
<path d="M331.22 198.37 L332.96 199.3 L334.07 199.04 L332.33 197.92 Z" fill="#e76f5a" stroke="#e76f5a"/>
<path d="M339.76 201.8 L341.49 203.4 L342.6 203.61 L340.87 201.9 Z" fill="#d14e72" stroke="#d14e72"/>
<path d="M342.6 203.61 L344.33 205.26 L345.44 205.46 L343.71 203.73 Z" fill="#c6417d" stroke="#c6417d"/>
<path d="M345.44 205.46 L347.18 207.08 L348.29 207.2 L346.56 205.54 Z" fill="#b83289" stroke="#b83289"/>
<path d="M348.29 207.2 L350.02 208.69 L351.13 208.65 L349.4 207.15 Z" fill="#ac2694" stroke="#ac2694"/>
<path d="M351.13 208.65 L352.87 209.94 L353.98 209.69 L352.24 208.41 Z" fill="#a11b9b" stroke="#a11b9b"/>
<path d="M359.67 210.26 L361.4 210.76 L362.51 209.82 L360.78 209.33 Z" fill="#9511a1" stroke="#9511a1"/>
<path d="M362.51 209.82 L364.24 210.1 L365.36 209 L363.62 208.71 Z" fill="#99159f" stroke="#99159f"/>
<path d="M365.36 209 L367.09 209.12 L368.2 207.93 L366.47 207.78 Z" fill="#9e199d" stroke="#9e199d"/>
<path d="M368.2 207.93 L369.93 207.98 L371.04 206.77 L369.31 206.67 Z" fill="#a62098" stroke="#a62098"/>
<path d="M371.04 206.77 L372.78 206.79 L373.89 205.61 L372.16 205.52 Z" fill="#ad2793" stroke="#ad2793"/>
<path d="M373.89 205.61 L375.62 205.68 L376.73 204.57 L375 204.44 Z" fill="#b32c8e" stroke="#b32c8e"/>
<path d="M288.56 213.11 L290.29 214.82 L291.4 215.78 L289.67 213.7 Z" fill="#9d189d" stroke="#9d189d"/>
<path d="M280.02 209.97 L281.76 210.69 L282.87 210.38 L281.13 209.53 Z" fill="#bf3984" stroke="#bf3984"/>
<path d="M282.87 210.38 L284.6 211.34 L285.71 211.35 L283.98 210.18 Z" fill="#ba3388" stroke="#ba3388"/>
<path d="M285.71 211.35 L287.44 212.65 L288.56 213.11 L286.82 211.51 Z" fill="#ae2892" stroke="#ae2892"/>
<path d="M291.4 215.78 L293.13 217.84 L294.24 219.18 L292.51 216.75 Z" fill="#8104a7" stroke="#8104a7"/>
<path d="M297.09 222.72 L298.82 224.57 L299.93 225.53 L298.2 223.54 Z" fill="#3e049c" stroke="#3e049c"/>
<path d="M294.24 219.18 L295.98 221.34 L297.09 222.72 L295.36 220.28 Z" fill="#5e01a6" stroke="#5e01a6"/>
<path d="M305.62 225.61 L307.36 224.51 L308.47 222.41 L306.73 223.49 Z" fill="#370499" stroke="#370499"/>
<path d="M308.47 222.41 L310.2 220.51 L311.31 217.73 L309.58 219.47 Z" fill="#5c01a6" stroke="#5c01a6"/>
<path d="M314.16 212.53 L315.89 210.47 L317 207.68 L315.27 209.35 Z" fill="#b02991" stroke="#b02991"/>
<path d="M317 207.68 L318.73 206.09 L319.84 203.74 L318.11 204.92 Z" fill="#ca457a" stroke="#ca457a"/>
<path d="M334.07 199.04 L335.8 200.26 L336.91 200.23 L335.18 198.83 Z" fill="#e26660" stroke="#e26660"/>
<path d="M336.91 200.23 L338.64 201.68 L339.76 201.8 L338.02 200.21 Z" fill="#db5c68" stroke="#db5c68"/>
<path d="M353.98 209.69 L355.71 210.72 L356.82 210.23 L355.09 209.22 Z" fill="#99159f" stroke="#99159f"/>
<path d="M356.82 210.23 L358.56 210.99 L359.67 210.26 L357.93 209.52 Z" fill="#9511a1" stroke="#9511a1"/>
<path d="M290.29 214.82 L292.02 216.52 L293.13 217.84 L291.4 215.78 Z" fill="#910ea3" stroke="#910ea3"/>
<path d="M298.82 224.57 L300.56 225.6 L301.67 226.6 L299.93 225.53 Z" fill="#310597" stroke="#310597"/>
<path d="M301.67 226.6 L303.4 226.65 L304.51 226.66 L302.78 226.67 Z" fill="#240691" stroke="#240691"/>
<path d="M304.51 226.66 L306.24 225.6 L307.36 224.51 L305.62 225.61 Z" fill="#2e0595" stroke="#2e0595"/>
<path d="M310.2 220.51 L311.93 218.07 L313.04 215.52 L311.31 217.73 Z" fill="#7501a8" stroke="#7501a8"/>
<path d="M313.04 215.52 L314.78 213.11 L315.89 210.47 L314.16 212.53 Z" fill="#9e199d" stroke="#9e199d"/>
<path d="M318.73 206.09 L320.47 204.72 L321.58 202.75 L319.84 203.74 Z" fill="#d45270" stroke="#d45270"/>
<path d="M321.58 202.75 L323.31 202.01 L324.42 200.51 L322.69 200.91 Z" fill="#e16462" stroke="#e16462"/>
<path d="M324.42 200.51 L326.16 200.35 L327.27 199.29 L325.53 199.17 Z" fill="#e76f5a" stroke="#e76f5a"/>
<path d="M327.27 199.29 L329 199.61 L330.11 198.93 L328.38 198.37 Z" fill="#e97257" stroke="#e97257"/>
<path d="M330.11 198.93 L331.84 199.66 L332.96 199.3 L331.22 198.37 Z" fill="#e97158" stroke="#e97158"/>
<path d="M332.96 199.3 L334.69 200.35 L335.8 200.26 L334.07 199.04 Z" fill="#e56b5d" stroke="#e56b5d"/>
<path d="M338.64 201.68 L340.38 203.16 L341.49 203.4 L339.76 201.8 Z" fill="#d5546e" stroke="#d5546e"/>
<path d="M341.49 203.4 L343.22 204.97 L344.33 205.26 L342.6 203.61 Z" fill="#cb4679" stroke="#cb4679"/>
<path d="M344.33 205.26 L346.07 206.83 L347.18 207.08 L345.44 205.46 Z" fill="#be3885" stroke="#be3885"/>
<path d="M347.18 207.08 L348.91 208.55 L350.02 208.69 L348.29 207.2 Z" fill="#b22b8f" stroke="#b22b8f"/>
<path d="M350.02 208.69 L351.76 209.98 L352.87 209.94 L351.13 208.65 Z" fill="#a62098" stroke="#a62098"/>
<path d="M352.87 209.94 L354.6 210.99 L355.71 210.72 L353.98 209.69 Z" fill="#9c179e" stroke="#9c179e"/>
<path d="M358.56 210.99 L360.29 211.5 L361.4 210.76 L359.67 210.26 Z" fill="#9410a2" stroke="#9410a2"/>
<path d="M361.4 210.76 L363.13 211.04 L364.24 210.1 L362.51 209.82 Z" fill="#9613a1" stroke="#9613a1"/>
<path d="M364.24 210.1 L365.98 210.2 L367.09 209.12 L365.36 209 Z" fill="#9c179e" stroke="#9c179e"/>
<path d="M367.09 209.12 L368.82 209.12 L369.93 207.98 L368.2 207.93 Z" fill="#a21d9a" stroke="#a21d9a"/>
<path d="M369.93 207.98 L371.67 207.94 L372.78 206.79 L371.04 206.77 Z" fill="#aa2395" stroke="#aa2395"/>
<path d="M372.78 206.79 L374.51 206.79 L375.62 205.68 L373.89 205.61 Z" fill="#b02991" stroke="#b02991"/>
<path d="M375.62 205.68 L377.36 205.74 L378.47 204.7 L376.73 204.57 Z" fill="#b52f8c" stroke="#b52f8c"/>
<path d="M278.91 210.48 L280.64 211.11 L281.76 210.69 L280.02 209.97 Z" fill="#c13b82" stroke="#c13b82"/>
<path d="M281.76 210.69 L283.49 211.48 L284.6 211.34 L282.87 210.38 Z" fill="#bd3786" stroke="#bd3786"/>
<path d="M284.6 211.34 L286.33 212.38 L287.44 212.65 L285.71 211.35 Z" fill="#b52f8c" stroke="#b52f8c"/>
<path d="M287.44 212.65 L289.18 214.02 L290.29 214.82 L288.56 213.11 Z" fill="#a72197" stroke="#a72197"/>
<path d="M293.13 217.84 L294.87 219.69 L295.98 221.34 L294.24 219.18 Z" fill="#7201a8" stroke="#7201a8"/>
<path d="M295.98 221.34 L297.71 223 L298.82 224.57 L297.09 222.72 Z" fill="#5002a2" stroke="#5002a2"/>
<path d="M307.36 224.51 L309.09 222.54 L310.2 220.51 L308.47 222.41 Z" fill="#4b03a1" stroke="#4b03a1"/>
<path d="M315.89 210.47 L317.62 208.48 L318.73 206.09 L317 207.68 Z" fill="#bf3984" stroke="#bf3984"/>
<path d="M335.8 200.26 L337.53 201.57 L338.64 201.68 L336.91 200.23 Z" fill="#de6164" stroke="#de6164"/>
<path d="M355.71 210.72 L357.44 211.5 L358.56 210.99 L356.82 210.23 Z" fill="#9613a1" stroke="#9613a1"/>
<path d="M277.8 211.05 L279.53 211.62 L280.64 211.11 L278.91 210.48 Z" fill="#c23c81" stroke="#c23c81"/>
<path d="M280.64 211.11 L282.38 211.78 L283.49 211.48 L281.76 210.69 Z" fill="#bf3984" stroke="#bf3984"/>
<path d="M283.49 211.48 L285.22 212.33 L286.33 212.38 L284.6 211.34 Z" fill="#ba3388" stroke="#ba3388"/>
<path d="M286.33 212.38 L288.07 213.48 L289.18 214.02 L287.44 212.65 Z" fill="#b12a90" stroke="#b12a90"/>
<path d="M289.18 214.02 L290.91 215.39 L292.02 216.52 L290.29 214.82 Z" fill="#a01a9c" stroke="#a01a9c"/>
<path d="M292.02 216.52 L293.76 218.05 L294.87 219.69 L293.13 217.84 Z" fill="#8606a6" stroke="#8606a6"/>
<path d="M294.87 219.69 L296.6 221.13 L297.71 223 L295.98 221.34 Z" fill="#6600a7" stroke="#6600a7"/>
<path d="M297.71 223 L299.44 223.96 L300.56 225.6 L298.82 224.57 Z" fill="#46039f" stroke="#46039f"/>
<path d="M300.56 225.6 L302.29 225.71 L303.4 226.65 L301.67 226.6 Z" fill="#310597" stroke="#310597"/>
<path d="M303.4 226.65 L305.13 225.69 L306.24 225.6 L304.51 226.66 Z" fill="#2f0596" stroke="#2f0596"/>
<path d="M306.24 225.6 L307.98 223.67 L309.09 222.54 L307.36 224.51 Z" fill="#43039e" stroke="#43039e"/>
<path d="M309.09 222.54 L310.82 220 L311.93 218.07 L310.2 220.51 Z" fill="#6600a7" stroke="#6600a7"/>
<path d="M311.93 218.07 L313.67 215.42 L314.78 213.11 L313.04 215.52 Z" fill="#8e0ca4" stroke="#8e0ca4"/>
<path d="M314.78 213.11 L316.51 210.78 L317.62 208.48 L315.89 210.47 Z" fill="#b32c8e" stroke="#b32c8e"/>
<path d="M317.62 208.48 L319.36 206.74 L320.47 204.72 L318.73 206.09 Z" fill="#cc4778" stroke="#cc4778"/>
<path d="M320.47 204.72 L322.2 203.64 L323.31 202.01 L321.58 202.75 Z" fill="#db5c68" stroke="#db5c68"/>
<path d="M323.31 202.01 L325.04 201.56 L326.16 200.35 L324.42 200.51 Z" fill="#e56a5d" stroke="#e56a5d"/>
<path d="M326.16 200.35 L327.89 200.43 L329 199.61 L327.27 199.29 Z" fill="#e97158" stroke="#e97158"/>
<path d="M329 199.61 L330.73 200.13 L331.84 199.66 L330.11 198.93 Z" fill="#e97257" stroke="#e97257"/>
<path d="M331.84 199.66 L333.58 200.52 L334.69 200.35 L332.96 199.3 Z" fill="#e76f5a" stroke="#e76f5a"/>
<path d="M334.69 200.35 L336.42 201.5 L337.53 201.57 L335.8 200.26 Z" fill="#e26561" stroke="#e26561"/>
<path d="M337.53 201.57 L339.27 202.92 L340.38 203.16 L338.64 201.68 Z" fill="#da5a6a" stroke="#da5a6a"/>
<path d="M340.38 203.16 L342.11 204.63 L343.22 204.97 L341.49 203.4 Z" fill="#d04d73" stroke="#d04d73"/>
<path d="M343.22 204.97 L344.96 206.47 L346.07 206.83 L344.33 205.26 Z" fill="#c43e7f" stroke="#c43e7f"/>
<path d="M346.07 206.83 L347.8 208.26 L348.91 208.55 L347.18 207.08 Z" fill="#b7318a" stroke="#b7318a"/>
<path d="M348.91 208.55 L350.64 209.83 L351.76 209.98 L350.02 208.69 Z" fill="#ab2494" stroke="#ab2494"/>
<path d="M351.76 209.98 L353.49 211.04 L354.6 210.99 L352.87 209.94 Z" fill="#a01a9c" stroke="#a01a9c"/>
<path d="M354.6 210.99 L356.33 211.79 L357.44 211.5 L355.71 210.72 Z" fill="#99159f" stroke="#99159f"/>
<path d="M357.44 211.5 L359.18 212.03 L360.29 211.5 L358.56 210.99 Z" fill="#9511a1" stroke="#9511a1"/>
<path d="M360.29 211.5 L362.02 211.79 L363.13 211.04 L361.4 210.76 Z" fill="#9511a1" stroke="#9511a1"/>
<path d="M363.13 211.04 L364.87 211.13 L365.98 210.2 L364.24 210.1 Z" fill="#99159f" stroke="#99159f"/>
<path d="M365.98 210.2 L367.71 210.16 L368.82 209.12 L367.09 209.12 Z" fill="#9e199d" stroke="#9e199d"/>
<path d="M368.82 209.12 L370.56 209.04 L371.67 207.94 L369.93 207.98 Z" fill="#a62098" stroke="#a62098"/>
<path d="M371.67 207.94 L373.4 207.87 L374.51 206.79 L372.78 206.79 Z" fill="#ad2793" stroke="#ad2793"/>
<path d="M374.51 206.79 L376.24 206.78 L377.36 205.74 L375.62 205.68 Z" fill="#b32c8e" stroke="#b32c8e"/>
<path d="M377.36 205.74 L379.09 205.82 L380.2 204.84 L378.47 204.7 Z" fill="#b83289" stroke="#b83289"/>
<path d="M336.42 201.5 L338.16 202.71 L339.27 202.92 L337.53 201.57 Z" fill="#de6164" stroke="#de6164"/>
<path d="M356.33 211.79 L358.07 212.35 L359.18 212.03 L357.44 211.5 Z" fill="#9613a1" stroke="#9613a1"/>
<path d="M307.98 223.67 L309.71 221.16 L310.82 220 L309.09 222.54 Z" fill="#5c01a6" stroke="#5c01a6"/>
<path d="M316.51 210.78 L318.24 208.72 L319.36 206.74 L317.62 208.48 Z" fill="#c33d80" stroke="#c33d80"/>
<path d="M293.76 218.05 L295.49 219.26 L296.6 221.13 L294.87 219.69 Z" fill="#7d03a8" stroke="#7d03a8"/>
<path d="M296.6 221.13 L298.33 222 L299.44 223.96 L297.71 223 Z" fill="#5e01a6" stroke="#5e01a6"/>
<path d="M279.53 211.62 L281.27 212.21 L282.38 211.78 L280.64 211.11 Z" fill="#c13b82" stroke="#c13b82"/>
<path d="M282.38 211.78 L284.11 212.49 L285.22 212.33 L283.49 211.48 Z" fill="#be3885" stroke="#be3885"/>
<path d="M285.22 212.33 L286.96 213.22 L288.07 213.48 L286.33 212.38 Z" fill="#b6308b" stroke="#b6308b"/>
<path d="M288.07 213.48 L289.8 214.57 L290.91 215.39 L289.18 214.02 Z" fill="#ab2494" stroke="#ab2494"/>
<path d="M290.91 215.39 L292.64 216.63 L293.76 218.05 L292.02 216.52 Z" fill="#9814a0" stroke="#9814a0"/>
<path d="M299.44 223.96 L301.18 224.12 L302.29 225.71 L300.56 225.6 Z" fill="#46039f" stroke="#46039f"/>
<path d="M302.29 225.71 L304.02 224.9 L305.13 225.69 L303.4 226.65 Z" fill="#3a049a" stroke="#3a049a"/>
<path d="M305.13 225.69 L306.87 223.9 L307.98 223.67 L306.24 225.6 Z" fill="#43039e" stroke="#43039e"/>
<path d="M310.82 220 L312.56 217.22 L313.67 215.42 L311.93 218.07 Z" fill="#8305a7" stroke="#8305a7"/>
<path d="M313.67 215.42 L315.4 212.83 L316.51 210.78 L314.78 213.11 Z" fill="#a72197" stroke="#a72197"/>
<path d="M319.36 206.74 L321.09 205.34 L322.2 203.64 L320.47 204.72 Z" fill="#d5546e" stroke="#d5546e"/>
<path d="M322.2 203.64 L323.93 202.9 L325.04 201.56 L323.31 202.01 Z" fill="#e26561" stroke="#e26561"/>
<path d="M325.04 201.56 L326.78 201.39 L327.89 200.43 L326.16 200.35 Z" fill="#e76f5a" stroke="#e76f5a"/>
<path d="M327.89 200.43 L329.62 200.73 L330.73 200.13 L329 199.61 Z" fill="#e97257" stroke="#e97257"/>
<path d="M330.73 200.13 L332.47 200.8 L333.58 200.52 L331.84 199.66 Z" fill="#e97158" stroke="#e97158"/>
<path d="M333.58 200.52 L335.31 201.51 L336.42 201.5 L334.69 200.35 Z" fill="#e56a5d" stroke="#e56a5d"/>
<path d="M339.27 202.92 L341 204.28 L342.11 204.63 L340.38 203.16 Z" fill="#d5546e" stroke="#d5546e"/>
<path d="M342.11 204.63 L343.84 206.06 L344.96 206.47 L343.22 204.97 Z" fill="#cb4679" stroke="#cb4679"/>
<path d="M344.96 206.47 L346.69 207.86 L347.8 208.26 L346.07 206.83 Z" fill="#be3885" stroke="#be3885"/>
<path d="M347.8 208.26 L349.53 209.52 L350.64 209.83 L348.91 208.55 Z" fill="#b22b8f" stroke="#b22b8f"/>
<path d="M350.64 209.83 L352.38 210.9 L353.49 211.04 L351.76 209.98 Z" fill="#a62098" stroke="#a62098"/>
<path d="M353.49 211.04 L355.22 211.86 L356.33 211.79 L354.6 210.99 Z" fill="#9d189d" stroke="#9d189d"/>
<path d="M359.18 212.03 L360.91 212.34 L362.02 211.79 L360.29 211.5 Z" fill="#9511a1" stroke="#9511a1"/>
<path d="M362.02 211.79 L363.76 211.88 L364.87 211.13 L363.13 211.04 Z" fill="#9814a0" stroke="#9814a0"/>
<path d="M364.87 211.13 L366.6 211.07 L367.71 210.16 L365.98 210.2 Z" fill="#9c179e" stroke="#9c179e"/>
<path d="M367.71 210.16 L369.44 210.04 L370.56 209.04 L368.82 209.12 Z" fill="#a21d9a" stroke="#a21d9a"/>
<path d="M370.56 209.04 L372.29 208.91 L373.4 207.87 L371.67 207.94 Z" fill="#aa2395" stroke="#aa2395"/>
<path d="M373.4 207.87 L375.13 207.8 L376.24 206.78 L374.51 206.79 Z" fill="#b12a90" stroke="#b12a90"/>
<path d="M376.24 206.78 L377.98 206.79 L379.09 205.82 L377.36 205.74 Z" fill="#b6308b" stroke="#b6308b"/>
<path d="M335.31 201.51 L337.04 202.58 L338.16 202.71 L336.42 201.5 Z" fill="#e26561" stroke="#e26561"/>
<path d="M338.16 202.71 L339.89 203.96 L341 204.28 L339.27 202.92 Z" fill="#da5b69" stroke="#da5b69"/>
<path d="M355.22 211.86 L356.96 212.46 L358.07 212.35 L356.33 211.79 Z" fill="#9a169f" stroke="#9a169f"/>
<path d="M358.07 212.35 L359.8 212.69 L360.91 212.34 L359.18 212.03 Z" fill="#9814a0" stroke="#9814a0"/>
<path d="M295.49 219.26 L297.22 220.04 L298.33 222 L296.6 221.13 Z" fill="#7701a8" stroke="#7701a8"/>
<path d="M306.87 223.9 L308.6 221.57 L309.71 221.16 L307.98 223.67 Z" fill="#5c01a6" stroke="#5c01a6"/>
<path d="M309.71 221.16 L311.44 218.42 L312.56 217.22 L310.82 220 Z" fill="#7b02a8" stroke="#7b02a8"/>
<path d="M315.4 212.83 L317.13 210.53 L318.24 208.72 L316.51 210.78 Z" fill="#bb3488" stroke="#bb3488"/>
<path d="M318.24 208.72 L319.98 207.04 L321.09 205.34 L319.36 206.74 Z" fill="#cf4c74" stroke="#cf4c74"/>
<path d="M281.27 212.21 L283 212.83 L284.11 212.49 L282.38 211.78 Z" fill="#c03a83" stroke="#c03a83"/>
<path d="M284.11 212.49 L285.84 213.22 L286.96 213.22 L285.22 212.33 Z" fill="#bc3587" stroke="#bc3587"/>
<path d="M286.96 213.22 L288.69 214.09 L289.8 214.57 L288.07 213.48 Z" fill="#b32c8e" stroke="#b32c8e"/>
<path d="M292.64 216.63 L294.38 217.64 L295.49 219.26 L293.76 218.05 Z" fill="#910ea3" stroke="#910ea3"/>
<path d="M298.33 222 L300.07 222.22 L301.18 224.12 L299.44 223.96 Z" fill="#5e01a6" stroke="#5e01a6"/>
<path d="M289.8 214.57 L291.53 215.57 L292.64 216.63 L290.91 215.39 Z" fill="#a62098" stroke="#a62098"/>
<path d="M301.18 224.12 L302.91 223.51 L304.02 224.9 L302.29 225.71 Z" fill="#4e02a2" stroke="#4e02a2"/>
<path d="M304.02 224.9 L305.76 223.36 L306.87 223.9 L305.13 225.69 Z" fill="#4c02a1" stroke="#4c02a1"/>
<path d="M312.56 217.22 L314.29 214.51 L315.4 212.83 L313.67 215.42 Z" fill="#9d189d" stroke="#9d189d"/>
<path d="M321.09 205.34 L322.82 204.32 L323.93 202.9 L322.2 203.64 Z" fill="#de5f65" stroke="#de5f65"/>
<path d="M323.93 202.9 L325.67 202.47 L326.78 201.39 L325.04 201.56 Z" fill="#e66c5c" stroke="#e66c5c"/>
<path d="M326.78 201.39 L328.51 201.46 L329.62 200.73 L327.89 200.43 Z" fill="#e97257" stroke="#e97257"/>
<path d="M329.62 200.73 L331.36 201.21 L332.47 200.8 L330.73 200.13 Z" fill="#e97257" stroke="#e97257"/>
<path d="M332.47 200.8 L334.2 201.62 L335.31 201.51 L333.58 200.52 Z" fill="#e76f5a" stroke="#e76f5a"/>
<path d="M341 204.28 L342.73 205.62 L343.84 206.06 L342.11 204.63 Z" fill="#d04d73" stroke="#d04d73"/>
<path d="M343.84 206.06 L345.58 207.39 L346.69 207.86 L344.96 206.47 Z" fill="#c5407e" stroke="#c5407e"/>
<path d="M346.69 207.86 L348.42 209.11 L349.53 209.52 L347.8 208.26 Z" fill="#b83289" stroke="#b83289"/>
<path d="M349.53 209.52 L351.27 210.61 L352.38 210.9 L350.64 209.83 Z" fill="#ad2793" stroke="#ad2793"/>
<path d="M352.38 210.9 L354.11 211.75 L355.22 211.86 L353.49 211.04 Z" fill="#a21d9a" stroke="#a21d9a"/>
<path d="M360.91 212.34 L362.64 212.45 L363.76 211.88 L362.02 211.79 Z" fill="#9814a0" stroke="#9814a0"/>
<path d="M363.76 211.88 L365.49 211.83 L366.6 211.07 L364.87 211.13 Z" fill="#9a169f" stroke="#9a169f"/>
<path d="M366.6 211.07 L368.33 210.93 L369.44 210.04 L367.71 210.16 Z" fill="#a11b9b" stroke="#a11b9b"/>
<path d="M369.44 210.04 L371.18 209.87 L372.29 208.91 L370.56 209.04 Z" fill="#a72197" stroke="#a72197"/>
<path d="M372.29 208.91 L374.02 208.78 L375.13 207.8 L373.4 207.87 Z" fill="#ae2892" stroke="#ae2892"/>
<path d="M375.13 207.8 L376.87 207.75 L377.98 206.79 L376.24 206.78 Z" fill="#b42e8d" stroke="#b42e8d"/>
<path d="M334.2 201.62 L335.93 202.53 L337.04 202.58 L335.31 201.51 Z" fill="#e56b5d" stroke="#e56b5d"/>
<path d="M337.04 202.58 L338.78 203.7 L339.89 203.96 L338.16 202.71 Z" fill="#de6164" stroke="#de6164"/>
<path d="M339.89 203.96 L341.62 205.21 L342.73 205.62 L341 204.28 Z" fill="#d6556d" stroke="#d6556d"/>
<path d="M354.11 211.75 L355.84 212.39 L356.96 212.46 L355.22 211.86 Z" fill="#a11b9b" stroke="#a11b9b"/>
<path d="M356.96 212.46 L358.69 212.84 L359.8 212.69 L358.07 212.35 Z" fill="#9a169f" stroke="#9a169f"/>
<path d="M359.8 212.69 L361.53 212.84 L362.64 212.45 L360.91 212.34 Z" fill="#99159f" stroke="#99159f"/>
<path d="M294.38 217.64 L296.11 218.34 L297.22 220.04 L295.49 219.26 Z" fill="#8d0ba5" stroke="#8d0ba5"/>
<path d="M297.22 220.04 L298.96 220.32 L300.07 222.22 L298.33 222 Z" fill="#7701a8" stroke="#7701a8"/>
<path d="M305.76 223.36 L307.49 221.31 L308.6 221.57 L306.87 223.9 Z" fill="#6400a7" stroke="#6400a7"/>
<path d="M308.6 221.57 L310.33 219 L311.44 218.42 L309.71 221.16 Z" fill="#7a02a8" stroke="#7a02a8"/>
<path d="M311.44 218.42 L313.18 215.73 L314.29 214.51 L312.56 217.22 Z" fill="#9613a1" stroke="#9613a1"/>
<path d="M314.29 214.51 L316.02 212.09 L317.13 210.53 L315.4 212.83 Z" fill="#b32c8e" stroke="#b32c8e"/>
<path d="M317.13 210.53 L318.87 208.64 L319.98 207.04 L318.24 208.72 Z" fill="#ca457a" stroke="#ca457a"/>
<path d="M319.98 207.04 L321.71 205.77 L322.82 204.32 L321.09 205.34 Z" fill="#d9586a" stroke="#d9586a"/>
<path d="M283 212.83 L284.73 213.45 L285.84 213.22 L284.11 212.49 Z" fill="#bf3984" stroke="#bf3984"/>
<path d="M285.84 213.22 L287.58 213.95 L288.69 214.09 L286.96 213.22 Z" fill="#ba3388" stroke="#ba3388"/>
<path d="M291.53 215.57 L293.27 216.41 L294.38 217.64 L292.64 216.63 Z" fill="#a11b9b" stroke="#a11b9b"/>
<path d="M288.69 214.09 L290.42 214.91 L291.53 215.57 L289.8 214.57 Z" fill="#b12a90" stroke="#b12a90"/>
<path d="M300.07 222.22 L301.8 221.82 L302.91 223.51 L301.18 224.12 Z" fill="#6400a7" stroke="#6400a7"/>
<path d="M302.91 223.51 L304.64 222.26 L305.76 223.36 L304.02 224.9 Z" fill="#5c01a6" stroke="#5c01a6"/>
<path d="M322.82 204.32 L324.56 203.65 L325.67 202.47 L323.93 202.9 Z" fill="#e3685f" stroke="#e3685f"/>
<path d="M325.67 202.47 L327.4 202.32 L328.51 201.46 L326.78 201.39 Z" fill="#e87059" stroke="#e87059"/>
<path d="M328.51 201.46 L330.24 201.74 L331.36 201.21 L329.62 200.73 Z" fill="#ea7457" stroke="#ea7457"/>
<path d="M331.36 201.21 L333.09 201.84 L334.2 201.62 L332.47 200.8 Z" fill="#e97158" stroke="#e97158"/>
<path d="M342.73 205.62 L344.47 206.9 L345.58 207.39 L343.84 206.06 Z" fill="#cc4778" stroke="#cc4778"/>
<path d="M345.58 207.39 L347.31 208.62 L348.42 209.11 L346.69 207.86 Z" fill="#c03a83" stroke="#c03a83"/>
<path d="M348.42 209.11 L350.16 210.19 L351.27 210.61 L349.53 209.52 Z" fill="#b42e8d" stroke="#b42e8d"/>
<path d="M351.27 210.61 L353 211.49 L354.11 211.75 L352.38 210.9 Z" fill="#aa2395" stroke="#aa2395"/>
<path d="M362.64 212.45 L364.38 212.42 L365.49 211.83 L363.76 211.88 Z" fill="#9c179e" stroke="#9c179e"/>
<path d="M365.49 211.83 L367.22 211.68 L368.33 210.93 L366.6 211.07 Z" fill="#a01a9c" stroke="#a01a9c"/>
<path d="M368.33 210.93 L370.07 210.73 L371.18 209.87 L369.44 210.04 Z" fill="#a62098" stroke="#a62098"/>
<path d="M371.18 209.87 L372.91 209.7 L374.02 208.78 L372.29 208.91 Z" fill="#ac2694" stroke="#ac2694"/>
<path d="M374.02 208.78 L375.76 208.68 L376.87 207.75 L375.13 207.8 Z" fill="#b22b8f" stroke="#b22b8f"/>
<path d="M313.18 215.73 L314.91 213.32 L316.02 212.09 L314.29 214.51 Z" fill="#ae2892" stroke="#ae2892"/>
<path d="M333.09 201.84 L334.82 202.6 L335.93 202.53 L334.2 201.62 Z" fill="#e76f5a" stroke="#e76f5a"/>
<path d="M335.93 202.53 L337.67 203.52 L338.78 203.7 L337.04 202.58 Z" fill="#e26660" stroke="#e26660"/>
<path d="M338.78 203.7 L340.51 204.85 L341.62 205.21 L339.89 203.96 Z" fill="#db5c68" stroke="#db5c68"/>
<path d="M341.62 205.21 L343.36 206.42 L344.47 206.9 L342.73 205.62 Z" fill="#d24f71" stroke="#d24f71"/>
<path d="M353 211.49 L354.73 212.17 L355.84 212.39 L354.11 211.75 Z" fill="#a72197" stroke="#a72197"/>
<path d="M355.84 212.39 L357.58 212.83 L358.69 212.84 L356.96 212.46 Z" fill="#a01a9c" stroke="#a01a9c"/>
<path d="M358.69 212.84 L360.42 213.04 L361.53 212.84 L359.8 212.69 Z" fill="#9d189d" stroke="#9d189d"/>
<path d="M361.53 212.84 L363.27 212.84 L364.38 212.42 L362.64 212.45 Z" fill="#9d189d" stroke="#9d189d"/>
<path d="M293.27 216.41 L295 217.04 L296.11 218.34 L294.38 217.64 Z" fill="#9e199d" stroke="#9e199d"/>
<path d="M284.73 213.45 L286.47 214.07 L287.58 213.95 L285.84 213.22 Z" fill="#be3885" stroke="#be3885"/>
<path d="M290.42 214.91 L292.16 215.63 L293.27 216.41 L291.53 215.57 Z" fill="#ad2793" stroke="#ad2793"/>
<path d="M296.11 218.34 L297.84 218.67 L298.96 220.32 L297.22 220.04 Z" fill="#8d0ba5" stroke="#8d0ba5"/>
<path d="M298.96 220.32 L300.69 220.11 L301.8 221.82 L300.07 222.22 Z" fill="#7b02a8" stroke="#7b02a8"/>
<path d="M304.64 222.26 L306.38 220.58 L307.49 221.31 L305.76 223.36 Z" fill="#7100a8" stroke="#7100a8"/>
<path d="M307.49 221.31 L309.22 219.05 L310.33 219 L308.6 221.57 Z" fill="#7e03a8" stroke="#7e03a8"/>
<path d="M310.33 219 L312.07 216.48 L313.18 215.73 L311.44 218.42 Z" fill="#9511a1" stroke="#9511a1"/>
<path d="M316.02 212.09 L317.76 210.09 L318.87 208.64 L317.13 210.53 Z" fill="#c43e7f" stroke="#c43e7f"/>
<path d="M318.87 208.64 L320.6 207.19 L321.71 205.77 L319.98 207.04 Z" fill="#d5536f" stroke="#d5536f"/>
<path d="M321.71 205.77 L323.44 204.89 L324.56 203.65 L322.82 204.32 Z" fill="#e06363" stroke="#e06363"/>
<path d="M287.58 213.95 L289.31 214.64 L290.42 214.91 L288.69 214.09 Z" fill="#b7318a" stroke="#b7318a"/>
<path d="M301.8 221.82 L303.53 220.89 L304.64 222.26 L302.91 223.51 Z" fill="#7100a8" stroke="#7100a8"/>
<path d="M324.56 203.65 L326.29 203.3 L327.4 202.32 L325.67 202.47 Z" fill="#e76e5b" stroke="#e76e5b"/>
<path d="M327.4 202.32 L329.13 202.41 L330.24 201.74 L328.51 201.46 Z" fill="#ea7457" stroke="#ea7457"/>
<path d="M330.24 201.74 L331.98 202.2 L333.09 201.84 L331.36 201.21 Z" fill="#ea7457" stroke="#ea7457"/>
<path d="M344.47 206.9 L346.2 208.1 L347.31 208.62 L345.58 207.39 Z" fill="#c7427c" stroke="#c7427c"/>
<path d="M347.31 208.62 L349.04 209.71 L350.16 210.19 L348.42 209.11 Z" fill="#bc3587" stroke="#bc3587"/>
<path d="M350.16 210.19 L351.89 211.11 L353 211.49 L351.27 210.61 Z" fill="#b12a90" stroke="#b12a90"/>
<path d="M364.38 212.42 L366.11 212.28 L367.22 211.68 L365.49 211.83 Z" fill="#a01a9c" stroke="#a01a9c"/>
<path d="M367.22 211.68 L368.96 211.48 L370.07 210.73 L368.33 210.93 Z" fill="#a51f99" stroke="#a51f99"/>
<path d="M370.07 210.73 L371.8 210.53 L372.91 209.7 L371.18 209.87 Z" fill="#ab2494" stroke="#ab2494"/>
<path d="M372.91 209.7 L374.64 209.55 L375.76 208.68 L374.02 208.78 Z" fill="#b12a90" stroke="#b12a90"/>
<path d="M312.07 216.48 L313.8 214.22 L314.91 213.32 L313.18 215.73 Z" fill="#ac2694" stroke="#ac2694"/>
<path d="M314.91 213.32 L316.64 211.32 L317.76 210.09 L316.02 212.09 Z" fill="#c03a83" stroke="#c03a83"/>
<path d="M331.98 202.2 L333.71 202.79 L334.82 202.6 L333.09 201.84 Z" fill="#e97257" stroke="#e97257"/>
<path d="M334.82 202.6 L336.56 203.45 L337.67 203.52 L335.93 202.53 Z" fill="#e66c5c" stroke="#e66c5c"/>
<path d="M337.67 203.52 L339.4 204.55 L340.51 204.85 L338.78 203.7 Z" fill="#e06363" stroke="#e06363"/>
<path d="M340.51 204.85 L342.24 205.98 L343.36 206.42 L341.62 205.21 Z" fill="#d8576b" stroke="#d8576b"/>
<path d="M343.36 206.42 L345.09 207.58 L346.2 208.1 L344.47 206.9 Z" fill="#cd4a76" stroke="#cd4a76"/>
<path d="M351.89 211.11 L353.62 211.84 L354.73 212.17 L353 211.49 Z" fill="#ae2892" stroke="#ae2892"/>
<path d="M354.73 212.17 L356.47 212.67 L357.58 212.83 L355.84 212.39 Z" fill="#a62098" stroke="#a62098"/>
<path d="M357.58 212.83 L359.31 213.09 L360.42 213.04 L358.69 212.84 Z" fill="#a11b9b" stroke="#a11b9b"/>
<path d="M360.42 213.04 L362.16 213.1 L363.27 212.84 L361.53 212.84 Z" fill="#a01a9c" stroke="#a01a9c"/>
<path d="M363.27 212.84 L365 212.74 L366.11 212.28 L364.38 212.42 Z" fill="#a11b9b" stroke="#a11b9b"/>
<path d="M292.16 215.63 L293.89 216.2 L295 217.04 L293.27 216.41 Z" fill="#ac2694" stroke="#ac2694"/>
<path d="M303.53 220.89 L305.27 219.61 L306.38 220.58 L304.64 222.26 Z" fill="#8004a8" stroke="#8004a8"/>
<path d="M286.47 214.07 L288.2 214.68 L289.31 214.64 L287.58 213.95 Z" fill="#bd3786" stroke="#bd3786"/>
<path d="M289.31 214.64 L291.04 215.26 L292.16 215.63 L290.42 214.91 Z" fill="#b6308b" stroke="#b6308b"/>
<path d="M295 217.04 L296.73 217.41 L297.84 218.67 L296.11 218.34 Z" fill="#9e199d" stroke="#9e199d"/>
<path d="M297.84 218.67 L299.58 218.64 L300.69 220.11 L298.96 220.32 Z" fill="#8f0da4" stroke="#8f0da4"/>
<path d="M300.69 220.11 L302.42 219.51 L303.53 220.89 L301.8 221.82 Z" fill="#8405a7" stroke="#8405a7"/>
<path d="M306.38 220.58 L308.11 218.71 L309.22 219.05 L307.49 221.31 Z" fill="#8707a6" stroke="#8707a6"/>
<path d="M309.22 219.05 L310.96 216.82 L312.07 216.48 L310.33 219 Z" fill="#9613a1" stroke="#9613a1"/>
<path d="M317.76 210.09 L319.49 208.53 L320.6 207.19 L318.87 208.64 Z" fill="#d14e72" stroke="#d14e72"/>
<path d="M320.6 207.19 L322.33 206.15 L323.44 204.89 L321.71 205.77 Z" fill="#dd5e66" stroke="#dd5e66"/>
<path d="M323.44 204.89 L325.18 204.35 L326.29 203.3 L324.56 203.65 Z" fill="#e56b5d" stroke="#e56b5d"/>
<path d="M326.29 203.3 L328.02 203.19 L329.13 202.41 L327.4 202.32 Z" fill="#e97257" stroke="#e97257"/>
<path d="M329.13 202.41 L330.87 202.68 L331.98 202.2 L330.24 201.74 Z" fill="#eb7556" stroke="#eb7556"/>
<path d="M346.2 208.1 L347.93 209.18 L349.04 209.71 L347.31 208.62 Z" fill="#c33d80" stroke="#c33d80"/>
<path d="M349.04 209.71 L350.78 210.65 L351.89 211.11 L350.16 210.19 Z" fill="#b83289" stroke="#b83289"/>
<path d="M366.11 212.28 L367.84 212.1 L368.96 211.48 L367.22 211.68 Z" fill="#a51f99" stroke="#a51f99"/>
<path d="M368.96 211.48 L370.69 211.27 L371.8 210.53 L370.07 210.73 Z" fill="#aa2395" stroke="#aa2395"/>
<path d="M371.8 210.53 L373.53 210.36 L374.64 209.55 L372.91 209.7 Z" fill="#b02991" stroke="#b02991"/>
<path d="M291.04 215.26 L292.78 215.79 L293.89 216.2 L292.16 215.63 Z" fill="#b52f8c" stroke="#b52f8c"/>
<path d="M302.42 219.51 L304.16 218.62 L305.27 219.61 L303.53 220.89 Z" fill="#910ea3" stroke="#910ea3"/>
<path d="M310.96 216.82 L312.69 214.82 L313.8 214.22 L312.07 216.48 Z" fill="#ac2694" stroke="#ac2694"/>
<path d="M313.8 214.22 L315.53 212.33 L316.64 211.32 L314.91 213.32 Z" fill="#be3885" stroke="#be3885"/>
<path d="M316.64 211.32 L318.38 209.75 L319.49 208.53 L317.76 210.09 Z" fill="#cd4a76" stroke="#cd4a76"/>
<path d="M330.87 202.68 L332.6 203.11 L333.71 202.79 L331.98 202.2 Z" fill="#eb7556" stroke="#eb7556"/>
<path d="M333.71 202.79 L335.44 203.49 L336.56 203.45 L334.82 202.6 Z" fill="#e97158" stroke="#e97158"/>
<path d="M336.56 203.45 L338.29 204.36 L339.4 204.55 L337.67 203.52 Z" fill="#e4695e" stroke="#e4695e"/>
<path d="M339.4 204.55 L341.13 205.6 L342.24 205.98 L340.51 204.85 Z" fill="#dd5e66" stroke="#dd5e66"/>
<path d="M342.24 205.98 L343.98 207.09 L345.09 207.58 L343.36 206.42 Z" fill="#d5536f" stroke="#d5536f"/>
<path d="M345.09 207.58 L346.82 208.65 L347.93 209.18 L346.2 208.1 Z" fill="#ca457a" stroke="#ca457a"/>
<path d="M350.78 210.65 L352.51 211.43 L353.62 211.84 L351.89 211.11 Z" fill="#b52f8c" stroke="#b52f8c"/>
<path d="M353.62 211.84 L355.36 212.41 L356.47 212.67 L354.73 212.17 Z" fill="#ad2793" stroke="#ad2793"/>
<path d="M356.47 212.67 L358.2 213.01 L359.31 213.09 L357.58 212.83 Z" fill="#a72197" stroke="#a72197"/>
<path d="M359.31 213.09 L361.04 213.22 L362.16 213.1 L360.42 213.04 Z" fill="#a31e9a" stroke="#a31e9a"/>
<path d="M362.16 213.1 L363.89 213.06 L365 212.74 L363.27 212.84 Z" fill="#a31e9a" stroke="#a31e9a"/>
<path d="M365 212.74 L366.73 212.59 L367.84 212.1 L366.11 212.28 Z" fill="#a62098" stroke="#a62098"/>
<path d="M288.2 214.68 L289.93 215.24 L291.04 215.26 L289.31 214.64 Z" fill="#bc3587" stroke="#bc3587"/>
<path d="M293.89 216.2 L295.62 216.6 L296.73 217.41 L295 217.04 Z" fill="#ac2694" stroke="#ac2694"/>
<path d="M305.27 219.61 L307 218.17 L308.11 218.71 L306.38 220.58 Z" fill="#920fa3" stroke="#920fa3"/>
<path d="M296.73 217.41 L298.47 217.53 L299.58 218.64 L297.84 218.67 Z" fill="#a11b9b" stroke="#a11b9b"/>
<path d="M299.58 218.64 L301.31 218.31 L302.42 219.51 L300.69 220.11 Z" fill="#9613a1" stroke="#9613a1"/>
<path d="M308.11 218.71 L309.84 216.86 L310.96 216.82 L309.22 219.05 Z" fill="#9c179e" stroke="#9c179e"/>
<path d="M319.49 208.53 L321.22 207.39 L322.33 206.15 L320.6 207.19 Z" fill="#da5a6a" stroke="#da5a6a"/>
<path d="M322.33 206.15 L324.07 205.46 L325.18 204.35 L323.44 204.89 Z" fill="#e3685f" stroke="#e3685f"/>
<path d="M325.18 204.35 L326.91 204.08 L328.02 203.19 L326.29 203.3 Z" fill="#e97158" stroke="#e97158"/>
<path d="M328.02 203.19 L329.76 203.29 L330.87 202.68 L329.13 202.41 Z" fill="#eb7655" stroke="#eb7655"/>
<path d="M347.93 209.18 L349.67 210.14 L350.78 210.65 L349.04 209.71 Z" fill="#c03a83" stroke="#c03a83"/>
<path d="M367.84 212.1 L369.58 211.9 L370.69 211.27 L368.96 211.48 Z" fill="#aa2395" stroke="#aa2395"/>
<path d="M370.69 211.27 L372.42 211.09 L373.53 210.36 L371.8 210.53 Z" fill="#ae2892" stroke="#ae2892"/>
<path d="M289.93 215.24 L291.67 215.75 L292.78 215.79 L291.04 215.26 Z" fill="#bb3488" stroke="#bb3488"/>
<path d="M292.78 215.79 L294.51 216.22 L295.62 216.6 L293.89 216.2 Z" fill="#b52f8c" stroke="#b52f8c"/>
<path d="M301.31 218.31 L303.04 217.78 L304.16 218.62 L302.42 219.51 Z" fill="#a01a9c" stroke="#a01a9c"/>
<path d="M304.16 218.62 L305.89 217.6 L307 218.17 L305.27 219.61 Z" fill="#9e199d" stroke="#9e199d"/>
<path d="M309.84 216.86 L311.58 215.19 L312.69 214.82 L310.96 216.82 Z" fill="#ae2892" stroke="#ae2892"/>
<path d="M312.69 214.82 L314.42 213.14 L315.53 212.33 L313.8 214.22 Z" fill="#bd3786" stroke="#bd3786"/>
<path d="M315.53 212.33 L317.27 210.84 L318.38 209.75 L316.64 211.32 Z" fill="#cb4679" stroke="#cb4679"/>
<path d="M318.38 209.75 L320.11 208.58 L321.22 207.39 L319.49 208.53 Z" fill="#d7566c" stroke="#d7566c"/>
<path d="M329.76 203.29 L331.49 203.55 L332.6 203.11 L330.87 202.68 Z" fill="#ec7754" stroke="#ec7754"/>
<path d="M332.6 203.11 L334.33 203.64 L335.44 203.49 L333.71 202.79 Z" fill="#eb7556" stroke="#eb7556"/>
<path d="M335.44 203.49 L337.18 204.26 L338.29 204.36 L336.56 203.45 Z" fill="#e76f5a" stroke="#e76f5a"/>
<path d="M338.29 204.36 L340.02 205.3 L341.13 205.6 L339.4 204.55 Z" fill="#e26561" stroke="#e26561"/>
<path d="M341.13 205.6 L342.87 206.64 L343.98 207.09 L342.24 205.98 Z" fill="#da5a6a" stroke="#da5a6a"/>
<path d="M343.98 207.09 L345.71 208.13 L346.82 208.65 L345.09 207.58 Z" fill="#d14e72" stroke="#d14e72"/>
<path d="M346.82 208.65 L348.56 209.62 L349.67 210.14 L347.93 209.18 Z" fill="#c7427c" stroke="#c7427c"/>
<path d="M349.67 210.14 L351.4 210.97 L352.51 211.43 L350.78 210.65 Z" fill="#bd3786" stroke="#bd3786"/>
<path d="M352.51 211.43 L354.24 212.06 L355.36 212.41 L353.62 211.84 Z" fill="#b42e8d" stroke="#b42e8d"/>
<path d="M355.36 212.41 L357.09 212.83 L358.2 213.01 L356.47 212.67 Z" fill="#ad2793" stroke="#ad2793"/>
<path d="M358.2 213.01 L359.93 213.22 L361.04 213.22 L359.31 213.09 Z" fill="#a82296" stroke="#a82296"/>
<path d="M361.04 213.22 L362.78 213.25 L363.89 213.06 L362.16 213.1 Z" fill="#a72197" stroke="#a72197"/>
<path d="M363.89 213.06 L365.62 212.96 L366.73 212.59 L365 212.74 Z" fill="#a82296" stroke="#a82296"/>
<path d="M366.73 212.59 L368.47 212.43 L369.58 211.9 L367.84 212.1 Z" fill="#ab2494" stroke="#ab2494"/>
<path d="M295.62 216.6 L297.36 216.84 L298.47 217.53 L296.73 217.41 Z" fill="#ad2793" stroke="#ad2793"/>
<path d="M307 218.17 L308.73 216.74 L309.84 216.86 L308.11 218.71 Z" fill="#a31e9a" stroke="#a31e9a"/>
<path d="M298.47 217.53 L300.2 217.44 L301.31 218.31 L299.58 218.64 Z" fill="#a51f99" stroke="#a51f99"/>
<path d="M321.22 207.39 L322.96 206.6 L324.07 205.46 L322.33 206.15 Z" fill="#e16462" stroke="#e16462"/>
<path d="M324.07 205.46 L325.8 205.05 L326.91 204.08 L325.18 204.35 Z" fill="#e76f5a" stroke="#e76f5a"/>
<path d="M326.91 204.08 L328.64 204.02 L329.76 203.29 L328.02 203.19 Z" fill="#eb7556" stroke="#eb7556"/>
<path d="M369.58 211.9 L371.31 211.73 L372.42 211.09 L370.69 211.27 Z" fill="#ae2892" stroke="#ae2892"/>
<path d="M348.56 209.62 L350.29 210.49 L351.4 210.97 L349.67 210.14 Z" fill="#c5407e" stroke="#c5407e"/>
<path d="M328.64 204.02 L330.38 204.11 L331.49 203.55 L329.76 203.29 Z" fill="#ed7953" stroke="#ed7953"/>
<path d="M308.73 216.74 L310.47 215.44 L311.58 215.19 L309.84 216.86 Z" fill="#b22b8f" stroke="#b22b8f"/>
<path d="M291.67 215.75 L293.4 216.19 L294.51 216.22 L292.78 215.79 Z" fill="#bb3488" stroke="#bb3488"/>
<path d="M294.51 216.22 L296.24 216.54 L297.36 216.84 L295.62 216.6 Z" fill="#b6308b" stroke="#b6308b"/>
<path d="M300.2 217.44 L301.93 217.2 L303.04 217.78 L301.31 218.31 Z" fill="#ab2494" stroke="#ab2494"/>
<path d="M303.04 217.78 L304.78 217.15 L305.89 217.6 L304.16 218.62 Z" fill="#a82296" stroke="#a82296"/>
<path d="M305.89 217.6 L307.62 216.58 L308.73 216.74 L307 218.17 Z" fill="#ab2494" stroke="#ab2494"/>
<path d="M311.58 215.19 L313.31 213.78 L314.42 213.14 L312.69 214.82 Z" fill="#bd3786" stroke="#bd3786"/>
<path d="M314.42 213.14 L316.16 211.8 L317.27 210.84 L315.53 212.33 Z" fill="#c9447a" stroke="#c9447a"/>
<path d="M317.27 210.84 L319 209.71 L320.11 208.58 L318.38 209.75 Z" fill="#d5536f" stroke="#d5536f"/>
<path d="M320.11 208.58 L321.84 207.74 L322.96 206.6 L321.22 207.39 Z" fill="#de6164" stroke="#de6164"/>
<path d="M331.49 203.55 L333.22 203.93 L334.33 203.64 L332.6 203.11 Z" fill="#ec7754" stroke="#ec7754"/>
<path d="M334.33 203.64 L336.07 204.27 L337.18 204.26 L335.44 203.49 Z" fill="#ea7457" stroke="#ea7457"/>
<path d="M337.18 204.26 L338.91 205.09 L340.02 205.3 L338.29 204.36 Z" fill="#e66c5c" stroke="#e66c5c"/>
<path d="M340.02 205.3 L341.76 206.26 L342.87 206.64 L341.13 205.6 Z" fill="#df6263" stroke="#df6263"/>
<path d="M342.87 206.64 L344.6 207.65 L345.71 208.13 L343.98 207.09 Z" fill="#d7566c" stroke="#d7566c"/>
<path d="M345.71 208.13 L347.44 209.11 L348.56 209.62 L346.82 208.65 Z" fill="#ce4b75" stroke="#ce4b75"/>
<path d="M351.4 210.97 L353.13 211.67 L354.24 212.06 L352.51 211.43 Z" fill="#bc3587" stroke="#bc3587"/>
<path d="M354.24 212.06 L355.98 212.57 L357.09 212.83 L355.36 212.41 Z" fill="#b42e8d" stroke="#b42e8d"/>
<path d="M357.09 212.83 L358.82 213.13 L359.93 213.22 L358.2 213.01 Z" fill="#ae2892" stroke="#ae2892"/>
<path d="M359.93 213.22 L361.67 213.34 L362.78 213.25 L361.04 213.22 Z" fill="#ac2694" stroke="#ac2694"/>
<path d="M362.78 213.25 L364.51 213.23 L365.62 212.96 L363.89 213.06 Z" fill="#ab2494" stroke="#ab2494"/>
<path d="M365.62 212.96 L367.36 212.85 L368.47 212.43 L366.73 212.59 Z" fill="#ac2694" stroke="#ac2694"/>
<path d="M368.47 212.43 L370.2 212.29 L371.31 211.73 L369.58 211.9 Z" fill="#b02991" stroke="#b02991"/>
<path d="M297.36 216.84 L299.09 216.93 L300.2 217.44 L298.47 217.53 Z" fill="#b12a90" stroke="#b12a90"/>
<path d="M322.96 206.6 L324.69 206.08 L325.8 205.05 L324.07 205.46 Z" fill="#e66c5c" stroke="#e66c5c"/>
<path d="M325.8 205.05 L327.53 204.84 L328.64 204.02 L326.91 204.08 Z" fill="#ea7457" stroke="#ea7457"/>
<path d="M347.44 209.11 L349.18 210 L350.29 210.49 L348.56 209.62 Z" fill="#cc4778" stroke="#cc4778"/>
<path d="M350.29 210.49 L352.02 211.25 L353.13 211.67 L351.4 210.97 Z" fill="#c33d80" stroke="#c33d80"/>
<path d="M307.62 216.58 L309.36 215.65 L310.47 215.44 L308.73 216.74 Z" fill="#b6308b" stroke="#b6308b"/>
<path d="M327.53 204.84 L329.27 204.78 L330.38 204.11 L328.64 204.02 Z" fill="#ec7754" stroke="#ec7754"/>
<path d="M330.38 204.11 L332.11 204.33 L333.22 203.93 L331.49 203.55 Z" fill="#ed7a52" stroke="#ed7a52"/>
<path d="M299.09 216.93 L300.82 216.92 L301.93 217.2 L300.2 217.44 Z" fill="#b42e8d" stroke="#b42e8d"/>
<path d="M310.47 215.44 L312.2 214.34 L313.31 213.78 L311.58 215.19 Z" fill="#bf3984" stroke="#bf3984"/>
<path d="M293.4 216.19 L295.13 216.57 L296.24 216.54 L294.51 216.22 Z" fill="#bc3587" stroke="#bc3587"/>
<path d="M296.24 216.54 L297.98 216.77 L299.09 216.93 L297.36 216.84 Z" fill="#b7318a" stroke="#b7318a"/>
<path d="M301.93 217.2 L303.67 216.89 L304.78 217.15 L303.04 217.78 Z" fill="#b22b8f" stroke="#b22b8f"/>
<path d="M304.78 217.15 L306.51 216.5 L307.62 216.58 L305.89 217.6 Z" fill="#b22b8f" stroke="#b22b8f"/>
<path d="M313.31 213.78 L315.04 212.65 L316.16 211.8 L314.42 213.14 Z" fill="#c9447a" stroke="#c9447a"/>
<path d="M316.16 211.8 L317.89 210.77 L319 209.71 L317.27 210.84 Z" fill="#d35171" stroke="#d35171"/>
<path d="M319 209.71 L320.73 208.87 L321.84 207.74 L320.11 208.58 Z" fill="#dc5d67" stroke="#dc5d67"/>
<path d="M321.84 207.74 L323.58 207.15 L324.69 206.08 L322.96 206.6 Z" fill="#e4695e" stroke="#e4695e"/>
<path d="M333.22 203.93 L334.96 204.4 L336.07 204.27 L334.33 203.64 Z" fill="#ec7754" stroke="#ec7754"/>
<path d="M336.07 204.27 L337.8 204.97 L338.91 205.09 L337.18 204.26 Z" fill="#e97158" stroke="#e97158"/>
<path d="M338.91 205.09 L340.64 205.95 L341.76 206.26 L340.02 205.3 Z" fill="#e4695e" stroke="#e4695e"/>
<path d="M341.76 206.26 L343.49 207.21 L344.6 207.65 L342.87 206.64 Z" fill="#dd5e66" stroke="#dd5e66"/>
<path d="M344.6 207.65 L346.33 208.61 L347.44 209.11 L345.71 208.13 Z" fill="#d5536f" stroke="#d5536f"/>
<path d="M353.13 211.67 L354.87 212.26 L355.98 212.57 L354.24 212.06 Z" fill="#bb3488" stroke="#bb3488"/>
<path d="M355.98 212.57 L357.71 212.96 L358.82 213.13 L357.09 212.83 Z" fill="#b42e8d" stroke="#b42e8d"/>
<path d="M358.82 213.13 L360.56 213.34 L361.67 213.34 L359.93 213.22 Z" fill="#b12a90" stroke="#b12a90"/>
<path d="M361.67 213.34 L363.4 213.4 L364.51 213.23 L362.78 213.25 Z" fill="#ae2892" stroke="#ae2892"/>
<path d="M364.51 213.23 L366.24 213.19 L367.36 212.85 L365.62 212.96 Z" fill="#ae2892" stroke="#ae2892"/>
<path d="M367.36 212.85 L369.09 212.77 L370.2 212.29 L368.47 212.43 Z" fill="#b12a90" stroke="#b12a90"/>
<path d="M324.69 206.08 L326.42 205.75 L327.53 204.84 L325.8 205.05 Z" fill="#e97257" stroke="#e97257"/>
<path d="M346.33 208.61 L348.07 209.52 L349.18 210 L347.44 209.11 Z" fill="#d24f71" stroke="#d24f71"/>
<path d="M349.18 210 L350.91 210.81 L352.02 211.25 L350.29 210.49 Z" fill="#ca457a" stroke="#ca457a"/>
<path d="M352.02 211.25 L353.76 211.91 L354.87 212.26 L353.13 211.67 Z" fill="#c23c81" stroke="#c23c81"/>
<path d="M297.98 216.77 L299.71 216.93 L300.82 216.92 L299.09 216.93 Z" fill="#ba3388" stroke="#ba3388"/>
<path d="M306.51 216.5 L308.24 215.9 L309.36 215.65 L307.62 216.58 Z" fill="#bb3488" stroke="#bb3488"/>
<path d="M309.36 215.65 L311.09 214.85 L312.2 214.34 L310.47 215.44 Z" fill="#c03a83" stroke="#c03a83"/>
<path d="M326.42 205.75 L328.16 205.56 L329.27 204.78 L327.53 204.84 Z" fill="#ec7754" stroke="#ec7754"/>
<path d="M329.27 204.78 L331 204.85 L332.11 204.33 L330.38 204.11 Z" fill="#ee7b51" stroke="#ee7b51"/>
<path d="M332.11 204.33 L333.84 204.64 L334.96 204.4 L333.22 203.93 Z" fill="#ee7b51" stroke="#ee7b51"/>
<path d="M295.13 216.57 L296.87 216.89 L297.98 216.77 L296.24 216.54 Z" fill="#bd3786" stroke="#bd3786"/>
<path d="M300.82 216.92 L302.56 216.85 L303.67 216.89 L301.93 217.2 Z" fill="#b83289" stroke="#b83289"/>
<path d="M303.67 216.89 L305.4 216.55 L306.51 216.5 L304.78 217.15 Z" fill="#b83289" stroke="#b83289"/>
<path d="M312.2 214.34 L313.93 213.44 L315.04 212.65 L313.31 213.78 Z" fill="#c8437b" stroke="#c8437b"/>
<path d="M315.04 212.65 L316.78 211.76 L317.89 210.77 L316.16 211.8 Z" fill="#d14e72" stroke="#d14e72"/>
<path d="M317.89 210.77 L319.62 209.98 L320.73 208.87 L319 209.71 Z" fill="#da5b69" stroke="#da5b69"/>
<path d="M320.73 208.87 L322.47 208.25 L323.58 207.15 L321.84 207.74 Z" fill="#e26561" stroke="#e26561"/>
<path d="M323.58 207.15 L325.31 206.73 L326.42 205.75 L324.69 206.08 Z" fill="#e87059" stroke="#e87059"/>
<path d="M334.96 204.4 L336.69 204.95 L337.8 204.97 L336.07 204.27 Z" fill="#ec7754" stroke="#ec7754"/>
<path d="M337.8 204.97 L339.53 205.72 L340.64 205.95 L338.91 205.09 Z" fill="#e87059" stroke="#e87059"/>
<path d="M340.64 205.95 L342.38 206.83 L343.49 207.21 L341.76 206.26 Z" fill="#e26561" stroke="#e26561"/>
<path d="M343.49 207.21 L345.22 208.14 L346.33 208.61 L344.6 207.65 Z" fill="#da5b69" stroke="#da5b69"/>
<path d="M354.87 212.26 L356.6 212.75 L357.71 212.96 L355.98 212.57 Z" fill="#bb3488" stroke="#bb3488"/>
<path d="M357.71 212.96 L359.44 213.28 L360.56 213.34 L358.82 213.13 Z" fill="#b52f8c" stroke="#b52f8c"/>
<path d="M360.56 213.34 L362.29 213.5 L363.4 213.4 L361.67 213.34 Z" fill="#b32c8e" stroke="#b32c8e"/>
<path d="M363.4 213.4 L365.13 213.45 L366.24 213.19 L364.51 213.23 Z" fill="#b22b8f" stroke="#b22b8f"/>
<path d="M366.24 213.19 L367.98 213.17 L369.09 212.77 L367.36 212.85 Z" fill="#b32c8e" stroke="#b32c8e"/>
<path d="M325.31 206.73 L327.04 206.43 L328.16 205.56 L326.42 205.75 Z" fill="#eb7655" stroke="#eb7655"/>
<path d="M345.22 208.14 L346.96 209.04 L348.07 209.52 L346.33 208.61 Z" fill="#d8576b" stroke="#d8576b"/>
<path d="M348.07 209.52 L349.8 210.36 L350.91 210.81 L349.18 210 Z" fill="#d04d73" stroke="#d04d73"/>
<path d="M350.91 210.81 L352.64 211.54 L353.76 211.91 L352.02 211.25 Z" fill="#c8437b" stroke="#c8437b"/>
<path d="M353.76 211.91 L355.49 212.49 L356.6 212.75 L354.87 212.26 Z" fill="#c13b82" stroke="#c13b82"/>
<path d="M296.87 216.89 L298.6 217.16 L299.71 216.93 L297.98 216.77 Z" fill="#be3885" stroke="#be3885"/>
<path d="M299.71 216.93 L301.44 217.04 L302.56 216.85 L300.82 216.92 Z" fill="#bd3786" stroke="#bd3786"/>
<path d="M305.4 216.55 L307.13 216.23 L308.24 215.9 L306.51 216.5 Z" fill="#be3885" stroke="#be3885"/>
<path d="M308.24 215.9 L309.98 215.38 L311.09 214.85 L309.36 215.65 Z" fill="#c23c81" stroke="#c23c81"/>
<path d="M311.09 214.85 L312.82 214.2 L313.93 213.44 L312.2 214.34 Z" fill="#c9447a" stroke="#c9447a"/>
<path d="M328.16 205.56 L329.89 205.48 L331 204.85 L329.27 204.78 Z" fill="#ee7b51" stroke="#ee7b51"/>
<path d="M331 204.85 L332.73 205 L333.84 204.64 L332.11 204.33 Z" fill="#ef7e50" stroke="#ef7e50"/>
<path d="M333.84 204.64 L335.58 205.04 L336.69 204.95 L334.96 204.4 Z" fill="#ee7b51" stroke="#ee7b51"/>
<path d="M302.56 216.85 L304.29 216.76 L305.4 216.55 L303.67 216.89 Z" fill="#bd3786" stroke="#bd3786"/>
<path d="M313.93 213.44 L315.67 212.72 L316.78 211.76 L315.04 212.65 Z" fill="#d04d73" stroke="#d04d73"/>
<path d="M316.78 211.76 L318.51 211.06 L319.62 209.98 L317.89 210.77 Z" fill="#d8576b" stroke="#d8576b"/>
<path d="M319.62 209.98 L321.36 209.36 L322.47 208.25 L320.73 208.87 Z" fill="#e06363" stroke="#e06363"/>
<path d="M322.47 208.25 L324.2 207.76 L325.31 206.73 L323.58 207.15 Z" fill="#e76e5b" stroke="#e76e5b"/>
<path d="M336.69 204.95 L338.42 205.57 L339.53 205.72 L337.8 204.97 Z" fill="#eb7556" stroke="#eb7556"/>
<path d="M339.53 205.72 L341.27 206.5 L342.38 206.83 L340.64 205.95 Z" fill="#e66c5c" stroke="#e66c5c"/>
<path d="M342.38 206.83 L344.11 207.71 L345.22 208.14 L343.49 207.21 Z" fill="#e06363" stroke="#e06363"/>
<path d="M356.6 212.75 L358.33 213.16 L359.44 213.28 L357.71 212.96 Z" fill="#bb3488" stroke="#bb3488"/>
<path d="M359.44 213.28 L361.18 213.54 L362.29 213.5 L360.56 213.34 Z" fill="#b7318a" stroke="#b7318a"/>
<path d="M362.29 213.5 L364.02 213.64 L365.13 213.45 L363.4 213.4 Z" fill="#b52f8c" stroke="#b52f8c"/>
<path d="M365.13 213.45 L366.87 213.5 L367.98 213.17 L366.24 213.19 Z" fill="#b52f8c" stroke="#b52f8c"/>
<path d="M304.29 216.76 L306.02 216.67 L307.13 216.23 L305.4 216.55 Z" fill="#c13b82" stroke="#c13b82"/>
<path d="M324.2 207.76 L325.93 207.37 L327.04 206.43 L325.31 206.73 Z" fill="#ea7457" stroke="#ea7457"/>
<path d="M327.04 206.43 L328.78 206.21 L329.89 205.48 L328.16 205.56 Z" fill="#ee7b51" stroke="#ee7b51"/>
<path d="M344.11 207.71 L345.84 208.57 L346.96 209.04 L345.22 208.14 Z" fill="#de5f65" stroke="#de5f65"/>
<path d="M346.96 209.04 L348.69 209.9 L349.8 210.36 L348.07 209.52 Z" fill="#d6556d" stroke="#d6556d"/>
<path d="M349.8 210.36 L351.53 211.14 L352.64 211.54 L350.91 210.81 Z" fill="#ce4b75" stroke="#ce4b75"/>
<path d="M352.64 211.54 L354.38 212.2 L355.49 212.49 L353.76 211.91 Z" fill="#c7427c" stroke="#c7427c"/>
<path d="M355.49 212.49 L357.22 213 L358.33 213.16 L356.6 212.75 Z" fill="#c13b82" stroke="#c13b82"/>
<path d="M298.6 217.16 L300.33 217.4 L301.44 217.04 L299.71 216.93 Z" fill="#c03a83" stroke="#c03a83"/>
<path d="M301.44 217.04 L303.18 217.13 L304.29 216.76 L302.56 216.85 Z" fill="#c03a83" stroke="#c03a83"/>
<path d="M307.13 216.23 L308.87 215.96 L309.98 215.38 L308.24 215.9 Z" fill="#c43e7f" stroke="#c43e7f"/>
<path d="M309.98 215.38 L311.71 214.95 L312.82 214.2 L311.09 214.85 Z" fill="#c9447a" stroke="#c9447a"/>
<path d="M312.82 214.2 L314.56 213.65 L315.67 212.72 L313.93 213.44 Z" fill="#cf4c74" stroke="#cf4c74"/>
<path d="M329.89 205.48 L331.62 205.48 L332.73 205 L331 204.85 Z" fill="#f07f4f" stroke="#f07f4f"/>
<path d="M332.73 205 L334.47 205.24 L335.58 205.04 L333.84 204.64 Z" fill="#f07f4f" stroke="#f07f4f"/>
<path d="M335.58 205.04 L337.31 205.51 L338.42 205.57 L336.69 204.95 Z" fill="#ee7b51" stroke="#ee7b51"/>
<path d="M315.67 212.72 L317.4 212.13 L318.51 211.06 L316.78 211.76 Z" fill="#d6556d" stroke="#d6556d"/>
<path d="M318.51 211.06 L320.24 210.48 L321.36 209.36 L319.62 209.98 Z" fill="#de5f65" stroke="#de5f65"/>
<path d="M321.36 209.36 L323.09 208.84 L324.2 207.76 L322.47 208.25 Z" fill="#e56a5d" stroke="#e56a5d"/>
<path d="M338.42 205.57 L340.16 206.23 L341.27 206.5 L339.53 205.72 Z" fill="#ea7457" stroke="#ea7457"/>
<path d="M341.27 206.5 L343 207.3 L344.11 207.71 L342.38 206.83 Z" fill="#e56a5d" stroke="#e56a5d"/>
<path d="M358.33 213.16 L360.07 213.53 L361.18 213.54 L359.44 213.28 Z" fill="#bc3587" stroke="#bc3587"/>
<path d="M361.18 213.54 L362.91 213.78 L364.02 213.64 L362.29 213.5 Z" fill="#ba3388" stroke="#ba3388"/>
<path d="M364.02 213.64 L365.76 213.78 L366.87 213.5 L365.13 213.45 Z" fill="#b7318a" stroke="#b7318a"/>
<path d="M303.18 217.13 L304.91 217.21 L306.02 216.67 L304.29 216.76 Z" fill="#c33d80" stroke="#c33d80"/>
<path d="M306.02 216.67 L307.76 216.59 L308.87 215.96 L307.13 216.23 Z" fill="#c5407e" stroke="#c5407e"/>
<path d="M323.09 208.84 L324.82 208.39 L325.93 207.37 L324.2 207.76 Z" fill="#e97158" stroke="#e97158"/>
<path d="M325.93 207.37 L327.67 207.04 L328.78 206.21 L327.04 206.43 Z" fill="#ed7a52" stroke="#ed7a52"/>
<path d="M328.78 206.21 L330.51 206.06 L331.62 205.48 L329.89 205.48 Z" fill="#f07f4f" stroke="#f07f4f"/>
<path d="M343 207.3 L344.73 208.12 L345.84 208.57 L344.11 207.71 Z" fill="#e3685f" stroke="#e3685f"/>
<path d="M345.84 208.57 L347.58 209.43 L348.69 209.9 L346.96 209.04 Z" fill="#dc5d67" stroke="#dc5d67"/>
<path d="M348.69 209.9 L350.42 210.72 L351.53 211.14 L349.8 210.36 Z" fill="#d5536f" stroke="#d5536f"/>
<path d="M351.53 211.14 L353.27 211.87 L354.38 212.2 L352.64 211.54 Z" fill="#cc4977" stroke="#cc4977"/>
<path d="M354.38 212.2 L356.11 212.8 L357.22 213 L355.49 212.49 Z" fill="#c6417d" stroke="#c6417d"/>
<path d="M357.22 213 L358.96 213.47 L360.07 213.53 L358.33 213.16 Z" fill="#c13b82" stroke="#c13b82"/>
<path d="M300.33 217.4 L302.07 217.62 L303.18 217.13 L301.44 217.04 Z" fill="#c23c81" stroke="#c23c81"/>
<path d="M308.87 215.96 L310.6 215.72 L311.71 214.95 L309.98 215.38 Z" fill="#c9447a" stroke="#c9447a"/>
<path d="M311.71 214.95 L313.44 214.57 L314.56 213.65 L312.82 214.2 Z" fill="#ce4b75" stroke="#ce4b75"/>
<path d="M314.56 213.65 L316.29 213.18 L317.4 212.13 L315.67 212.72 Z" fill="#d5536f" stroke="#d5536f"/>
<path d="M331.62 205.48 L333.36 205.55 L334.47 205.24 L332.73 205 Z" fill="#f1814d" stroke="#f1814d"/>
<path d="M334.47 205.24 L336.2 205.55 L337.31 205.51 L335.58 205.04 Z" fill="#f0804e" stroke="#f0804e"/>
<path d="M337.31 205.51 L339.04 206.04 L340.16 206.23 L338.42 205.57 Z" fill="#ed7a52" stroke="#ed7a52"/>
<path d="M317.4 212.13 L319.13 211.6 L320.24 210.48 L318.51 211.06 Z" fill="#dc5d67" stroke="#dc5d67"/>
<path d="M320.24 210.48 L321.98 209.96 L323.09 208.84 L321.36 209.36 Z" fill="#e3685f" stroke="#e3685f"/>
<path d="M340.16 206.23 L341.89 206.94 L343 207.3 L341.27 206.5 Z" fill="#e97257" stroke="#e97257"/>
<path d="M360.07 213.53 L361.8 213.86 L362.91 213.78 L361.18 213.54 Z" fill="#bd3786" stroke="#bd3786"/>
<path d="M362.91 213.78 L364.64 214.01 L365.76 213.78 L364.02 213.64 Z" fill="#bb3488" stroke="#bb3488"/>
<path d="M302.07 217.62 L303.8 217.82 L304.91 217.21 L303.18 217.13 Z" fill="#c43e7f" stroke="#c43e7f"/>
<path d="M304.91 217.21 L306.64 217.27 L307.76 216.59 L306.02 216.67 Z" fill="#c6417d" stroke="#c6417d"/>
<path d="M307.76 216.59 L309.49 216.51 L310.6 215.72 L308.87 215.96 Z" fill="#c9447a" stroke="#c9447a"/>
<path d="M321.98 209.96 L323.71 209.47 L324.82 208.39 L323.09 208.84 Z" fill="#e76f5a" stroke="#e76f5a"/>
<path d="M324.82 208.39 L326.56 207.97 L327.67 207.04 L325.93 207.37 Z" fill="#ec7754" stroke="#ec7754"/>
<path d="M327.67 207.04 L329.4 206.76 L330.51 206.06 L328.78 206.21 Z" fill="#f07f4f" stroke="#f07f4f"/>
<path d="M330.51 206.06 L332.24 205.97 L333.36 205.55 L331.62 205.48 Z" fill="#f2844b" stroke="#f2844b"/>
<path d="M341.89 206.94 L343.62 207.68 L344.73 208.12 L343 207.3 Z" fill="#e87059" stroke="#e87059"/>
<path d="M344.73 208.12 L346.47 208.94 L347.58 209.43 L345.84 208.57 Z" fill="#e26561" stroke="#e26561"/>
<path d="M347.58 209.43 L349.31 210.26 L350.42 210.72 L348.69 209.9 Z" fill="#da5b69" stroke="#da5b69"/>
<path d="M350.42 210.72 L352.16 211.49 L353.27 211.87 L351.53 211.14 Z" fill="#d35171" stroke="#d35171"/>
<path d="M353.27 211.87 L355 212.55 L356.11 212.8 L354.38 212.2 Z" fill="#cc4778" stroke="#cc4778"/>
<path d="M356.11 212.8 L357.84 213.36 L358.96 213.47 L357.22 213 Z" fill="#c6417d" stroke="#c6417d"/>
<path d="M358.96 213.47 L360.69 213.9 L361.8 213.86 L360.07 213.53 Z" fill="#c23c81" stroke="#c23c81"/>
<path d="M310.6 215.72 L312.33 215.49 L313.44 214.57 L311.71 214.95 Z" fill="#cd4a76" stroke="#cd4a76"/>
<path d="M313.44 214.57 L315.18 214.22 L316.29 213.18 L314.56 213.65 Z" fill="#d45270" stroke="#d45270"/>
<path d="M316.29 213.18 L318.02 212.73 L319.13 211.6 L317.4 212.13 Z" fill="#da5a6a" stroke="#da5a6a"/>
<path d="M333.36 205.55 L335.09 205.69 L336.2 205.55 L334.47 205.24 Z" fill="#f2844b" stroke="#f2844b"/>
<path d="M336.2 205.55 L337.93 205.92 L339.04 206.04 L337.31 205.51 Z" fill="#f0804e" stroke="#f0804e"/>
<path d="M339.04 206.04 L340.78 206.62 L341.89 206.94 L340.16 206.23 Z" fill="#ed7a52" stroke="#ed7a52"/>
<path d="M319.13 211.6 L320.87 211.1 L321.98 209.96 L320.24 210.48 Z" fill="#e16462" stroke="#e16462"/>
<path d="M361.8 213.86 L363.53 214.19 L364.64 214.01 L362.91 213.78 Z" fill="#bf3984" stroke="#bf3984"/>
<path d="M340.78 206.62 L342.51 207.26 L343.62 207.68 L341.89 206.94 Z" fill="#ec7754" stroke="#ec7754"/>
<path d="M303.8 217.82 L305.53 218 L306.64 217.27 L304.91 217.21 Z" fill="#c6417d" stroke="#c6417d"/>
<path d="M306.64 217.27 L308.38 217.32 L309.49 216.51 L307.76 216.59 Z" fill="#c9447a" stroke="#c9447a"/>
<path d="M309.49 216.51 L311.22 216.41 L312.33 215.49 L310.6 215.72 Z" fill="#cc4977" stroke="#cc4977"/>
<path d="M320.87 211.1 L322.6 210.59 L323.71 209.47 L321.98 209.96 Z" fill="#e56b5d" stroke="#e56b5d"/>
<path d="M323.71 209.47 L325.44 208.98 L326.56 207.97 L324.82 208.39 Z" fill="#eb7556" stroke="#eb7556"/>
<path d="M326.56 207.97 L328.29 207.57 L329.4 206.76 L327.67 207.04 Z" fill="#ef7e50" stroke="#ef7e50"/>
<path d="M329.4 206.76 L331.13 206.52 L332.24 205.97 L330.51 206.06 Z" fill="#f2844b" stroke="#f2844b"/>
<path d="M332.24 205.97 L333.98 205.95 L335.09 205.69 L333.36 205.55 Z" fill="#f3874a" stroke="#f3874a"/>
<path d="M343.62 207.68 L345.36 208.45 L346.47 208.94 L344.73 208.12 Z" fill="#e76e5b" stroke="#e76e5b"/>
<path d="M346.47 208.94 L348.2 209.77 L349.31 210.26 L347.58 209.43 Z" fill="#e06363" stroke="#e06363"/>
<path d="M349.31 210.26 L351.04 211.07 L352.16 211.49 L350.42 210.72 Z" fill="#d9586a" stroke="#d9586a"/>
<path d="M352.16 211.49 L353.89 212.24 L355 212.55 L353.27 211.87 Z" fill="#d14e72" stroke="#d14e72"/>
<path d="M355 212.55 L356.73 213.19 L357.84 213.36 L356.11 212.8 Z" fill="#cb4679" stroke="#cb4679"/>
<path d="M357.84 213.36 L359.58 213.89 L360.69 213.9 L358.96 213.47 Z" fill="#c6417d" stroke="#c6417d"/>
<path d="M360.69 213.9 L362.42 214.33 L363.53 214.19 L361.8 213.86 Z" fill="#c23c81" stroke="#c23c81"/>
<path d="M312.33 215.49 L314.07 215.25 L315.18 214.22 L313.44 214.57 Z" fill="#d24f71" stroke="#d24f71"/>
<path d="M315.18 214.22 L316.91 213.85 L318.02 212.73 L316.29 213.18 Z" fill="#d8576b" stroke="#d8576b"/>
<path d="M318.02 212.73 L319.76 212.26 L320.87 211.1 L319.13 211.6 Z" fill="#de6164" stroke="#de6164"/>
<path d="M335.09 205.69 L336.82 205.9 L337.93 205.92 L336.2 205.55 Z" fill="#f3854b" stroke="#f3854b"/>
<path d="M337.93 205.92 L339.67 206.37 L340.78 206.62 L339.04 206.04 Z" fill="#f0804e" stroke="#f0804e"/>
<path d="M319.76 212.26 L321.49 211.76 L322.6 210.59 L320.87 211.1 Z" fill="#e3685f" stroke="#e3685f"/>
<path d="M339.67 206.37 L341.4 206.89 L342.51 207.26 L340.78 206.62 Z" fill="#f0804e" stroke="#f0804e"/>
<path d="M342.51 207.26 L344.24 207.95 L345.36 208.45 L343.62 207.68 Z" fill="#eb7655" stroke="#eb7655"/>
<path d="M305.53 218 L307.27 218.14 L308.38 217.32 L306.64 217.27 Z" fill="#c8437b" stroke="#c8437b"/>
<path d="M308.38 217.32 L310.11 217.33 L311.22 216.41 L309.49 216.51 Z" fill="#cc4778" stroke="#cc4778"/>
<path d="M311.22 216.41 L312.96 216.27 L314.07 215.25 L312.33 215.49 Z" fill="#d04d73" stroke="#d04d73"/>
<path d="M322.6 210.59 L324.33 210.06 L325.44 208.98 L323.71 209.47 Z" fill="#e97257" stroke="#e97257"/>
<path d="M325.44 208.98 L327.18 208.48 L328.29 207.57 L326.56 207.97 Z" fill="#ef7c51" stroke="#ef7c51"/>
<path d="M328.29 207.57 L330.02 207.19 L331.13 206.52 L329.4 206.76 Z" fill="#f2844b" stroke="#f2844b"/>
<path d="M331.13 206.52 L332.87 206.33 L333.98 205.95 L332.24 205.97 Z" fill="#f48948" stroke="#f48948"/>
<path d="M333.98 205.95 L335.71 205.99 L336.82 205.9 L335.09 205.69 Z" fill="#f58b47" stroke="#f58b47"/>
<path d="M345.36 208.45 L347.09 209.24 L348.2 209.77 L346.47 208.94 Z" fill="#e56b5d" stroke="#e56b5d"/>
<path d="M348.2 209.77 L349.93 210.6 L351.04 211.07 L349.31 210.26 Z" fill="#de6164" stroke="#de6164"/>
<path d="M351.04 211.07 L352.78 211.87 L353.89 212.24 L352.16 211.49 Z" fill="#d7566c" stroke="#d7566c"/>
<path d="M353.89 212.24 L355.62 212.96 L356.73 213.19 L355 212.55 Z" fill="#d04d73" stroke="#d04d73"/>
<path d="M356.73 213.19 L358.47 213.81 L359.58 213.89 L357.84 213.36 Z" fill="#cb4679" stroke="#cb4679"/>
<path d="M359.58 213.89 L361.31 214.4 L362.42 214.33 L360.69 213.9 Z" fill="#c6417d" stroke="#c6417d"/>
<path d="M314.07 215.25 L315.8 214.97 L316.91 213.85 L315.18 214.22 Z" fill="#d6556d" stroke="#d6556d"/>
<path d="M316.91 213.85 L318.64 213.44 L319.76 212.26 L318.02 212.73 Z" fill="#dc5d67" stroke="#dc5d67"/>
<path d="M336.82 205.9 L338.56 206.19 L339.67 206.37 L337.93 205.92 Z" fill="#f3874a" stroke="#f3874a"/>
<path d="M318.64 213.44 L320.38 212.96 L321.49 211.76 L319.76 212.26 Z" fill="#e16462" stroke="#e16462"/>
<path d="M321.49 211.76 L323.22 211.2 L324.33 210.06 L322.6 210.59 Z" fill="#e76f5a" stroke="#e76f5a"/>
<path d="M338.56 206.19 L340.29 206.57 L341.4 206.89 L339.67 206.37 Z" fill="#f48849" stroke="#f48849"/>
<path d="M341.4 206.89 L343.13 207.47 L344.24 207.95 L342.51 207.26 Z" fill="#f07f4f" stroke="#f07f4f"/>
<path d="M344.24 207.95 L345.98 208.69 L347.09 209.24 L345.36 208.45 Z" fill="#ea7457" stroke="#ea7457"/>
<path d="M307.27 218.14 L309 218.24 L310.11 217.33 L308.38 217.32 Z" fill="#cb4679" stroke="#cb4679"/>
<path d="M310.11 217.33 L311.84 217.28 L312.96 216.27 L311.22 216.41 Z" fill="#ce4b75" stroke="#ce4b75"/>
<path d="M312.96 216.27 L314.69 216.07 L315.8 214.97 L314.07 215.25 Z" fill="#d45270" stroke="#d45270"/>
<path d="M324.33 210.06 L326.07 209.49 L327.18 208.48 L325.44 208.98 Z" fill="#ed7a52" stroke="#ed7a52"/>
<path d="M327.18 208.48 L328.91 207.98 L330.02 207.19 L328.29 207.57 Z" fill="#f2844b" stroke="#f2844b"/>
<path d="M330.02 207.19 L331.76 206.84 L332.87 206.33 L331.13 206.52 Z" fill="#f58b47" stroke="#f58b47"/>
<path d="M332.87 206.33 L334.6 206.2 L335.71 205.99 L333.98 205.95 Z" fill="#f68d45" stroke="#f68d45"/>
<path d="M335.71 205.99 L337.44 206.11 L338.56 206.19 L336.82 205.9 Z" fill="#f68d45" stroke="#f68d45"/>
<path d="M347.09 209.24 L348.82 210.06 L349.93 210.6 L348.2 209.77 Z" fill="#e4695e" stroke="#e4695e"/>
<path d="M349.93 210.6 L351.67 211.43 L352.78 211.87 L351.04 211.07 Z" fill="#dd5e66" stroke="#dd5e66"/>
<path d="M352.78 211.87 L354.51 212.65 L355.62 212.96 L353.89 212.24 Z" fill="#d5546e" stroke="#d5546e"/>
<path d="M355.62 212.96 L357.36 213.66 L358.47 213.81 L356.73 213.19 Z" fill="#cf4c74" stroke="#cf4c74"/>
<path d="M358.47 213.81 L360.2 214.42 L361.31 214.4 L359.58 213.89 Z" fill="#ca457a" stroke="#ca457a"/>
<path d="M315.8 214.97 L317.53 214.62 L318.64 213.44 L316.91 213.85 Z" fill="#da5b69" stroke="#da5b69"/>
<path d="M337.44 206.11 L339.18 206.33 L340.29 206.57 L338.56 206.19 Z" fill="#f68f44" stroke="#f68f44"/>
<path d="M317.53 214.62 L319.27 214.18 L320.38 212.96 L318.64 213.44 Z" fill="#de6164" stroke="#de6164"/>
<path d="M320.38 212.96 L322.11 212.4 L323.22 211.2 L321.49 211.76 Z" fill="#e56b5d" stroke="#e56b5d"/>
<path d="M323.22 211.2 L324.96 210.59 L326.07 209.49 L324.33 210.06 Z" fill="#ec7754" stroke="#ec7754"/>
<path d="M340.29 206.57 L342.02 207.03 L343.13 207.47 L341.4 206.89 Z" fill="#f48849" stroke="#f48849"/>
<path d="M343.13 207.47 L344.87 208.14 L345.98 208.69 L344.24 207.95 Z" fill="#ef7e50" stroke="#ef7e50"/>
<path d="M345.98 208.69 L347.71 209.48 L348.82 210.06 L347.09 209.24 Z" fill="#e97158" stroke="#e97158"/>
<path d="M309 218.24 L310.73 218.27 L311.84 217.28 L310.11 217.33 Z" fill="#cd4a76" stroke="#cd4a76"/>
<path d="M311.84 217.28 L313.58 217.16 L314.69 216.07 L312.96 216.27 Z" fill="#d24f71" stroke="#d24f71"/>
<path d="M314.69 216.07 L316.42 215.79 L317.53 214.62 L315.8 214.97 Z" fill="#d8576b" stroke="#d8576b"/>
<path d="M326.07 209.49 L327.8 208.9 L328.91 207.98 L327.18 208.48 Z" fill="#f1814d" stroke="#f1814d"/>
<path d="M328.91 207.98 L330.64 207.5 L331.76 206.84 L330.02 207.19 Z" fill="#f58b47" stroke="#f58b47"/>
<path d="M331.76 206.84 L333.49 206.55 L334.6 206.2 L332.87 206.33 Z" fill="#f79044" stroke="#f79044"/>
<path d="M334.6 206.2 L336.33 206.15 L337.44 206.11 L335.71 205.99 Z" fill="#f79143" stroke="#f79143"/>
<path d="M348.82 210.06 L350.56 210.91 L351.67 211.43 L349.93 210.6 Z" fill="#e26660" stroke="#e26660"/>
<path d="M351.67 211.43 L353.4 212.26 L354.51 212.65 L352.78 211.87 Z" fill="#db5c68" stroke="#db5c68"/>
<path d="M354.51 212.65 L356.24 213.43 L357.36 213.66 L355.62 212.96 Z" fill="#d45270" stroke="#d45270"/>
<path d="M357.36 213.66 L359.09 214.36 L360.2 214.42 L358.47 213.81 Z" fill="#ce4b75" stroke="#ce4b75"/>
<path d="M316.42 215.79 L318.16 215.4 L319.27 214.18 L317.53 214.62 Z" fill="#dc5d67" stroke="#dc5d67"/>
<path d="M319.27 214.18 L321 213.64 L322.11 212.4 L320.38 212.96 Z" fill="#e3685f" stroke="#e3685f"/>
<path d="M322.11 212.4 L323.84 211.77 L324.96 210.59 L323.22 211.2 Z" fill="#ea7457" stroke="#ea7457"/>
<path d="M324.96 210.59 L326.69 209.93 L327.8 208.9 L326.07 209.49 Z" fill="#f07f4f" stroke="#f07f4f"/>
<path d="M336.33 206.15 L338.07 206.2 L339.18 206.33 L337.44 206.11 Z" fill="#f89540" stroke="#f89540"/>
<path d="M339.18 206.33 L340.91 206.65 L342.02 207.03 L340.29 206.57 Z" fill="#f79044" stroke="#f79044"/>
<path d="M342.02 207.03 L343.76 207.59 L344.87 208.14 L343.13 207.47 Z" fill="#f3874a" stroke="#f3874a"/>
<path d="M344.87 208.14 L346.6 208.87 L347.71 209.48 L345.98 208.69 Z" fill="#ee7b51" stroke="#ee7b51"/>
<path d="M347.71 209.48 L349.44 210.33 L350.56 210.91 L348.82 210.06 Z" fill="#e76f5a" stroke="#e76f5a"/>
<path d="M310.73 218.27 L312.47 218.23 L313.58 217.16 L311.84 217.28 Z" fill="#d04d73" stroke="#d04d73"/>
<path d="M313.58 217.16 L315.31 216.95 L316.42 215.79 L314.69 216.07 Z" fill="#d5546e" stroke="#d5546e"/>
<path d="M327.8 208.9 L329.53 208.3 L330.64 207.5 L328.91 207.98 Z" fill="#f58b47" stroke="#f58b47"/>
<path d="M330.64 207.5 L332.38 207.06 L333.49 206.55 L331.76 206.84 Z" fill="#f79342" stroke="#f79342"/>
<path d="M333.49 206.55 L335.22 206.34 L336.33 206.15 L334.6 206.2 Z" fill="#f89540" stroke="#f89540"/>
<path d="M350.56 210.91 L352.29 211.78 L353.4 212.26 L351.67 211.43 Z" fill="#e16462" stroke="#e16462"/>
<path d="M353.4 212.26 L355.13 213.1 L356.24 213.43 L354.51 212.65 Z" fill="#da5a6a" stroke="#da5a6a"/>
<path d="M356.24 213.43 L357.98 214.2 L359.09 214.36 L357.36 213.66 Z" fill="#d35171" stroke="#d35171"/>
<path d="M315.31 216.95 L317.04 216.63 L318.16 215.4 L316.42 215.79 Z" fill="#da5a6a" stroke="#da5a6a"/>
<path d="M318.16 215.4 L319.89 214.91 L321 213.64 L319.27 214.18 Z" fill="#e16462" stroke="#e16462"/>
<path d="M321 213.64 L322.73 213.02 L323.84 211.77 L322.11 212.4 Z" fill="#e87059" stroke="#e87059"/>
<path d="M335.22 206.34 L336.96 206.22 L338.07 206.2 L336.33 206.15 Z" fill="#fa9b3d" stroke="#fa9b3d"/>
<path d="M338.07 206.2 L339.8 206.38 L340.91 206.65 L339.18 206.33 Z" fill="#f9983e" stroke="#f9983e"/>
<path d="M340.91 206.65 L342.64 207.1 L343.76 207.59 L342.02 207.03 Z" fill="#f79044" stroke="#f79044"/>
<path d="M312.47 218.23 L314.2 218.09 L315.31 216.95 L313.58 217.16 Z" fill="#d45270" stroke="#d45270"/>
<path d="M323.84 211.77 L325.58 211.08 L326.69 209.93 L324.96 210.59 Z" fill="#ef7c51" stroke="#ef7c51"/>
<path d="M326.69 209.93 L328.42 209.25 L329.53 208.3 L327.8 208.9 Z" fill="#f48849" stroke="#f48849"/>
<path d="M329.53 208.3 L331.27 207.73 L332.38 207.06 L330.64 207.5 Z" fill="#f79342" stroke="#f79342"/>
<path d="M332.38 207.06 L334.11 206.69 L335.22 206.34 L333.49 206.55 Z" fill="#f9983e" stroke="#f9983e"/>
<path d="M343.76 207.59 L345.49 208.26 L346.6 208.87 L344.87 208.14 Z" fill="#f3854b" stroke="#f3854b"/>
<path d="M346.6 208.87 L348.33 209.69 L349.44 210.33 L347.71 209.48 Z" fill="#ed7953" stroke="#ed7953"/>
<path d="M349.44 210.33 L351.18 211.22 L352.29 211.78 L350.56 210.91 Z" fill="#e66c5c" stroke="#e66c5c"/>
<path d="M352.29 211.78 L354.02 212.68 L355.13 213.1 L353.4 212.26 Z" fill="#de6164" stroke="#de6164"/>
<path d="M355.13 213.1 L356.87 213.95 L357.98 214.2 L356.24 213.43 Z" fill="#d8576b" stroke="#d8576b"/>
<path d="M314.2 218.09 L315.93 217.84 L317.04 216.63 L315.31 216.95 Z" fill="#d7566c" stroke="#d7566c"/>
<path d="M317.04 216.63 L318.78 216.2 L319.89 214.91 L318.16 215.4 Z" fill="#de5f65" stroke="#de5f65"/>
<path d="M319.89 214.91 L321.62 214.32 L322.73 213.02 L321 213.64 Z" fill="#e56b5d" stroke="#e56b5d"/>
<path d="M322.73 213.02 L324.47 212.31 L325.58 211.08 L323.84 211.77 Z" fill="#ed7953" stroke="#ed7953"/>
<path d="M325.58 211.08 L327.31 210.34 L328.42 209.25 L326.69 209.93 Z" fill="#f3854b" stroke="#f3854b"/>
<path d="M328.42 209.25 L330.16 208.58 L331.27 207.73 L329.53 208.3 Z" fill="#f79143" stroke="#f79143"/>
<path d="M334.11 206.69 L335.84 206.41 L336.96 206.22 L335.22 206.34 Z" fill="#fb9f3a" stroke="#fb9f3a"/>
<path d="M336.96 206.22 L338.69 206.24 L339.8 206.38 L338.07 206.2 Z" fill="#fb9f3a" stroke="#fb9f3a"/>
<path d="M339.8 206.38 L341.53 206.69 L342.64 207.1 L340.91 206.65 Z" fill="#f99a3e" stroke="#f99a3e"/>
<path d="M342.64 207.1 L344.38 207.67 L345.49 208.26 L343.76 207.59 Z" fill="#f79044" stroke="#f79044"/>
<path d="M345.49 208.26 L347.22 209.03 L348.33 209.69 L346.6 208.87 Z" fill="#f1834c" stroke="#f1834c"/>
<path d="M348.33 209.69 L350.07 210.58 L351.18 211.22 L349.44 210.33 Z" fill="#eb7655" stroke="#eb7655"/>
<path d="M351.18 211.22 L352.91 212.15 L354.02 212.68 L352.29 211.78 Z" fill="#e56a5d" stroke="#e56a5d"/>
<path d="M331.27 207.73 L333 207.22 L334.11 206.69 L332.38 207.06 Z" fill="#fa9b3d" stroke="#fa9b3d"/>
<path d="M354.02 212.68 L355.76 213.59 L356.87 213.95 L355.13 213.1 Z" fill="#dd5e66" stroke="#dd5e66"/>
<path d="M315.93 217.84 L317.67 217.48 L318.78 216.2 L317.04 216.63 Z" fill="#db5c68" stroke="#db5c68"/>
<path d="M318.78 216.2 L320.51 215.65 L321.62 214.32 L319.89 214.91 Z" fill="#e26660" stroke="#e26660"/>
<path d="M321.62 214.32 L323.36 213.63 L324.47 212.31 L322.73 213.02 Z" fill="#ea7457" stroke="#ea7457"/>
<path d="M324.47 212.31 L326.2 211.55 L327.31 210.34 L325.58 211.08 Z" fill="#f1814d" stroke="#f1814d"/>
<path d="M333 207.22 L334.73 206.8 L335.84 206.41 L334.11 206.69 Z" fill="#fba238" stroke="#fba238"/>
<path d="M335.84 206.41 L337.58 206.27 L338.69 206.24 L336.96 206.22 Z" fill="#fca537" stroke="#fca537"/>
<path d="M338.69 206.24 L340.42 206.41 L341.53 206.69 L339.8 206.38 Z" fill="#fba139" stroke="#fba139"/>
<path d="M341.53 206.69 L343.27 207.15 L344.38 207.67 L342.64 207.1 Z" fill="#f99a3e" stroke="#f99a3e"/>
<path d="M344.38 207.67 L346.11 208.38 L347.22 209.03 L345.49 208.26 Z" fill="#f68d45" stroke="#f68d45"/>
<path d="M327.31 210.34 L329.04 209.59 L330.16 208.58 L328.42 209.25 Z" fill="#f68f44" stroke="#f68f44"/>
<path d="M330.16 208.58 L331.89 207.94 L333 207.22 L331.27 207.73 Z" fill="#fa9b3d" stroke="#fa9b3d"/>
<path d="M347.22 209.03 L348.96 209.91 L350.07 210.58 L348.33 209.69 Z" fill="#f0804e" stroke="#f0804e"/>
<path d="M350.07 210.58 L351.8 211.55 L352.91 212.15 L351.18 211.22 Z" fill="#e97257" stroke="#e97257"/>
<path d="M352.91 212.15 L354.64 213.13 L355.76 213.59 L354.02 212.68 Z" fill="#e26660" stroke="#e26660"/>
<path d="M317.67 217.48 L319.4 217 L320.51 215.65 L318.78 216.2 Z" fill="#e06363" stroke="#e06363"/>
<path d="M320.51 215.65 L322.24 215.01 L323.36 213.63 L321.62 214.32 Z" fill="#e76f5a" stroke="#e76f5a"/>
<path d="M323.36 213.63 L325.09 212.87 L326.2 211.55 L324.47 212.31 Z" fill="#ef7c51" stroke="#ef7c51"/>
<path d="M326.2 211.55 L327.93 210.76 L329.04 209.59 L327.31 210.34 Z" fill="#f58c46" stroke="#f58c46"/>
<path d="M329.04 209.59 L330.78 208.87 L331.89 207.94 L330.16 208.58 Z" fill="#f9983e" stroke="#f9983e"/>
<path d="M331.89 207.94 L333.62 207.4 L334.73 206.8 L333 207.22 Z" fill="#fca338" stroke="#fca338"/>
<path d="M334.73 206.8 L336.47 206.51 L337.58 206.27 L335.84 206.41 Z" fill="#fca934" stroke="#fca934"/>
<path d="M337.58 206.27 L339.31 206.3 L340.42 206.41 L338.69 206.24 Z" fill="#fca835" stroke="#fca835"/>
<path d="M340.42 206.41 L342.16 206.75 L343.27 207.15 L341.53 206.69 Z" fill="#fba238" stroke="#fba238"/>
<path d="M343.27 207.15 L345 207.78 L346.11 208.38 L344.38 207.67 Z" fill="#f9983e" stroke="#f9983e"/>
<path d="M346.11 208.38 L347.84 209.23 L348.96 209.91 L347.22 209.03 Z" fill="#f58b47" stroke="#f58b47"/>
<path d="M348.96 209.91 L350.69 210.89 L351.8 211.55 L350.07 210.58 Z" fill="#ef7c51" stroke="#ef7c51"/>
<path d="M351.8 211.55 L353.53 212.58 L354.64 213.13 L352.91 212.15 Z" fill="#e76f5a" stroke="#e76f5a"/>
<path d="M330.78 208.87 L332.51 208.22 L333.62 207.4 L331.89 207.94 Z" fill="#fba238" stroke="#fba238"/>
<path d="M333.62 207.4 L335.36 206.98 L336.47 206.51 L334.73 206.8 Z" fill="#fdab33" stroke="#fdab33"/>
<path d="M319.4 217 L321.13 216.42 L322.24 215.01 L320.51 215.65 Z" fill="#e56a5d" stroke="#e56a5d"/>
<path d="M322.24 215.01 L323.98 214.28 L325.09 212.87 L323.36 213.63 Z" fill="#ec7754" stroke="#ec7754"/>
<path d="M325.09 212.87 L326.82 212.07 L327.93 210.76 L326.2 211.55 Z" fill="#f3874a" stroke="#f3874a"/>
<path d="M327.93 210.76 L329.67 209.98 L330.78 208.87 L329.04 209.59 Z" fill="#f89540" stroke="#f89540"/>
<path d="M336.47 206.51 L338.2 206.4 L339.31 206.3 L337.58 206.27 Z" fill="#fdae32" stroke="#fdae32"/>
<path d="M339.31 206.3 L341.04 206.52 L342.16 206.75 L340.42 206.41 Z" fill="#fdab33" stroke="#fdab33"/>
<path d="M342.16 206.75 L343.89 207.29 L345 207.78 L343.27 207.15 Z" fill="#fba238" stroke="#fba238"/>
<path d="M345 207.78 L346.73 208.58 L347.84 209.23 L346.11 208.38 Z" fill="#f89540" stroke="#f89540"/>
<path d="M347.84 209.23 L349.58 210.21 L350.69 210.89 L348.96 209.91 Z" fill="#f48849" stroke="#f48849"/>
<path d="M350.69 210.89 L352.42 211.96 L353.53 212.58 L351.8 211.55 Z" fill="#ed7953" stroke="#ed7953"/>
<path d="M329.67 209.98 L331.4 209.25 L332.51 208.22 L330.78 208.87 Z" fill="#fb9f3a" stroke="#fb9f3a"/>
<path d="M321.13 216.42 L322.87 215.75 L323.98 214.28 L322.24 215.01 Z" fill="#e97257" stroke="#e97257"/>
<path d="M323.98 214.28 L325.71 213.5 L326.82 212.07 L325.09 212.87 Z" fill="#f1814d" stroke="#f1814d"/>
<path d="M326.82 212.07 L328.56 211.26 L329.67 209.98 L327.93 210.76 Z" fill="#f79143" stroke="#f79143"/>
<path d="M332.51 208.22 L334.24 207.69 L335.36 206.98 L333.62 207.4 Z" fill="#fdab33" stroke="#fdab33"/>
<path d="M335.36 206.98 L337.09 206.73 L338.2 206.4 L336.47 206.51 Z" fill="#fdb22f" stroke="#fdb22f"/>
<path d="M338.2 206.4 L339.93 206.49 L341.04 206.52 L339.31 206.3 Z" fill="#fdb22f" stroke="#fdb22f"/>
<path d="M341.04 206.52 L342.78 206.95 L343.89 207.29 L342.16 206.75 Z" fill="#fdac33" stroke="#fdac33"/>
<path d="M343.89 207.29 L345.62 208.02 L346.73 208.58 L345 207.78 Z" fill="#fba139" stroke="#fba139"/>
<path d="M346.73 208.58 L348.47 209.54 L349.58 210.21 L347.84 209.23 Z" fill="#f79342" stroke="#f79342"/>
<path d="M349.58 210.21 L351.31 211.31 L352.42 211.96 L350.69 210.89 Z" fill="#f1834c" stroke="#f1834c"/>
<path d="M328.56 211.26 L330.29 210.5 L331.4 209.25 L329.67 209.98 Z" fill="#fa9c3c" stroke="#fa9c3c"/>
<path d="M331.4 209.25 L333.13 208.64 L334.24 207.69 L332.51 208.22 Z" fill="#fca934" stroke="#fca934"/>
<path d="M334.24 207.69 L335.98 207.33 L337.09 206.73 L335.36 206.98 Z" fill="#fdb42f" stroke="#fdb42f"/>
<path d="M337.09 206.73 L338.82 206.7 L339.93 206.49 L338.2 206.4 Z" fill="#feb72d" stroke="#feb72d"/>
<path d="M322.87 215.75 L324.6 215.02 L325.71 213.5 L323.98 214.28 Z" fill="#ee7b51" stroke="#ee7b51"/>
<path d="M325.71 213.5 L327.44 212.7 L328.56 211.26 L326.82 212.07 Z" fill="#f58c46" stroke="#f58c46"/>
<path d="M339.93 206.49 L341.67 206.81 L342.78 206.95 L341.04 206.52 Z" fill="#fdb42f" stroke="#fdb42f"/>
<path d="M342.78 206.95 L344.51 207.6 L345.62 208.02 L343.89 207.29 Z" fill="#fdab33" stroke="#fdab33"/>
<path d="M345.62 208.02 L347.36 208.95 L348.47 209.54 L346.73 208.58 Z" fill="#fa9e3b" stroke="#fa9e3b"/>
<path d="M348.47 209.54 L350.2 210.66 L351.31 211.31 L349.58 210.21 Z" fill="#f68f44" stroke="#f68f44"/>
<path d="M327.44 212.7 L329.18 211.92 L330.29 210.5 L328.56 211.26 Z" fill="#f9973f" stroke="#f9973f"/>
<path d="M330.29 210.5 L332.02 209.83 L333.13 208.64 L331.4 209.25 Z" fill="#fca636" stroke="#fca636"/>
<path d="M333.13 208.64 L334.87 208.19 L335.98 207.33 L334.24 207.69 Z" fill="#fdb22f" stroke="#fdb22f"/>
<path d="M324.6 215.02 L326.33 214.25 L327.44 212.7 L325.71 213.5 Z" fill="#f3854b" stroke="#f3854b"/>
<path d="M335.98 207.33 L337.71 207.18 L338.82 206.7 L337.09 206.73 Z" fill="#feba2c" stroke="#feba2c"/>
<path d="M338.82 206.7 L340.56 206.9 L341.67 206.81 L339.93 206.49 Z" fill="#feba2c" stroke="#feba2c"/>
<path d="M341.67 206.81 L343.4 207.37 L344.51 207.6 L342.78 206.95 Z" fill="#fdb42f" stroke="#fdb42f"/>
<path d="M344.51 207.6 L346.24 208.48 L347.36 208.95 L345.62 208.02 Z" fill="#fca835" stroke="#fca835"/>
<path d="M347.36 208.95 L349.09 210.07 L350.2 210.66 L348.47 209.54 Z" fill="#f99a3e" stroke="#f99a3e"/>
<path d="M326.33 214.25 L328.07 213.5 L329.18 211.92 L327.44 212.7 Z" fill="#f79044" stroke="#f79044"/>
<path d="M329.18 211.92 L330.91 211.22 L332.02 209.83 L330.29 210.5 Z" fill="#fba139" stroke="#fba139"/>
<path d="M332.02 209.83 L333.76 209.3 L334.87 208.19 L333.13 208.64 Z" fill="#fdaf31" stroke="#fdaf31"/>
<path d="M334.87 208.19 L336.6 207.93 L337.71 207.18 L335.98 207.33 Z" fill="#feba2c" stroke="#feba2c"/>
<path d="M337.71 207.18 L339.44 207.27 L340.56 206.9 L338.82 206.7 Z" fill="#febe2a" stroke="#febe2a"/>
<path d="M340.56 206.9 L342.29 207.37 L343.4 207.37 L341.67 206.81 Z" fill="#febb2b" stroke="#febb2b"/>
<path d="M343.4 207.37 L345.13 208.19 L346.24 208.48 L344.51 207.6 Z" fill="#fdb22f" stroke="#fdb22f"/>
<path d="M346.24 208.48 L347.98 209.58 L349.09 210.07 L347.36 208.95 Z" fill="#fca338" stroke="#fca338"/>
<path d="M328.07 213.5 L329.8 212.8 L330.91 211.22 L329.18 211.92 Z" fill="#f99a3e" stroke="#f99a3e"/>
<path d="M330.91 211.22 L332.64 210.65 L333.76 209.3 L332.02 209.83 Z" fill="#fdab33" stroke="#fdab33"/>
<path d="M333.76 209.3 L335.49 208.97 L336.6 207.93 L334.87 208.19 Z" fill="#feb72d" stroke="#feb72d"/>
<path d="M336.6 207.93 L338.33 207.93 L339.44 207.27 L337.71 207.18 Z" fill="#febe2a" stroke="#febe2a"/>
<path d="M339.44 207.27 L341.18 207.64 L342.29 207.37 L340.56 206.9 Z" fill="#fec029" stroke="#fec029"/>
<path d="M342.29 207.37 L344.02 208.11 L345.13 208.19 L343.4 207.37 Z" fill="#feba2c" stroke="#feba2c"/>
<path d="M345.13 208.19 L346.87 209.25 L347.98 209.58 L346.24 208.48 Z" fill="#fdae32" stroke="#fdae32"/>
<path d="M329.8 212.8 L331.53 212.21 L332.64 210.65 L330.91 211.22 Z" fill="#fca338" stroke="#fca338"/>
<path d="M332.64 210.65 L334.38 210.26 L335.49 208.97 L333.76 209.3 Z" fill="#fdb22f" stroke="#fdb22f"/>
<path d="M335.49 208.97 L337.22 208.87 L338.33 207.93 L336.6 207.93 Z" fill="#febd2a" stroke="#febd2a"/>
<path d="M338.33 207.93 L340.07 208.2 L341.18 207.64 L339.44 207.27 Z" fill="#fdc229" stroke="#fdc229"/>
<path d="M341.18 207.64 L342.91 208.29 L344.02 208.11 L342.29 207.37 Z" fill="#febe2a" stroke="#febe2a"/>
<path d="M344.02 208.11 L345.76 209.11 L346.87 209.25 L345.13 208.19 Z" fill="#fdb52e" stroke="#fdb52e"/>
<path d="M331.53 212.21 L333.27 211.77 L334.38 210.26 L332.64 210.65 Z" fill="#fdac33" stroke="#fdac33"/>
<path d="M334.38 210.26 L336.11 210.08 L337.22 208.87 L335.49 208.97 Z" fill="#feba2c" stroke="#feba2c"/>
<path d="M337.22 208.87 L338.96 209.04 L340.07 208.2 L338.33 207.93 Z" fill="#fdc229" stroke="#fdc229"/>
<path d="M340.07 208.2 L341.8 208.75 L342.91 208.29 L341.18 207.64 Z" fill="#fdc229" stroke="#fdc229"/>
<path d="M342.91 208.29 L344.64 209.22 L345.76 209.11 L344.02 208.11 Z" fill="#febb2b" stroke="#febb2b"/>
<path d="M333.27 211.77 L335 211.54 L336.11 210.08 L334.38 210.26 Z" fill="#fdb42f" stroke="#fdb42f"/>
<path d="M336.11 210.08 L337.84 210.16 L338.96 209.04 L337.22 208.87 Z" fill="#febe2a" stroke="#febe2a"/>
<path d="M338.96 209.04 L340.69 209.49 L341.8 208.75 L340.07 208.2 Z" fill="#fdc328" stroke="#fdc328"/>
<path d="M341.8 208.75 L343.53 209.59 L344.64 209.22 L342.91 208.29 Z" fill="#fec029" stroke="#fec029"/>
<path d="M335 211.54 L336.73 211.53 L337.84 210.16 L336.11 210.08 Z" fill="#feb82c" stroke="#feb82c"/>
<path d="M337.84 210.16 L339.58 210.51 L340.69 209.49 L338.96 209.04 Z" fill="#fec029" stroke="#fec029"/>
<path d="M340.69 209.49 L342.42 210.24 L343.53 209.59 L341.8 208.75 Z" fill="#fec029" stroke="#fec029"/>
<path d="M336.73 211.53 L338.47 211.79 L339.58 210.51 L337.84 210.16 Z" fill="#febb2b" stroke="#febb2b"/>
<path d="M339.58 210.51 L341.31 211.15 L342.42 210.24 L340.69 209.49 Z" fill="#fec029" stroke="#fec029"/>
<path d="M338.47 211.79 L340.2 212.32 L341.31 211.15 L339.58 210.51 Z" fill="#febb2b" stroke="#febb2b"/>
</g>
<path d="M244.25 228.5 L246.17 228.37 L248.08 227.98 L250 227.35 L251.92 226.49 L253.84 225.41 L255.75 224.13 L257.67 222.67 L259.59 221.02 L261.5 219.22 L263.42 217.27 L265.34 215.18 L267.26 212.97 L269.17 210.66 L271.09 208.25 L273.01 205.76 L274.92 203.21 L276.84 200.63 L278.76 198.02 L280.67 195.41 L282.59 192.81 L284.51 190.24 L286.43 187.73 L288.34 185.28 L290.26 182.92 L292.18 180.67 L294.09 178.54 L296.01 176.56 L297.93 174.72 L299.85 173.02 L301.76 171.47 L303.68 170.05 L305.6 168.78 L307.51 167.64 L309.43 166.64 L311.35 165.77 L313.27 165.03 L315.18 164.42 L317.1 163.93 L319.02 163.57 L320.93 163.33 L322.85 163.21 L324.77 163.21 L326.68 163.33 L328.6 163.56 L330.52 163.91 L332.44 164.37 L334.35 164.94 L336.27 165.62 L338.19 166.4 L340.1 167.3 L342.02 168.3 L343.94 169.4 L345.86 170.6 L347.77 171.91 L349.69 173.31 L351.61 174.8 L353.52 176.36 L355.44 177.98 L357.36 179.63 L359.28 181.31 L361.19 183 L363.11 184.68 L365.03 186.34 L366.94 187.97 L368.86 189.54 L370.78 191.05 L372.69 192.48 L374.61 193.82 L376.53 195.06 L378.45 196.21 L380.36 197.25 L382.28 198.19 L384.2 199.02 L386.11 199.73 L388.03 200.32 L389.95 200.78 L391.87 201.12 L393.78 201.33 L395.7 201.4" fill="none" stroke="#000" stroke-width="1.3"/>
<circle cx="244.25" cy="228.5" r="1.75" fill="#3512c4" stroke="#000" stroke-width="1.2"/>
<circle cx="269.5" cy="210.25" r="1.75" fill="#fff" stroke="#000" stroke-width="1.2"/>
<circle cx="294.7" cy="177.9" r="1.75" fill="#fff" stroke="#000" stroke-width="1.2"/>
<circle cx="324.1" cy="163.2" r="1.75" fill="#f0e020" stroke="#000" stroke-width="1.2"/>
<circle cx="347.9" cy="172" r="1.75" fill="#fff" stroke="#000" stroke-width="1.2"/>
<circle cx="371.5" cy="191.6" r="1.75" fill="#fff" stroke="#000" stroke-width="1.2"/>
<circle cx="395.7" cy="201.4" r="1.75" fill="#3512c4" stroke="#000" stroke-width="1.2"/>
<text x="235" y="222.3">initial</text>
<text x="293.7" y="158.4">transition state</text>
<text x="388" y="194.5">final</text>
<path d="M413.2 163.4 V191 M413.2 202 V228.3 M411.2 163.4 h4 M411.2 228.3 h4" class="gb"/>
<path d="M395.4 204 V210 M395.4 220 V228.3 M393.4 228.3 h4" class="gb"/>
<text x="408" y="199"><tspan class="i">E</tspan><tspan class="sub" dy="1.5">m</tspan></text>
<text x="390.6" y="217.6">Δ<tspan class="i">E</tspan></text>
</svg></body></html>
